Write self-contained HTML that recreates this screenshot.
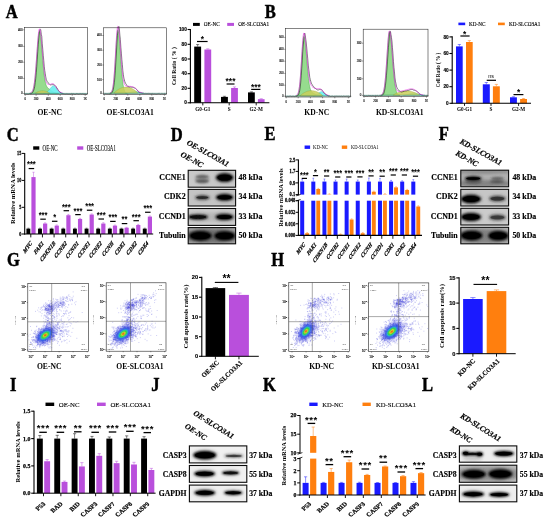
<!DOCTYPE html>
<html lang="en">
<head>
<meta charset="utf-8">
<title>Figure</title>
<style>
html,body{margin:0;padding:0;background:#fff;}
body{width:550px;height:523px;overflow:hidden;}
svg{display:block;font-family:"Liberation Serif",serif;}
</style>
</head>
<body>
<svg width="550" height="523" viewBox="0 0 550 523">
<defs>
<filter id="b1" x="-50%" y="-50%" width="200%" height="200%"><feGaussianBlur stdDeviation="0.9"/></filter>
<filter id="b2" x="-50%" y="-50%" width="200%" height="200%"><feGaussianBlur stdDeviation="1.6"/></filter>
<filter id="b0" x="-50%" y="-50%" width="200%" height="200%"><feGaussianBlur stdDeviation="0.45"/></filter>
<filter id="soft" x="-5%" y="-5%" width="110%" height="110%"><feGaussianBlur stdDeviation="0.3"/></filter>
</defs>
<rect width="550" height="523" fill="#fff"/>
<text font-size="18.4" font-weight="bold" stroke="#000" stroke-width="0.45" transform="translate(5.8 17.8) scale(0.9 1)">A</text>
<text font-size="18.4" font-weight="bold" stroke="#000" stroke-width="0.45" transform="translate(264.7 17.8) scale(0.9 1)">B</text>
<g>
<rect x="24.5" y="27.6" width="62.8" height="66.9" fill="#fff"/>
<path d="M29.75,93.4 L29.75,93.31 30,93.27 30.25,93.22 30.5,93.16 30.75,93.08 31,92.96 31.25,92.82 31.5,92.63 31.75,92.39 32,92.09 32.25,91.71 32.5,91.25 32.75,90.68 33,89.98 33.25,89.15 33.5,88.15 33.75,86.98 34,85.61 34.25,84.04 34.5,82.24 34.75,80.21 35,77.94 35.25,75.44 35.5,72.71 35.75,69.77 36,66.64 36.25,63.36 36.5,59.96 36.75,56.49 37,53.01 37.25,49.59 37.5,46.28 37.75,43.15 38,40.27 38.25,37.7 38.5,35.51 38.75,33.75 39,32.45 39.25,31.67 39.5,31.4 39.75,31.64 40,32.36 40.25,33.53 40.5,35.13 40.75,37.11 41,39.43 41.25,42.03 41.5,44.85 41.75,47.84 42,50.93 42.25,54.06 42.5,57.19 42.75,60.25 43,63.22 43.25,66.05 43.5,68.71 43.75,71.19 44,73.47 44.25,75.54 44.5,77.4 44.75,79.06 45,80.52 45.25,81.79 45.5,82.9 45.75,83.85 46,84.66 46.25,85.36 46.5,85.94 46.75,86.44 47,86.87 47.25,87.23 47.5,87.55 47.75,87.83 48,88.07 48.25,88.3 48.5,88.51 48.75,88.71 49,88.9 49.25,89.09 49.5,89.28 49.75,89.47 50,89.65 50.25,89.84 50.5,90.02 50.75,90.21 51,90.39 51.25,90.58 51.5,90.76 51.75,90.93 52,91.11 52.25,91.27 52.5,91.44 52.75,91.59 53,91.74 53.25,91.89 53.5,92.02 53.75,92.15 54,92.27 54.25,92.38 54.5,92.48 54.75,92.58 55,92.67 55.25,92.75 55.5,92.83 55.75,92.89 56,92.95 56.25,93.01 56.5,93.06 56.75,93.1 57,93.14 57.25,93.18 57.5,93.21 57.75,93.24 58,93.26 58.25,93.28 58.5,93.3 58.75,93.31 L58.75,93.4 Z" fill="#96dc8e" fill-opacity="1" stroke="#3f9f3f" stroke-width="0.45"/>
<path d="M43.25,93.4 L43.25,93.31 43.5,93.29 43.75,93.26 44,93.23 44.25,93.2 44.5,93.15 44.75,93.1 45,93.04 45.25,92.97 45.5,92.89 45.75,92.8 46,92.69 46.25,92.57 46.5,92.43 46.75,92.28 47,92.11 47.25,91.92 47.5,91.71 47.75,91.49 48,91.25 48.25,90.99 48.5,90.71 48.75,90.42 49,90.11 49.25,89.79 49.5,89.46 49.75,89.13 50,88.79 50.25,88.45 50.5,88.12 50.75,87.79 51,87.48 51.25,87.18 51.5,86.9 51.75,86.64 52,86.42 52.25,86.22 52.5,86.06 52.75,85.94 53,85.85 53.25,85.81 53.5,85.8 53.75,85.84 54,85.92 54.25,86.05 54.5,86.21 54.75,86.41 55,86.64 55.25,86.91 55.5,87.19 55.75,87.5 56,87.83 56.25,88.17 56.5,88.51 56.75,88.86 57,89.21 57.25,89.55 57.5,89.89 57.75,90.21 58,90.52 58.25,90.82 58.5,91.1 58.75,91.36 59,91.6 59.25,91.82 59.5,92.02 59.75,92.21 60,92.37 60.25,92.52 60.5,92.65 60.75,92.76 61,92.86 61.25,92.95 61.5,93.03 61.75,93.09 62,93.15 62.25,93.19 62.5,93.23 62.75,93.26 63,93.29 63.25,93.31 L63.25,93.4 Z" fill="#6aeeee" fill-opacity="0.9" stroke="#2aa" stroke-width="0.25"/>
<path d="M35.25,93.4 L35.25,93.15 35.5,92.97 35.75,92.81 36,92.66 36.25,92.52 36.5,92.38 36.75,92.26 37,92.13 37.25,92.02 37.5,91.91 37.75,91.8 38,91.7 38.25,91.6 38.5,91.51 38.75,91.43 39,91.35 39.25,91.27 39.5,91.21 39.75,91.14 40,91.08 40.25,91.03 40.5,90.98 40.75,90.94 41,90.9 41.25,90.87 41.5,90.85 41.75,90.83 42,90.81 42.25,90.8 42.5,90.8 42.75,90.8 43,90.81 43.25,90.83 43.5,90.85 43.75,90.87 44,90.9 44.25,90.94 44.5,90.98 44.75,91.03 45,91.08 45.25,91.14 45.5,91.21 45.75,91.27 46,91.35 46.25,91.43 46.5,91.51 46.75,91.6 47,91.7 47.25,91.8 47.5,91.91 47.75,92.02 48,92.13 48.25,92.26 48.5,92.38 48.75,92.52 49,92.66 49.25,92.81 49.5,92.97 49.75,93.15 L49.75,93.4 Z" fill="#c9cf5a" fill-opacity="0.85" stroke="#8a8f2a" stroke-width="0.25"/>
<polyline points="25.25,93.73 25.75,93.7 26.25,93.97 26.75,93.58 27.25,93.88 27.75,93.76 28.25,93.76 28.75,93.92 29.25,93.55 29.75,93.6 30.25,93.9 30.75,93.58 31.25,93.75 31.75,93.32 32.25,92.79 32.75,92.22 33.25,91.47 33.75,90.14 34.25,88.63 34.75,86.29 35.25,82.42 35.75,78.37 36.25,72.79 36.75,66.55 37.25,59.12 37.75,51.71 38.25,44.26 38.75,38.89 39.25,32.96 39.75,29.76 40.25,29.33 40.75,29.62 41.25,34.23 41.75,36.31 42.25,43.78 42.75,49.24 43.25,55.29 43.75,60.56 44.25,66.35 44.75,70.63 45.25,73.81 45.75,76.87 46.25,79.4 46.75,80.59 47.25,81.59 47.75,82.28 48.25,82.86 48.75,83.31 49.25,83.89 49.75,84.46 50.25,84.7 50.75,85.07 51.25,84.8 51.75,84.72 52.25,84.84 52.75,84.28 53.25,84.71 53.75,84.59 54.25,84.98 54.75,85.35 55.25,85.65 55.75,86.31 56.25,86.81 56.75,88.13 57.25,88.27 57.75,89.4 58.25,90.14 58.75,90.86 59.25,91.33 59.75,91.97 60.25,92.55 60.75,92.57 61.25,93.13 61.75,93.32 62.25,93.41 62.75,93.69 63.25,93.66 63.75,93.67 64.25,93.84 64.75,93.63 65.25,93.75 65.75,93.92 66.25,93.9 66.75,93.58 67.25,93.86 67.75,93.68 68.25,93.83 68.75,93.85 69.25,93.86 69.75,93.79 70.25,93.8 70.75,93.92 71.25,93.53 71.75,93.51 72.25,93.52 72.75,93.89 73.25,93.58 73.75,93.74 74.25,93.83 74.75,93.97 75.25,93.86 75.75,93.98 76.25,93.65 76.75,93.55 77.25,93.71 77.75,93.63 78.25,93.85 78.75,93.74 79.25,93.53 79.75,93.83 80.25,93.57 80.75,93.61 81.25,93.9 81.75,93.59 82.25,93.6 82.75,93.6 83.25,94 83.75,93.57 84.25,93.86 84.75,93.74 85.25,93.76 85.75,94 86.25,93.94 86.75,93.97 87.25,93.57 87.75,93.75" fill="none" stroke="#1a1a1a" stroke-width="0.55"/>
<polyline points="30.25,92.82 30.5,92.76 30.75,92.68 31,92.56 31.25,92.42 31.5,92.23 31.75,91.99 32,91.69 32.25,91.31 32.5,90.85 32.75,90.28 33,89.58 33.25,88.75 33.5,87.75 33.75,86.58 34,85.21 34.25,83.64 34.5,81.84 34.75,79.81 35,77.54 35.25,74.79 35.5,71.88 35.75,68.78 36,65.5 36.25,62.07 36.5,58.54 36.75,54.95 37,51.35 37.25,47.81 37.5,44.38 37.75,41.15 38,38.17 38.25,35.51 38.5,33.22 38.75,31.38 39,30 39.25,29.14 39.5,28.8 39.75,28.98 40,29.64 40.25,30.76 40.5,32.31 40.75,34.24 41,36.52 41.25,39.09 41.5,41.88 41.75,44.84 42,47.91 42.25,51.03 42.5,54.14 42.75,57.2 43,60.16 43.25,62.99 43.5,65.65 43.75,68.13 44,70.4 44.25,72.47 44.5,74.33 44.75,75.99 45,77.44 45.25,78.71 45.5,79.79 45.75,80.72 46,81.5 46.25,82.15 46.5,82.69 46.75,83.13 47,83.48 47.25,83.75 47.5,83.97 47.75,84.13 48,84.25 48.25,84.34 48.5,84.4 48.75,84.45 49,84.47 49.25,84.5 49.5,84.52 49.75,84.55 50,84.64 50.25,84.49 50.5,84.34 50.75,84.2 51,84.07 51.25,83.95 51.5,83.85 51.75,83.78 52,83.72 52.25,83.7 52.5,83.7 52.75,83.73 53,83.8 53.25,83.89 53.5,84.02 53.75,84.19 54,84.39 54.25,84.63 54.5,84.89 54.75,85.19 55,85.51 55.25,85.86 55.5,86.22 55.75,86.6 56,86.98 56.25,87.38 56.5,87.77 56.75,88.16 57,88.55 57.25,88.93 57.5,89.3 57.75,89.65 58,89.98 58.25,90.3 58.5,90.6 58.75,90.87 59,91.13 59.25,91.36 59.5,91.57 59.75,91.76 60,91.94 60.25,92.09 60.5,92.23 60.75,92.34 61,92.45 61.25,92.54 61.5,92.62 61.75,92.68 62,92.74 62.25,92.79 62.5,92.83" fill="none" stroke="#e22ae2" stroke-width="0.6"/>
<line x1="24.5" y1="93.4" x2="87.3" y2="93.4" stroke="#2a7a6a" stroke-width="0.5"/>
<rect x="24.5" y="27.6" width="62.8" height="66.9" fill="none" stroke="#222" stroke-width="0.55"/>
<line x1="23.2" y1="29.8" x2="24.5" y2="29.8" stroke="#222" stroke-width="0.45"/>
<text x="22.6" y="30.7" font-size="2.8" text-anchor="end" font-family='"Liberation Sans", sans-serif' fill="#111" stroke="#111" stroke-width="0.12">400</text>
<line x1="23.2" y1="46.4" x2="24.5" y2="46.4" stroke="#222" stroke-width="0.45"/>
<text x="22.6" y="47.3" font-size="2.8" text-anchor="end" font-family='"Liberation Sans", sans-serif' fill="#111" stroke="#111" stroke-width="0.12">300</text>
<line x1="23.2" y1="62.2" x2="24.5" y2="62.2" stroke="#222" stroke-width="0.45"/>
<text x="22.6" y="63.1" font-size="2.8" text-anchor="end" font-family='"Liberation Sans", sans-serif' fill="#111" stroke="#111" stroke-width="0.12">200</text>
<line x1="23.2" y1="78.4" x2="24.5" y2="78.4" stroke="#222" stroke-width="0.45"/>
<text x="22.6" y="79.3" font-size="2.8" text-anchor="end" font-family='"Liberation Sans", sans-serif' fill="#111" stroke="#111" stroke-width="0.12">100</text>
<line x1="23.2" y1="93.5" x2="24.5" y2="93.5" stroke="#222" stroke-width="0.45"/>
<text x="22.6" y="94.4" font-size="2.8" text-anchor="end" font-family='"Liberation Sans", sans-serif' fill="#111" stroke="#111" stroke-width="0.12">0</text>
<line x1="25.2" y1="94.5" x2="25.2" y2="95.8" stroke="#222" stroke-width="0.45"/>
<text x="25.2" y="100.1" font-size="2.8" text-anchor="middle" font-family='"Liberation Sans", sans-serif' fill="#111" stroke="#111" stroke-width="0.12">0</text>
<line x1="36.1" y1="94.5" x2="36.1" y2="95.8" stroke="#222" stroke-width="0.45"/>
<text x="36.1" y="100.1" font-size="2.8" text-anchor="middle" font-family='"Liberation Sans", sans-serif' fill="#111" stroke="#111" stroke-width="0.12">200</text>
<line x1="48.3" y1="94.5" x2="48.3" y2="95.8" stroke="#222" stroke-width="0.45"/>
<text x="48.3" y="100.1" font-size="2.8" text-anchor="middle" font-family='"Liberation Sans", sans-serif' fill="#111" stroke="#111" stroke-width="0.12">400</text>
<line x1="60.2" y1="94.5" x2="60.2" y2="95.8" stroke="#222" stroke-width="0.45"/>
<text x="60.2" y="100.1" font-size="2.8" text-anchor="middle" font-family='"Liberation Sans", sans-serif' fill="#111" stroke="#111" stroke-width="0.12">600</text>
<line x1="72.2" y1="94.5" x2="72.2" y2="95.8" stroke="#222" stroke-width="0.45"/>
<text x="72.2" y="100.1" font-size="2.8" text-anchor="middle" font-family='"Liberation Sans", sans-serif' fill="#111" stroke="#111" stroke-width="0.12">800</text>
<line x1="85.2" y1="94.5" x2="85.2" y2="95.8" stroke="#222" stroke-width="0.45"/>
<text x="85.2" y="100.1" font-size="2.8" text-anchor="middle" font-family='"Liberation Sans", sans-serif' fill="#111" stroke="#111" stroke-width="0.12">1K</text>
</g>
<text x="49.7" y="115.3" font-size="7.6" text-anchor="middle" font-weight="bold">OE-NC</text>
<g>
<rect x="103.6" y="27.8" width="62.9" height="66.5" fill="#fff"/>
<path d="M109.6,93.3 L109.6,93.22 109.85,93.18 110.1,93.12 110.35,93.04 110.6,92.92 110.85,92.77 111.1,92.55 111.35,92.27 111.6,91.89 111.85,91.39 112.1,90.75 112.35,89.95 112.6,88.94 112.85,87.7 113.1,86.19 113.35,84.39 113.6,82.27 113.85,79.81 114.1,77 114.35,73.86 114.6,70.39 114.85,66.63 115.1,62.63 115.35,58.48 115.6,54.24 115.85,50.02 116.1,45.94 116.35,42.11 116.6,38.65 116.85,35.67 117.1,33.28 117.35,31.55 117.6,30.55 117.85,30.31 118.1,30.7 118.35,31.64 118.6,33.11 118.85,35.06 119.1,37.44 119.35,40.21 119.6,43.28 119.85,46.59 120.1,50.07 120.35,53.65 120.6,57.25 120.85,60.81 121.1,64.29 121.35,67.62 121.6,70.77 121.85,73.7 122.1,76.41 122.35,78.87 122.6,81.08 122.85,83.05 123.1,84.77 123.35,86.27 123.6,87.56 123.85,88.65 124.1,89.57 124.35,90.33 124.6,90.96 124.85,91.47 125.1,91.88 125.35,92.21 125.6,92.47 125.85,92.68 126.1,92.83 126.35,92.95 126.6,93.05 126.85,93.12 127.1,93.17 127.35,93.2 L127.35,93.3 Z" fill="#96dc8e" fill-opacity="1" stroke="#3f9f3f" stroke-width="0.45"/>
<path d="M125.1,93.3 L125.1,93.21 125.35,93.19 125.6,93.17 125.85,93.15 126.1,93.13 126.35,93.11 126.6,93.08 126.85,93.05 127.1,93.02 127.35,92.98 127.6,92.94 127.85,92.9 128.1,92.85 128.35,92.8 128.6,92.74 128.85,92.69 129.1,92.63 129.35,92.56 129.6,92.5 129.85,92.43 130.1,92.36 130.35,92.28 130.6,92.21 130.85,92.13 131.1,92.06 131.35,91.98 131.6,91.91 131.85,91.83 132.1,91.76 132.35,91.69 132.6,91.63 132.85,91.57 133.1,91.51 133.35,91.46 133.6,91.42 133.85,91.38 134.1,91.35 134.35,91.33 134.6,91.31 134.85,91.3 135.1,91.3 135.35,91.31 135.6,91.33 135.85,91.36 136.1,91.4 136.35,91.44 136.6,91.5 136.85,91.56 137.1,91.63 137.35,91.7 137.6,91.78 137.85,91.86 138.1,91.95 138.35,92.03 138.6,92.12 138.85,92.21 139.1,92.29 139.35,92.38 139.6,92.46 139.85,92.53 140.1,92.61 140.35,92.68 140.6,92.74 140.85,92.81 141.1,92.86 141.35,92.91 141.6,92.96 141.85,93.01 142.1,93.04 142.35,93.08 142.6,93.11 142.85,93.14 143.1,93.16 143.35,93.18 143.6,93.2 143.85,93.22 L143.85,93.3 Z" fill="#6aeeee" fill-opacity="0.9" stroke="#2aa" stroke-width="0.25"/>
<path d="M114.1,93.3 L114.1,93.1 114.35,92.77 114.6,92.48 114.85,92.21 115.1,91.97 115.35,91.73 115.6,91.51 115.85,91.29 116.1,91.08 116.35,90.88 116.6,90.68 116.85,90.49 117.1,90.31 117.35,90.13 117.6,89.95 117.85,89.78 118.1,89.62 118.35,89.46 118.6,89.3 118.85,89.15 119.1,89.01 119.35,88.87 119.6,88.73 119.85,88.6 120.1,88.48 120.35,88.36 120.6,88.24 120.85,88.13 121.1,88.02 121.35,87.92 121.6,87.83 121.85,87.74 122.1,87.65 122.35,87.57 122.6,87.5 122.85,87.43 123.1,87.36 123.35,87.3 123.6,87.25 123.85,87.2 124.1,87.16 124.35,87.12 124.6,87.08 124.85,87.06 125.1,87.03 125.35,87.02 125.6,87.01 125.85,87 126.1,87 126.35,87.01 126.6,87.02 126.85,87.03 127.1,87.05 127.35,87.08 127.6,87.11 127.85,87.15 128.1,87.19 128.35,87.24 128.6,87.29 128.85,87.35 129.1,87.41 129.35,87.48 129.6,87.56 129.85,87.63 130.1,87.72 130.35,87.81 130.6,87.9 130.85,88 131.1,88.11 131.35,88.22 131.6,88.33 131.85,88.45 132.1,88.58 132.35,88.71 132.6,88.84 132.85,88.98 133.1,89.12 133.35,89.27 133.6,89.43 133.85,89.58 134.1,89.75 134.35,89.92 134.6,90.09 134.85,90.27 135.1,90.45 135.35,90.64 135.6,90.84 135.85,91.04 136.1,91.25 136.35,91.46 136.6,91.69 136.85,91.92 137.1,92.16 137.35,92.42 137.6,92.71 137.85,93.03 L137.85,93.3 Z" fill="#c9cf5a" fill-opacity="0.85" stroke="#8a8f2a" stroke-width="0.25"/>
<polyline points="104.35,93.53 104.85,93.43 105.35,93.44 105.85,93.67 106.35,93.58 106.85,93.84 107.35,93.78 107.85,93.61 108.35,93.79 108.85,93.44 109.35,93.81 109.85,93.79 110.35,93.75 110.85,93.29 111.35,93.42 111.85,92.7 112.35,92.03 112.85,91.02 113.35,89.16 113.85,86.28 114.35,82.56 114.85,77.52 115.35,70.67 115.85,62.08 116.35,53.93 116.85,44.82 117.35,35.77 117.85,31.54 118.35,27.42 118.85,26.36 119.35,28.8 119.85,35.1 120.35,39.64 120.85,47.21 121.35,53.09 121.85,59.74 122.35,64.62 122.85,70.88 123.35,74.62 123.85,78.07 124.35,79.81 124.85,81.76 125.35,83.16 125.85,83.57 126.35,84.44 126.85,85.36 127.35,86.09 127.85,86.64 128.35,86.34 128.85,87.2 129.35,86.82 129.85,87.23 130.35,86.92 130.85,87.2 131.35,87.13 131.85,87.4 132.35,87.4 132.85,87.12 133.35,87.37 133.85,87.87 134.35,87.85 134.85,88.26 135.35,88.17 135.85,88.74 136.35,89.13 136.85,89.82 137.35,90.44 137.85,90.63 138.35,91.44 138.85,92.39 139.35,92.62 139.85,92.45 140.35,92.67 140.85,92.85 141.35,92.96 141.85,93.11 142.35,93.32 142.85,93.3 143.35,93.24 143.85,93.47 144.35,93.53 144.85,93.5 145.35,93.45 145.85,93.47 146.35,93.56 146.85,93.47 147.35,93.47 147.85,93.55 148.35,93.42 148.85,93.63 149.35,93.48 149.85,93.66 150.35,93.54 150.85,93.81 151.35,93.61 151.85,93.69 152.35,93.51 152.85,93.54 153.35,93.82 153.85,93.57 154.35,93.56 154.85,93.88 155.35,93.79 155.85,93.83 156.35,93.81 156.85,93.88 157.35,93.71 157.85,93.6 158.35,93.45 158.85,93.7 159.35,93.69 159.85,93.48 160.35,93.88 160.85,93.85 161.35,93.73 161.85,93.42 162.35,93.69 162.85,93.58 163.35,93.83 163.85,93.62 164.35,93.42 164.85,93.72 165.35,93.9 165.85,93.62 166.35,93.83 166.85,93.45" fill="none" stroke="#1a1a1a" stroke-width="0.55"/>
<polyline points="110.1,92.72 110.35,92.64 110.6,92.52 110.85,92.37 111.1,92.15 111.35,91.87 111.6,91.49 111.85,90.99 112.1,90.35 112.35,89.55 112.6,88.54 112.85,87.3 113.1,85.79 113.35,83.99 113.6,81.87 113.85,79.41 114.1,76.41 114.35,72.92 114.6,69.16 114.85,65.14 115.1,60.9 115.35,56.51 115.6,52.05 115.85,47.61 116.1,43.32 116.35,39.29 116.6,35.63 116.85,32.46 117.1,29.88 117.35,27.97 117.6,26.8 117.85,26.39 118.1,26.62 118.35,27.4 118.6,28.71 118.85,30.51 119.1,32.75 119.35,35.37 119.6,38.31 119.85,41.49 120.1,44.85 120.35,48.3 120.6,51.79 120.85,55.24 121.1,58.6 121.35,61.83 121.6,64.89 121.85,67.73 122.1,70.35 122.35,72.73 122.6,74.86 122.85,76.76 123.1,78.41 123.35,79.84 123.6,81.07 123.85,82.11 124.1,82.97 124.35,83.69 124.6,84.27 124.85,84.75 125.1,85.12 125.35,85.42 125.6,85.65 125.85,85.83 126.1,85.97 126.35,86.07 126.6,86.14 126.85,86.2 127.1,86.23 127.35,86.26 127.6,86.28 127.85,86.3 128.1,86.31 128.35,86.31 128.6,86.32 128.85,86.33 129.1,86.33 129.35,86.34 129.6,86.35 129.85,86.36 130.1,86.37 130.35,86.39 130.6,86.41 130.85,86.43 131.1,86.46 131.35,86.5 131.6,86.54 131.85,86.58 132.1,86.64 132.35,86.7 132.6,86.77 132.85,86.85 133.1,86.94 133.35,87.03 133.6,87.14 133.85,87.27 134.1,87.4 134.35,87.54 134.6,87.7 134.85,87.87 135.1,88.05 135.35,88.25 135.6,88.47 135.85,88.7 136.1,88.94 136.35,89.21 136.6,89.48 136.85,89.78 137.1,90.09 137.35,90.43 137.6,90.79 137.85,91.19 138.1,91.55 138.35,91.63 138.6,91.72 138.85,91.81 139.1,91.89 139.35,91.98 139.6,92.06 139.85,92.13 140.1,92.21 140.35,92.28 140.6,92.34 140.85,92.41 141.1,92.46 141.35,92.51 141.6,92.56 141.85,92.61 142.1,92.64 142.35,92.68 142.6,92.71 142.85,92.74" fill="none" stroke="#e22ae2" stroke-width="0.6"/>
<line x1="103.6" y1="93.3" x2="166.5" y2="93.3" stroke="#2a7a6a" stroke-width="0.5"/>
<rect x="103.6" y="27.8" width="62.9" height="66.5" fill="none" stroke="#222" stroke-width="0.55"/>
<line x1="102.3" y1="35.5" x2="103.6" y2="35.5" stroke="#222" stroke-width="0.45"/>
<text x="101.7" y="36.4" font-size="2.8" text-anchor="end" font-family='"Liberation Sans", sans-serif' fill="#111" stroke="#111" stroke-width="0.12">400</text>
<line x1="102.3" y1="50.2" x2="103.6" y2="50.2" stroke="#222" stroke-width="0.45"/>
<text x="101.7" y="51.1" font-size="2.8" text-anchor="end" font-family='"Liberation Sans", sans-serif' fill="#111" stroke="#111" stroke-width="0.12">300</text>
<line x1="102.3" y1="65" x2="103.6" y2="65" stroke="#222" stroke-width="0.45"/>
<text x="101.7" y="65.9" font-size="2.8" text-anchor="end" font-family='"Liberation Sans", sans-serif' fill="#111" stroke="#111" stroke-width="0.12">200</text>
<line x1="102.3" y1="79.6" x2="103.6" y2="79.6" stroke="#222" stroke-width="0.45"/>
<text x="101.7" y="80.5" font-size="2.8" text-anchor="end" font-family='"Liberation Sans", sans-serif' fill="#111" stroke="#111" stroke-width="0.12">100</text>
<line x1="102.3" y1="93.4" x2="103.6" y2="93.4" stroke="#222" stroke-width="0.45"/>
<text x="101.7" y="94.3" font-size="2.8" text-anchor="end" font-family='"Liberation Sans", sans-serif' fill="#111" stroke="#111" stroke-width="0.12">0</text>
<line x1="104.3" y1="94.3" x2="104.3" y2="95.6" stroke="#222" stroke-width="0.45"/>
<text x="104.3" y="99.9" font-size="2.8" text-anchor="middle" font-family='"Liberation Sans", sans-serif' fill="#111" stroke="#111" stroke-width="0.12">0</text>
<line x1="115.8" y1="94.3" x2="115.8" y2="95.6" stroke="#222" stroke-width="0.45"/>
<text x="115.8" y="99.9" font-size="2.8" text-anchor="middle" font-family='"Liberation Sans", sans-serif' fill="#111" stroke="#111" stroke-width="0.12">200</text>
<line x1="127.8" y1="94.3" x2="127.8" y2="95.6" stroke="#222" stroke-width="0.45"/>
<text x="127.8" y="99.9" font-size="2.8" text-anchor="middle" font-family='"Liberation Sans", sans-serif' fill="#111" stroke="#111" stroke-width="0.12">400</text>
<line x1="139.8" y1="94.3" x2="139.8" y2="95.6" stroke="#222" stroke-width="0.45"/>
<text x="139.8" y="99.9" font-size="2.8" text-anchor="middle" font-family='"Liberation Sans", sans-serif' fill="#111" stroke="#111" stroke-width="0.12">600</text>
<line x1="151.8" y1="94.3" x2="151.8" y2="95.6" stroke="#222" stroke-width="0.45"/>
<text x="151.8" y="99.9" font-size="2.8" text-anchor="middle" font-family='"Liberation Sans", sans-serif' fill="#111" stroke="#111" stroke-width="0.12">800</text>
<line x1="164.5" y1="94.3" x2="164.5" y2="95.6" stroke="#222" stroke-width="0.45"/>
<text x="164.5" y="99.9" font-size="2.8" text-anchor="middle" font-family='"Liberation Sans", sans-serif' fill="#111" stroke="#111" stroke-width="0.12">1K</text>
</g>
<text x="130.2" y="115.3" font-size="7.6" text-anchor="middle" font-weight="bold">OE-SLCO3A1</text>
<g>
<rect x="285.5" y="28.6" width="65.1" height="68.4" fill="#fff"/>
<path d="M295.75,96 L295.75,95.89 296,95.84 296.25,95.76 296.5,95.66 296.75,95.53 297,95.34 297.25,95.09 297.5,94.76 297.75,94.33 298,93.78 298.25,93.09 298.5,92.22 298.75,91.15 299,89.85 299.25,88.29 299.5,86.45 299.75,84.32 300,81.87 300.25,79.11 300.5,76.05 300.75,72.71 301,69.13 301.25,65.36 301.5,61.48 301.75,57.56 302,53.7 302.25,50 302.5,46.56 302.75,43.49 303,40.89 303.25,38.83 303.5,37.39 303.75,36.63 304,36.54 304.25,36.96 304.5,37.83 304.75,39.14 305,40.84 305.25,42.91 305.5,45.28 305.75,47.91 306,50.75 306.25,53.72 306.5,56.78 306.75,59.87 307,62.93 307.25,65.93 307.5,68.83 307.75,71.58 308,74.16 308.25,76.57 308.5,78.77 308.75,80.77 309,82.57 309.25,84.17 309.5,85.57 309.75,86.8 310,87.86 310.25,88.77 310.5,89.55 310.75,90.2 311,90.76 311.25,91.22 311.5,91.61 311.75,91.94 312,92.22 312.25,92.46 312.5,92.66 312.75,92.84 313,93 313.25,93.15 313.5,93.29 313.75,93.42 314,93.54 314.25,93.66 314.5,93.78 314.75,93.9 315,94.01 315.25,94.12 315.5,94.24 315.75,94.35 316,94.45 316.25,94.56 316.5,94.66 316.75,94.76 317,94.86 317.25,94.95 317.5,95.04 317.75,95.12 318,95.2 318.25,95.28 318.5,95.35 318.75,95.41 319,95.47 319.25,95.53 319.5,95.58 319.75,95.63 320,95.67 320.25,95.71 320.5,95.75 320.75,95.78 321,95.81 321.25,95.83 321.5,95.85 321.75,95.87 322,95.89 322.25,95.91 L322.25,96 Z" fill="#96dc8e" fill-opacity="1" stroke="#3f9f3f" stroke-width="0.45"/>
<path d="M313,96 L313,95.91 313.25,95.89 313.5,95.86 313.75,95.83 314,95.79 314.25,95.74 314.5,95.69 314.75,95.62 315,95.55 315.25,95.46 315.5,95.36 315.75,95.25 316,95.13 316.25,94.99 316.5,94.84 316.75,94.68 317,94.5 317.25,94.31 317.5,94.11 317.75,93.9 318,93.69 318.25,93.46 318.5,93.24 318.75,93.02 319,92.8 319.25,92.6 319.5,92.4 319.75,92.22 320,92.05 320.25,91.91 320.5,91.79 320.75,91.7 321,91.64 321.25,91.61 321.5,91.6 321.75,91.63 322,91.69 322.25,91.78 322.5,91.91 322.75,92.05 323,92.22 323.25,92.41 323.5,92.61 323.75,92.83 324,93.06 324.25,93.29 324.5,93.52 324.75,93.74 325,93.96 325.25,94.18 325.5,94.38 325.75,94.57 326,94.75 326.25,94.91 326.5,95.06 326.75,95.2 327,95.32 327.25,95.42 327.5,95.52 327.75,95.6 328,95.67 328.25,95.73 328.5,95.78 328.75,95.82 329,95.86 329.25,95.89 329.5,95.91 L329.5,96 Z" fill="#6aeeee" fill-opacity="0.9" stroke="#2aa" stroke-width="0.25"/>
<path d="M300.25,96 L300.25,95.64 300.5,95.37 300.75,95.13 301,94.9 301.25,94.69 301.5,94.49 301.75,94.29 302,94.11 302.25,93.93 302.5,93.75 302.75,93.58 303,93.41 303.25,93.25 303.5,93.1 303.75,92.95 304,92.8 304.25,92.66 304.5,92.52 304.75,92.39 305,92.26 305.25,92.14 305.5,92.02 305.75,91.91 306,91.8 306.25,91.69 306.5,91.59 306.75,91.5 307,91.41 307.25,91.32 307.5,91.24 307.75,91.16 308,91.09 308.25,91.02 308.5,90.96 308.75,90.9 309,90.85 309.25,90.8 309.5,90.76 309.75,90.72 310,90.69 310.25,90.66 310.5,90.64 310.75,90.62 311,90.61 311.25,90.6 311.5,90.6 311.75,90.6 312,90.61 312.25,90.62 312.5,90.64 312.75,90.66 313,90.69 313.25,90.72 313.5,90.76 313.75,90.8 314,90.85 314.25,90.9 314.5,90.96 314.75,91.02 315,91.09 315.25,91.16 315.5,91.24 315.75,91.32 316,91.41 316.25,91.5 316.5,91.59 316.75,91.69 317,91.8 317.25,91.91 317.5,92.02 317.75,92.14 318,92.26 318.25,92.39 318.5,92.52 318.75,92.66 319,92.8 319.25,92.95 319.5,93.1 319.75,93.25 320,93.41 320.25,93.58 320.5,93.75 320.75,93.93 321,94.11 321.25,94.29 321.5,94.49 321.75,94.69 322,94.9 322.25,95.13 322.5,95.37 322.75,95.64 L322.75,96 Z" fill="#c9cf5a" fill-opacity="0.85" stroke="#8a8f2a" stroke-width="0.25"/>
<polyline points="286.25,96.52 286.75,96.56 287.25,96.42 287.75,96.35 288.25,96.38 288.75,96.55 289.25,96.19 289.75,96.49 290.25,96.13 290.75,96.4 291.25,96.58 291.75,96.46 292.25,96.54 292.75,96.19 293.25,96.31 293.75,96.41 294.25,96.57 294.75,96.49 295.25,96.37 295.75,96.27 296.25,96.38 296.75,96.09 297.25,95.98 297.75,95.5 298.25,95.21 298.75,94.28 299.25,92.48 299.75,90.34 300.25,86.99 300.75,82.07 301.25,75.58 301.75,68.2 302.25,60.38 302.75,51.4 303.25,44.9 303.75,40.1 304.25,34.45 304.75,33.1 305.25,35.28 305.75,39.18 306.25,43.02 306.75,48.09 307.25,53.85 307.75,58.83 308.25,65.12 308.75,69.2 309.25,73.15 309.75,77.3 310.25,79.5 310.75,81.27 311.25,83.05 311.75,83.88 312.25,84.66 312.75,85.67 313.25,86.21 313.75,86.64 314.25,87.52 314.75,88.29 315.25,88.29 315.75,88.63 316.25,89.26 316.75,89.43 317.25,89.84 317.75,89.81 318.25,89.83 318.75,89.88 319.25,89.7 319.75,89.44 320.25,89.6 320.75,89.69 321.25,89.91 321.75,89.58 322.25,90.35 322.75,91.18 323.25,91.73 323.75,92.64 324.25,92.8 324.75,93.57 325.25,94.09 325.75,94.07 326.25,94.6 326.75,95.18 327.25,95.29 327.75,95.53 328.25,96.01 328.75,95.77 329.25,95.97 329.75,96.09 330.25,96.25 330.75,96.53 331.25,96.43 331.75,96.24 332.25,96.37 332.75,96.1 333.25,96.41 333.75,96.49 334.25,96.5 334.75,96.15 335.25,96.36 335.75,96.2 336.25,96.27 336.75,96.21 337.25,96.36 337.75,96.21 338.25,96.2 338.75,96.4 339.25,96.13 339.75,96.51 340.25,96.52 340.75,96.2 341.25,96.19 341.75,96.27 342.25,96.33 342.75,96.59 343.25,96.28 343.75,96.13 344.25,96.16 344.75,96.49 345.25,96.45 345.75,96.31 346.25,96.39 346.75,96.14 347.25,96.37 347.75,96.15 348.25,96.14 348.75,96.33 349.25,96.59 349.75,96.51 350.25,96.2 350.75,96.36 351.25,96.32" fill="none" stroke="#1a1a1a" stroke-width="0.55"/>
<polyline points="296,95.44 296.25,95.36 296.5,95.26 296.75,95.13 297,94.94 297.25,94.69 297.5,94.36 297.75,93.93 298,93.38 298.25,92.69 298.5,91.82 298.75,90.75 299,89.45 299.25,87.89 299.5,86.05 299.75,83.92 300,81.47 300.25,78.35 300.5,75.02 300.75,71.44 301,67.63 301.25,63.65 301.5,59.57 301.75,55.46 302,51.41 302.25,47.52 302.5,43.91 302.75,40.67 303,37.9 303.25,35.68 303.5,34.09 303.75,33.17 304,32.94 304.25,33.22 304.5,33.95 304.75,35.13 305,36.71 305.25,38.65 305.5,40.9 305.75,43.42 306,46.14 306.25,49.01 306.5,51.97 306.75,54.96 307,57.94 307.25,60.85 307.5,63.66 307.75,66.34 308,68.85 308.25,71.19 308.5,73.33 308.75,75.27 309,77.02 309.25,78.57 309.5,79.93 309.75,81.12 310,82.15 310.25,83.03 310.5,83.78 310.75,84.42 311,84.96 311.25,85.41 311.5,85.79 311.75,86.12 312,86.4 312.25,86.64 312.5,86.85 312.75,87.04 313,87.21 313.25,87.36 313.5,87.51 313.75,87.65 314,87.78 314.25,87.91 314.5,88.03 314.75,88.14 315,88.25 315.25,88.35 315.5,88.44 315.75,88.52 316,88.59 316.25,88.65 316.5,88.7 316.75,88.73 317,88.76 317.25,88.77 317.5,88.77 317.75,88.77 318,88.75 318.25,88.73 318.5,88.71 318.75,88.7 319,88.68 319.25,88.67 319.5,88.68 319.75,88.7 320,88.74 320.25,88.8 320.5,88.89 320.75,89.01 321,89.15 321.25,89.33 321.5,89.55 321.75,89.8 322,90.09 322.25,90.42 322.5,90.8 322.75,91.22 323,91.76 323.25,91.96 323.5,92.17 323.75,92.4 324,92.63 324.25,92.86 324.5,93.1 324.75,93.33 325,93.55 325.25,93.77 325.5,93.97 325.75,94.16 326,94.34 326.25,94.51 326.5,94.66 326.75,94.79 327,94.92 327.25,95.02 327.5,95.12 327.75,95.2 328,95.27 328.25,95.33 328.5,95.38 328.75,95.42" fill="none" stroke="#e22ae2" stroke-width="0.6"/>
<line x1="285.5" y1="96" x2="350.6" y2="96" stroke="#2a7a6a" stroke-width="0.5"/>
<rect x="285.5" y="28.6" width="65.1" height="68.4" fill="none" stroke="#222" stroke-width="0.55"/>
<line x1="284.2" y1="37.4" x2="285.5" y2="37.4" stroke="#222" stroke-width="0.45"/>
<text x="283.6" y="38.3" font-size="2.8" text-anchor="end" font-family='"Liberation Sans", sans-serif' fill="#111" stroke="#111" stroke-width="0.12">500</text>
<line x1="284.2" y1="49.3" x2="285.5" y2="49.3" stroke="#222" stroke-width="0.45"/>
<text x="283.6" y="50.2" font-size="2.8" text-anchor="end" font-family='"Liberation Sans", sans-serif' fill="#111" stroke="#111" stroke-width="0.12">400</text>
<line x1="284.2" y1="61.2" x2="285.5" y2="61.2" stroke="#222" stroke-width="0.45"/>
<text x="283.6" y="62.1" font-size="2.8" text-anchor="end" font-family='"Liberation Sans", sans-serif' fill="#111" stroke="#111" stroke-width="0.12">300</text>
<line x1="284.2" y1="73.4" x2="285.5" y2="73.4" stroke="#222" stroke-width="0.45"/>
<text x="283.6" y="74.3" font-size="2.8" text-anchor="end" font-family='"Liberation Sans", sans-serif' fill="#111" stroke="#111" stroke-width="0.12">200</text>
<line x1="284.2" y1="85.2" x2="285.5" y2="85.2" stroke="#222" stroke-width="0.45"/>
<text x="283.6" y="86.1" font-size="2.8" text-anchor="end" font-family='"Liberation Sans", sans-serif' fill="#111" stroke="#111" stroke-width="0.12">100</text>
<line x1="284.2" y1="96.2" x2="285.5" y2="96.2" stroke="#222" stroke-width="0.45"/>
<text x="283.6" y="97.1" font-size="2.8" text-anchor="end" font-family='"Liberation Sans", sans-serif' fill="#111" stroke="#111" stroke-width="0.12">0</text>
<line x1="286.2" y1="97" x2="286.2" y2="98.3" stroke="#222" stroke-width="0.45"/>
<text x="286.2" y="102.6" font-size="2.8" text-anchor="middle" font-family='"Liberation Sans", sans-serif' fill="#111" stroke="#111" stroke-width="0.12">0</text>
<line x1="298.2" y1="97" x2="298.2" y2="98.3" stroke="#222" stroke-width="0.45"/>
<text x="298.2" y="102.6" font-size="2.8" text-anchor="middle" font-family='"Liberation Sans", sans-serif' fill="#111" stroke="#111" stroke-width="0.12">200</text>
<line x1="310.4" y1="97" x2="310.4" y2="98.3" stroke="#222" stroke-width="0.45"/>
<text x="310.4" y="102.6" font-size="2.8" text-anchor="middle" font-family='"Liberation Sans", sans-serif' fill="#111" stroke="#111" stroke-width="0.12">400</text>
<line x1="322.6" y1="97" x2="322.6" y2="98.3" stroke="#222" stroke-width="0.45"/>
<text x="322.6" y="102.6" font-size="2.8" text-anchor="middle" font-family='"Liberation Sans", sans-serif' fill="#111" stroke="#111" stroke-width="0.12">600</text>
<line x1="334.8" y1="97" x2="334.8" y2="98.3" stroke="#222" stroke-width="0.45"/>
<text x="334.8" y="102.6" font-size="2.8" text-anchor="middle" font-family='"Liberation Sans", sans-serif' fill="#111" stroke="#111" stroke-width="0.12">800</text>
<line x1="348.4" y1="97" x2="348.4" y2="98.3" stroke="#222" stroke-width="0.45"/>
<text x="348.4" y="102.6" font-size="2.8" text-anchor="middle" font-family='"Liberation Sans", sans-serif' fill="#111" stroke="#111" stroke-width="0.12">1K</text>
</g>
<text x="316.7" y="115.3" font-size="7.6" text-anchor="middle" font-weight="bold">KD-NC</text>
<g>
<rect x="363.2" y="29.2" width="64.8" height="67.1" fill="#fff"/>
<path d="M380.45,95.3 L380.45,95.21 380.7,95.17 380.95,95.12 381.2,95.04 381.45,94.94 381.7,94.81 381.95,94.63 382.2,94.4 382.45,94.1 382.7,93.72 382.95,93.23 383.2,92.63 383.45,91.88 383.7,90.96 383.95,89.86 384.2,88.54 384.45,86.98 384.7,85.17 384.95,83.08 385.2,80.72 385.45,78.07 385.7,75.14 385.95,71.95 386.2,68.52 386.45,64.89 386.7,61.12 386.95,57.26 387.2,53.38 387.45,49.57 387.7,45.91 387.95,42.49 388.2,39.39 388.45,36.7 388.7,34.49 388.95,32.83 389.2,31.76 389.45,31.31 389.7,31.45 389.95,32.07 390.2,33.14 390.45,34.64 390.7,36.55 390.95,38.82 391.2,41.4 391.45,44.25 391.7,47.3 391.95,50.51 392.2,53.81 392.45,57.15 392.7,60.48 392.95,63.76 393.2,66.94 393.45,69.99 393.7,72.88 393.95,75.58 394.2,78.09 394.45,80.39 394.7,82.48 394.95,84.35 395.2,86.03 395.45,87.5 395.7,88.79 395.95,89.9 396.2,90.86 396.45,91.68 396.7,92.36 396.95,92.94 397.2,93.42 397.45,93.81 397.7,94.13 397.95,94.38 398.2,94.59 398.45,94.75 398.7,94.88 398.95,94.98 399.2,95.06 399.45,95.12 399.7,95.17 399.95,95.2 L399.95,95.3 Z" fill="#96dc8e" fill-opacity="1" stroke="#3f9f3f" stroke-width="0.45"/>
<path d="M402.7,95.3 L402.7,95.21 402.95,95.2 403.2,95.18 403.45,95.16 403.7,95.14 403.95,95.11 404.2,95.09 404.45,95.06 404.7,95.02 404.95,94.98 405.2,94.94 405.45,94.9 405.7,94.85 405.95,94.79 406.2,94.73 406.45,94.67 406.7,94.61 406.95,94.54 407.2,94.46 407.45,94.38 407.7,94.3 407.95,94.22 408.2,94.13 408.45,94.04 408.7,93.95 408.95,93.86 409.2,93.77 409.45,93.68 409.7,93.59 409.95,93.51 410.2,93.42 410.45,93.34 410.7,93.27 410.95,93.2 411.2,93.13 411.45,93.07 411.7,93.02 411.95,92.98 412.2,92.95 412.45,92.92 412.7,92.91 412.95,92.9 413.2,92.9 413.45,92.91 413.7,92.93 413.95,92.95 414.2,92.98 414.45,93.02 414.7,93.07 414.95,93.12 415.2,93.17 415.45,93.23 415.7,93.3 415.95,93.36 416.2,93.44 416.45,93.51 416.7,93.59 416.95,93.67 417.2,93.75 417.45,93.83 417.7,93.91 417.95,93.99 418.2,94.07 418.45,94.15 418.7,94.22 418.95,94.3 419.2,94.37 419.45,94.44 419.7,94.51 419.95,94.57 420.2,94.63 420.45,94.69 420.7,94.74 420.95,94.8 421.2,94.84 421.45,94.89 421.7,94.93 421.95,94.97 422.2,95 422.45,95.04 422.7,95.06 422.95,95.09 423.2,95.12 423.45,95.14 423.7,95.16 423.95,95.18 424.2,95.19 424.45,95.21 424.7,95.22 L424.7,95.3 Z" fill="#6aeeee" fill-opacity="0.9" stroke="#2aa" stroke-width="0.25"/>
<path d="M393.2,95.3 L393.2,95.08 393.45,94.88 393.7,94.71 393.95,94.55 394.2,94.39 394.45,94.24 394.7,94.1 394.95,93.97 395.2,93.83 395.45,93.71 395.7,93.58 395.95,93.46 396.2,93.34 396.45,93.23 396.7,93.11 396.95,93 397.2,92.9 397.45,92.79 397.7,92.69 397.95,92.59 398.2,92.5 398.45,92.41 398.7,92.32 398.95,92.23 399.2,92.14 399.45,92.06 399.7,91.98 399.95,91.9 400.2,91.83 400.45,91.76 400.7,91.69 400.95,91.62 401.2,91.56 401.45,91.5 401.7,91.44 401.95,91.39 402.2,91.34 402.45,91.29 402.7,91.24 402.95,91.2 403.2,91.16 403.45,91.12 403.7,91.09 403.95,91.05 404.2,91.03 404.45,91 404.7,90.98 404.95,90.96 405.2,90.94 405.45,90.93 405.7,90.92 405.95,90.91 406.2,90.9 406.45,90.9 406.7,90.9 406.95,90.9 407.2,90.91 407.45,90.92 407.7,90.93 407.95,90.95 408.2,90.97 408.45,90.99 408.7,91.02 408.95,91.04 409.2,91.07 409.45,91.11 409.7,91.14 409.95,91.18 410.2,91.22 410.45,91.27 410.7,91.32 410.95,91.37 411.2,91.42 411.45,91.48 411.7,91.54 411.95,91.6 412.2,91.66 412.45,91.73 412.7,91.8 412.95,91.87 413.2,91.95 413.45,92.03 413.7,92.11 413.95,92.19 414.2,92.28 414.45,92.37 414.7,92.46 414.95,92.56 415.2,92.65 415.45,92.75 415.7,92.86 415.95,92.96 416.2,93.07 416.45,93.18 416.7,93.29 416.95,93.41 417.2,93.53 417.45,93.65 417.7,93.78 417.95,93.91 418.2,94.05 418.45,94.19 418.7,94.33 418.95,94.48 419.2,94.64 419.45,94.81 419.7,95 L419.7,95.3 Z" fill="#c9cf5a" fill-opacity="0.85" stroke="#8a8f2a" stroke-width="0.25"/>
<polyline points="363.95,95.71 364.45,95.47 364.95,95.65 365.45,95.86 365.95,95.59 366.45,95.71 366.95,95.67 367.45,95.82 367.95,95.84 368.45,95.44 368.95,95.51 369.45,95.53 369.95,95.75 370.45,95.54 370.95,95.86 371.45,95.8 371.95,95.5 372.45,95.46 372.95,95.87 373.45,95.65 373.95,95.69 374.45,95.84 374.95,95.84 375.45,95.45 375.95,95.9 376.45,95.63 376.95,95.86 377.45,95.44 377.95,95.7 378.45,95.85 378.95,95.81 379.45,95.42 379.95,95.61 380.45,95.8 380.95,95.34 381.45,95.71 381.95,95.16 382.45,95.11 382.95,94.84 383.45,94.02 383.95,93.16 384.45,91.18 384.95,88.92 385.45,85.38 385.95,81.33 386.45,75.38 386.95,69.24 387.45,61.82 387.95,54.74 388.45,47.35 388.95,41.21 389.45,34.21 389.95,31.89 390.45,31.4 390.95,34.4 391.45,37.55 391.95,41.12 392.45,47.65 392.95,53.75 393.45,61.5 393.95,67.34 394.45,71.89 394.95,77.83 395.45,81.2 395.95,83.53 396.45,86.15 396.95,87.53 397.45,88.48 397.95,89.37 398.45,89.77 398.95,90.47 399.45,91.08 399.95,91.21 400.45,91.59 400.95,92.1 401.45,92 401.95,91.99 402.45,91.81 402.95,91.89 403.45,91.5 403.95,91.6 404.45,91.08 404.95,90.96 405.45,90.93 405.95,90.84 406.45,90.81 406.95,90.83 407.45,90.52 407.95,90.39 408.45,90.45 408.95,90.15 409.45,89.98 409.95,90 410.45,89.66 410.95,89.64 411.45,89.53 411.95,89.75 412.45,89.55 412.95,89.68 413.45,90.07 413.95,90.06 414.45,90.31 414.95,90.33 415.45,90.58 415.95,90.8 416.45,91.11 416.95,91.32 417.45,91.69 417.95,92.49 418.45,92.65 418.95,93.36 419.45,93.85 419.95,93.8 420.45,94.45 420.95,94.98 421.45,95.03 421.95,95.32 422.45,95.43 422.95,95.13 423.45,95.62 423.95,95.69 424.45,95.33 424.95,95.68 425.45,95.68 425.95,95.44 426.45,95.46 426.95,95.4 427.45,95.42 427.95,95.84 428.45,95.77" fill="none" stroke="#1a1a1a" stroke-width="0.55"/>
<polyline points="380.95,94.72 381.2,94.64 381.45,94.54 381.7,94.41 381.95,94.23 382.2,94 382.45,93.7 382.7,93.32 382.95,92.83 383.2,92.23 383.45,91.48 383.7,90.56 383.95,89.46 384.2,88.14 384.45,86.58 384.7,84.77 384.95,82.68 385.2,80.32 385.45,77.67 385.7,74.74 385.95,71.55 386.2,68.12 386.45,64.49 386.7,60.72 386.95,56.86 387.2,52.98 387.45,49.17 387.7,45.51 387.95,42.09 388.2,38.99 388.45,36.3 388.7,34.09 388.95,32.43 389.2,31.36 389.45,30.91 389.7,31.05 389.95,31.67 390.2,32.74 390.45,34.24 390.7,36.15 390.95,38.42 391.2,41 391.45,43.85 391.7,46.9 391.95,50.11 392.2,53.41 392.45,56.75 392.7,60.08 392.95,63.36 393.2,66.32 393.45,69.17 393.7,71.88 393.95,74.43 394.2,76.78 394.45,78.93 394.7,80.88 394.95,82.62 395.2,84.16 395.45,85.51 395.7,86.67 395.95,87.66 396.2,88.5 396.45,89.2 396.7,89.78 396.95,90.24 397.2,90.61 397.45,90.9 397.7,91.12 397.95,91.27 398.2,91.38 398.45,91.46 398.7,91.49 398.95,91.51 399.2,91.5 399.45,91.47 399.7,91.44 399.95,91.4 400.2,91.35 400.45,91.29 400.7,91.23 400.95,91.17 401.2,91.11 401.45,91.05 401.7,90.99 401.95,90.93 402.2,90.87 402.45,90.81 402.7,90.75 402.95,90.7 403.2,90.64 403.45,90.58 403.7,90.52 403.95,90.47 404.2,90.41 404.45,90.36 404.7,90.3 404.95,90.24 405.2,90.18 405.45,90.12 405.7,90.06 405.95,90 406.2,89.94 406.45,89.87 406.7,89.81 406.95,89.74 407.2,89.67 407.45,89.6 407.7,89.54 407.95,89.47 408.2,89.4 408.45,89.33 408.7,89.27 408.95,89.21 409.2,89.14 409.45,89.09 409.7,89.04 409.95,88.99 410.2,88.95 410.45,88.91 410.7,88.88 410.95,88.86 411.2,88.85 411.45,88.85 411.7,88.86 411.95,88.88 412.2,88.91 412.45,88.95 412.7,89.01 412.95,89.07 413.2,89.15 413.45,89.24 413.7,89.34 413.95,89.45 414.2,89.56 414.45,89.69 414.7,89.83 414.95,89.97 415.2,90.12 415.45,90.28 415.7,90.45 415.95,90.62 416.2,90.81 416.45,90.99 416.7,91.18 416.95,91.38 417.2,91.58 417.45,91.78 417.7,91.99 417.95,92.2 418.2,92.42 418.45,92.63 418.7,92.86 418.95,93.08 419.2,93.31 419.45,93.55 419.7,93.81 419.95,94.1 420.2,94.23 420.45,94.29 420.7,94.34 420.95,94.4 421.2,94.44 421.45,94.49 421.7,94.53 421.95,94.57 422.2,94.6 422.45,94.64 422.7,94.66 422.95,94.69 423.2,94.72 423.45,94.74" fill="none" stroke="#e22ae2" stroke-width="0.6"/>
<line x1="363.2" y1="95.3" x2="428" y2="95.3" stroke="#2a7a6a" stroke-width="0.5"/>
<rect x="363.2" y="29.2" width="64.8" height="67.1" fill="none" stroke="#222" stroke-width="0.55"/>
<line x1="361.9" y1="43.2" x2="363.2" y2="43.2" stroke="#222" stroke-width="0.45"/>
<text x="361.3" y="44.1" font-size="2.8" text-anchor="end" font-family='"Liberation Sans", sans-serif' fill="#111" stroke="#111" stroke-width="0.12">300</text>
<line x1="361.9" y1="61" x2="363.2" y2="61" stroke="#222" stroke-width="0.45"/>
<text x="361.3" y="61.9" font-size="2.8" text-anchor="end" font-family='"Liberation Sans", sans-serif' fill="#111" stroke="#111" stroke-width="0.12">200</text>
<line x1="361.9" y1="78.8" x2="363.2" y2="78.8" stroke="#222" stroke-width="0.45"/>
<text x="361.3" y="79.7" font-size="2.8" text-anchor="end" font-family='"Liberation Sans", sans-serif' fill="#111" stroke="#111" stroke-width="0.12">100</text>
<line x1="361.9" y1="95.4" x2="363.2" y2="95.4" stroke="#222" stroke-width="0.45"/>
<text x="361.3" y="96.3" font-size="2.8" text-anchor="end" font-family='"Liberation Sans", sans-serif' fill="#111" stroke="#111" stroke-width="0.12">0</text>
<line x1="364" y1="96.3" x2="364" y2="97.6" stroke="#222" stroke-width="0.45"/>
<text x="364" y="101.9" font-size="2.8" text-anchor="middle" font-family='"Liberation Sans", sans-serif' fill="#111" stroke="#111" stroke-width="0.12">0</text>
<line x1="375.6" y1="96.3" x2="375.6" y2="97.6" stroke="#222" stroke-width="0.45"/>
<text x="375.6" y="101.9" font-size="2.8" text-anchor="middle" font-family='"Liberation Sans", sans-serif' fill="#111" stroke="#111" stroke-width="0.12">200</text>
<line x1="388.4" y1="96.3" x2="388.4" y2="97.6" stroke="#222" stroke-width="0.45"/>
<text x="388.4" y="101.9" font-size="2.8" text-anchor="middle" font-family='"Liberation Sans", sans-serif' fill="#111" stroke="#111" stroke-width="0.12">400</text>
<line x1="401.2" y1="96.3" x2="401.2" y2="97.6" stroke="#222" stroke-width="0.45"/>
<text x="401.2" y="101.9" font-size="2.8" text-anchor="middle" font-family='"Liberation Sans", sans-serif' fill="#111" stroke="#111" stroke-width="0.12">600</text>
<line x1="414" y1="96.3" x2="414" y2="97.6" stroke="#222" stroke-width="0.45"/>
<text x="414" y="101.9" font-size="2.8" text-anchor="middle" font-family='"Liberation Sans", sans-serif' fill="#111" stroke="#111" stroke-width="0.12">800</text>
<line x1="426.5" y1="96.3" x2="426.5" y2="97.6" stroke="#222" stroke-width="0.45"/>
<text x="426.5" y="101.9" font-size="2.8" text-anchor="middle" font-family='"Liberation Sans", sans-serif' fill="#111" stroke="#111" stroke-width="0.12">1K</text>
</g>
<text x="399.8" y="115.3" font-size="7.6" text-anchor="middle" font-weight="bold">KD-SLCO3A1</text>
<rect x="194.2" y="46.6" width="6.9" height="56.2" fill="#000"/>
<line x1="197.65" y1="44.6" x2="197.65" y2="46.6" stroke="#000" stroke-width="0.5"/>
<line x1="196.05" y1="44.6" x2="199.25" y2="44.6" stroke="#000" stroke-width="0.5"/>
<rect x="204.4" y="49.5" width="6.8" height="53.3" fill="#b94fdc"/>
<line x1="207.8" y1="48.8" x2="207.8" y2="49.5" stroke="#b94fdc" stroke-width="0.5"/>
<line x1="206.2" y1="48.8" x2="209.4" y2="48.8" stroke="#b94fdc" stroke-width="0.5"/>
<rect x="221" y="96.9" width="6.9" height="5.9" fill="#000"/>
<line x1="224.45" y1="96.3" x2="224.45" y2="96.9" stroke="#000" stroke-width="0.5"/>
<line x1="222.85" y1="96.3" x2="226.05" y2="96.3" stroke="#000" stroke-width="0.5"/>
<rect x="231.1" y="88" width="6.8" height="14.8" fill="#b94fdc"/>
<line x1="234.5" y1="86.9" x2="234.5" y2="88" stroke="#b94fdc" stroke-width="0.5"/>
<line x1="232.9" y1="86.9" x2="236.1" y2="86.9" stroke="#b94fdc" stroke-width="0.5"/>
<rect x="248" y="92.4" width="6.8" height="10.4" fill="#000"/>
<line x1="251.4" y1="91.9" x2="251.4" y2="92.4" stroke="#000" stroke-width="0.5"/>
<line x1="249.8" y1="91.9" x2="253" y2="91.9" stroke="#000" stroke-width="0.5"/>
<rect x="257.9" y="99.2" width="6.7" height="3.6" fill="#b94fdc"/>
<line x1="261.25" y1="98.7" x2="261.25" y2="99.2" stroke="#b94fdc" stroke-width="0.5"/>
<line x1="259.65" y1="98.7" x2="262.85" y2="98.7" stroke="#b94fdc" stroke-width="0.5"/>
<line x1="190.4" y1="28.95" x2="190.4" y2="103.35" stroke="#000" stroke-width="1.1"/>
<line x1="187.6" y1="29.5" x2="190.4" y2="29.5" stroke="#000" stroke-width="1.1"/>
<text x="186.8" y="31.14" font-size="4.7" text-anchor="end" font-weight="bold" font-family='"Liberation Sans", sans-serif' stroke="#000" stroke-width="0.15">100</text>
<line x1="187.6" y1="44.3" x2="190.4" y2="44.3" stroke="#000" stroke-width="1.1"/>
<text x="186.8" y="45.95" font-size="4.7" text-anchor="end" font-weight="bold" font-family='"Liberation Sans", sans-serif' stroke="#000" stroke-width="0.15">80</text>
<line x1="187.6" y1="59" x2="190.4" y2="59" stroke="#000" stroke-width="1.1"/>
<text x="186.8" y="60.65" font-size="4.7" text-anchor="end" font-weight="bold" font-family='"Liberation Sans", sans-serif' stroke="#000" stroke-width="0.15">60</text>
<line x1="187.6" y1="73.7" x2="190.4" y2="73.7" stroke="#000" stroke-width="1.1"/>
<text x="186.8" y="75.34" font-size="4.7" text-anchor="end" font-weight="bold" font-family='"Liberation Sans", sans-serif' stroke="#000" stroke-width="0.15">40</text>
<line x1="187.6" y1="88.3" x2="190.4" y2="88.3" stroke="#000" stroke-width="1.1"/>
<text x="186.8" y="89.94" font-size="4.7" text-anchor="end" font-weight="bold" font-family='"Liberation Sans", sans-serif' stroke="#000" stroke-width="0.15">20</text>
<line x1="187.6" y1="102.8" x2="190.4" y2="102.8" stroke="#000" stroke-width="1.1"/>
<text x="186.8" y="104.44" font-size="4.7" text-anchor="end" font-weight="bold" font-family='"Liberation Sans", sans-serif' stroke="#000" stroke-width="0.15">0</text>
<line x1="189.85" y1="102.8" x2="269.4" y2="102.8" stroke="#000" stroke-width="1.1"/>
<rect x="193" y="22.9" width="6.8" height="3" fill="#000"/>
<rect x="227.2" y="22.9" width="6.8" height="3" fill="#b94fdc"/>
<text x="203.8" y="26.4" font-size="5.2" stroke="#000" stroke-width="0.12">OE-NC</text>
<text x="238.3" y="26.4" font-size="5.2" stroke="#000" stroke-width="0.12">OE-SLCO3A1</text>
<text x="202.5" y="41.68" font-size="8.4" text-anchor="middle" font-weight="bold" font-family='"Liberation Sans", sans-serif'>*</text>
<line x1="197" y1="41.5" x2="207.6" y2="41.5" stroke="#000" stroke-width="1.2"/>
<text x="230.5" y="83.98" font-size="8.4" text-anchor="middle" font-weight="bold" font-family='"Liberation Sans", sans-serif'>***</text>
<line x1="226.6" y1="84" x2="234.5" y2="84" stroke="#000" stroke-width="1.2"/>
<text x="255.9" y="89.58" font-size="8.4" text-anchor="middle" font-weight="bold" font-family='"Liberation Sans", sans-serif'>***</text>
<line x1="251.2" y1="89.4" x2="260.4" y2="89.4" stroke="#000" stroke-width="1.2"/>
<text x="175.6" y="66" font-size="5.8" text-anchor="middle" font-weight="bold" transform="rotate(-90 175.6 66)" textLength="38" lengthAdjust="spacingAndGlyphs">Cell Ratio ( % )</text>
<line x1="202.8" y1="102.8" x2="202.8" y2="105.4" stroke="#000" stroke-width="0.9"/>
<text x="202.8" y="111.4" font-size="5.2" text-anchor="middle" font-weight="bold">G0-G1</text>
<line x1="229.2" y1="102.8" x2="229.2" y2="105.4" stroke="#000" stroke-width="0.9"/>
<text x="229.2" y="111.4" font-size="5.2" text-anchor="middle" font-weight="bold">S</text>
<line x1="256.2" y1="102.8" x2="256.2" y2="105.4" stroke="#000" stroke-width="0.9"/>
<text x="256.2" y="111.4" font-size="5.2" text-anchor="middle" font-weight="bold">G2-M</text>
<rect x="456" y="46.4" width="6.7" height="56.9" fill="#1a1aff"/>
<line x1="459.35" y1="44.5" x2="459.35" y2="46.4" stroke="#1a1aff" stroke-width="0.5"/>
<line x1="457.75" y1="44.5" x2="460.95" y2="44.5" stroke="#1a1aff" stroke-width="0.5"/>
<rect x="466" y="42" width="6.7" height="61.3" fill="#ff7f0e"/>
<line x1="469.35" y1="40.6" x2="469.35" y2="42" stroke="#ff7f0e" stroke-width="0.5"/>
<line x1="467.75" y1="40.6" x2="470.95" y2="40.6" stroke="#ff7f0e" stroke-width="0.5"/>
<rect x="482.8" y="84.3" width="7" height="19" fill="#1a1aff"/>
<line x1="486.3" y1="82.5" x2="486.3" y2="84.3" stroke="#1a1aff" stroke-width="0.5"/>
<line x1="484.7" y1="82.5" x2="487.9" y2="82.5" stroke="#1a1aff" stroke-width="0.5"/>
<rect x="492.9" y="86.3" width="6.9" height="17" fill="#ff7f0e"/>
<line x1="496.35" y1="84.4" x2="496.35" y2="86.3" stroke="#ff7f0e" stroke-width="0.5"/>
<line x1="494.75" y1="84.4" x2="497.95" y2="84.4" stroke="#ff7f0e" stroke-width="0.5"/>
<rect x="510" y="97.3" width="6.9" height="6" fill="#1a1aff"/>
<line x1="513.45" y1="96.8" x2="513.45" y2="97.3" stroke="#1a1aff" stroke-width="0.5"/>
<line x1="511.85" y1="96.8" x2="515.05" y2="96.8" stroke="#1a1aff" stroke-width="0.5"/>
<rect x="520.1" y="99" width="6.9" height="4.3" fill="#ff7f0e"/>
<line x1="523.55" y1="98.5" x2="523.55" y2="99" stroke="#ff7f0e" stroke-width="0.5"/>
<line x1="521.95" y1="98.5" x2="525.15" y2="98.5" stroke="#ff7f0e" stroke-width="0.5"/>
<line x1="452.2" y1="36.35" x2="452.2" y2="103.85" stroke="#000" stroke-width="1.1"/>
<line x1="449.4" y1="36.9" x2="452.2" y2="36.9" stroke="#000" stroke-width="1.1"/>
<text x="448.6" y="38.55" font-size="4.7" text-anchor="end" font-weight="bold" font-family='"Liberation Sans", sans-serif' stroke="#000" stroke-width="0.15">80</text>
<line x1="449.4" y1="53.5" x2="452.2" y2="53.5" stroke="#000" stroke-width="1.1"/>
<text x="448.6" y="55.15" font-size="4.7" text-anchor="end" font-weight="bold" font-family='"Liberation Sans", sans-serif' stroke="#000" stroke-width="0.15">60</text>
<line x1="449.4" y1="70.1" x2="452.2" y2="70.1" stroke="#000" stroke-width="1.1"/>
<text x="448.6" y="71.74" font-size="4.7" text-anchor="end" font-weight="bold" font-family='"Liberation Sans", sans-serif' stroke="#000" stroke-width="0.15">40</text>
<line x1="449.4" y1="86.7" x2="452.2" y2="86.7" stroke="#000" stroke-width="1.1"/>
<text x="448.6" y="88.34" font-size="4.7" text-anchor="end" font-weight="bold" font-family='"Liberation Sans", sans-serif' stroke="#000" stroke-width="0.15">20</text>
<line x1="449.4" y1="103.3" x2="452.2" y2="103.3" stroke="#000" stroke-width="1.1"/>
<text x="448.6" y="104.94" font-size="4.7" text-anchor="end" font-weight="bold" font-family='"Liberation Sans", sans-serif' stroke="#000" stroke-width="0.15">0</text>
<line x1="451.65" y1="103.3" x2="531" y2="103.3" stroke="#000" stroke-width="1.1"/>
<rect x="458.4" y="22.6" width="6.8" height="2.6" fill="#1a1aff"/>
<rect x="498" y="22.6" width="6.8" height="2.6" fill="#ff7f0e"/>
<text x="469" y="25.5" font-size="5.2" stroke="#000" stroke-width="0.12">KD-NC</text>
<text x="509" y="25.5" font-size="5.2" stroke="#000" stroke-width="0.12">KD-SLCO3A1</text>
<text x="464.6" y="36.68" font-size="8.4" text-anchor="middle" font-weight="bold" font-family='"Liberation Sans", sans-serif'>*</text>
<line x1="460.4" y1="36" x2="469.6" y2="36" stroke="#000" stroke-width="1.2"/>
<text x="491" y="77.5" font-size="5.4" text-anchor="middle" font-family='"Liberation Sans", sans-serif'>ns</text>
<line x1="486.7" y1="80.3" x2="496" y2="80.3" stroke="#000" stroke-width="1.2"/>
<text x="518.6" y="95.08" font-size="8.4" text-anchor="middle" font-weight="bold" font-family='"Liberation Sans", sans-serif'>*</text>
<line x1="513.5" y1="94.6" x2="523.4" y2="94.6" stroke="#000" stroke-width="1.2"/>
<text x="440.2" y="70" font-size="5.8" text-anchor="middle" font-weight="bold" transform="rotate(-90 440.2 70)" textLength="34.5" lengthAdjust="spacingAndGlyphs">Cell Ratio ( % )</text>
<line x1="464.5" y1="103.3" x2="464.5" y2="105.9" stroke="#000" stroke-width="0.9"/>
<text x="464.5" y="111.4" font-size="5.2" text-anchor="middle" font-weight="bold">G0-G1</text>
<line x1="491" y1="103.3" x2="491" y2="105.9" stroke="#000" stroke-width="0.9"/>
<text x="491" y="111.4" font-size="5.2" text-anchor="middle" font-weight="bold">S</text>
<line x1="518.6" y1="103.3" x2="518.6" y2="105.9" stroke="#000" stroke-width="0.9"/>
<text x="518.6" y="111.4" font-size="5.2" text-anchor="middle" font-weight="bold">G2-M</text>
<text font-size="18.4" font-weight="bold" stroke="#000" stroke-width="0.45" transform="translate(6.7 140.6) scale(0.9 1)">C</text>
<text font-size="18.4" font-weight="bold" stroke="#000" stroke-width="0.45" transform="translate(170.7 140.5) scale(0.9 1)">D</text>
<text font-size="18.4" font-weight="bold" stroke="#000" stroke-width="0.45" transform="translate(264.5 139.8) scale(0.9 1)">E</text>
<text font-size="18.4" font-weight="bold" stroke="#000" stroke-width="0.45" transform="translate(438.7 139.8) scale(0.9 1)">F</text>
<rect x="26.4" y="228.63" width="3.9" height="5.37" fill="#000"/>
<line x1="28.35" y1="228.13" x2="28.35" y2="228.63" stroke="#000" stroke-width="0.4"/>
<line x1="27.35" y1="228.13" x2="29.35" y2="228.13" stroke="#000" stroke-width="0.4"/>
<rect x="31.4" y="177.08" width="4.2" height="56.92" fill="#b94fdc"/>
<line x1="33.5" y1="172.25" x2="33.5" y2="177.08" stroke="#b94fdc" stroke-width="0.45"/>
<line x1="32.4" y1="172.25" x2="34.6" y2="172.25" stroke="#b94fdc" stroke-width="0.45"/>
<text font-size="8.4" transform="translate(31.4 167.43) scale(0.9 1)" text-anchor="middle" font-weight="bold" font-family='"Liberation Sans", sans-serif'>***</text>
<line x1="28.65" y1="168.55" x2="34.15" y2="168.55" stroke="#000" stroke-width="1.2"/>
<line x1="30.8" y1="234" x2="30.8" y2="237.4" stroke="#000" stroke-width="0.9"/>
<text font-size="6.6" text-anchor="end" transform="translate(32.4 243.6) scale(0.74 1) rotate(-45)" font-weight="bold" font-style="italic" stroke="#000" stroke-width="0.25">MYC</text>
<rect x="38.04" y="228.63" width="3.9" height="5.37" fill="#000"/>
<line x1="39.99" y1="228.13" x2="39.99" y2="228.63" stroke="#000" stroke-width="0.4"/>
<line x1="38.99" y1="228.13" x2="40.99" y2="228.13" stroke="#000" stroke-width="0.4"/>
<rect x="43.04" y="223.53" width="4.2" height="10.47" fill="#b94fdc"/>
<line x1="45.14" y1="222.88" x2="45.14" y2="223.53" stroke="#b94fdc" stroke-width="0.45"/>
<line x1="44.04" y1="222.88" x2="46.24" y2="222.88" stroke="#b94fdc" stroke-width="0.45"/>
<text font-size="8.4" transform="translate(43.04 218.07) scale(0.9 1)" text-anchor="middle" font-weight="bold" font-family='"Liberation Sans", sans-serif'>***</text>
<line x1="40.29" y1="219.18" x2="45.79" y2="219.18" stroke="#000" stroke-width="1.2"/>
<line x1="42.44" y1="234" x2="42.44" y2="237.4" stroke="#000" stroke-width="0.9"/>
<text font-size="6.6" text-anchor="end" transform="translate(44.04 243.6) scale(0.74 1) rotate(-45)" font-weight="bold" font-style="italic" stroke="#000" stroke-width="0.25">PAK1</text>
<rect x="49.68" y="228.63" width="3.9" height="5.37" fill="#000"/>
<line x1="51.63" y1="228.13" x2="51.63" y2="228.63" stroke="#000" stroke-width="0.4"/>
<line x1="50.63" y1="228.13" x2="52.63" y2="228.13" stroke="#000" stroke-width="0.4"/>
<rect x="54.68" y="225.62" width="4.2" height="8.38" fill="#b94fdc"/>
<line x1="56.78" y1="224.98" x2="56.78" y2="225.62" stroke="#b94fdc" stroke-width="0.45"/>
<line x1="55.68" y1="224.98" x2="57.88" y2="224.98" stroke="#b94fdc" stroke-width="0.45"/>
<text font-size="8.4" transform="translate(54.68 220.16) scale(0.9 1)" text-anchor="middle" font-weight="bold" font-family='"Liberation Sans", sans-serif'>*</text>
<line x1="51.93" y1="221.28" x2="57.43" y2="221.28" stroke="#000" stroke-width="1.2"/>
<line x1="54.08" y1="234" x2="54.08" y2="237.4" stroke="#000" stroke-width="0.9"/>
<text font-size="6.6" text-anchor="end" transform="translate(55.68 243.6) scale(0.74 1) rotate(-45)" font-weight="bold" font-style="italic" stroke="#000" stroke-width="0.25">CDKN1B</text>
<rect x="61.32" y="228.63" width="3.9" height="5.37" fill="#000"/>
<line x1="63.27" y1="228.13" x2="63.27" y2="228.63" stroke="#000" stroke-width="0.4"/>
<line x1="62.27" y1="228.13" x2="64.27" y2="228.13" stroke="#000" stroke-width="0.4"/>
<rect x="66.32" y="215.2" width="4.2" height="18.8" fill="#b94fdc"/>
<line x1="68.42" y1="214.4" x2="68.42" y2="215.2" stroke="#b94fdc" stroke-width="0.45"/>
<line x1="67.32" y1="214.4" x2="69.52" y2="214.4" stroke="#b94fdc" stroke-width="0.45"/>
<text font-size="8.4" transform="translate(66.32 209.58) scale(0.9 1)" text-anchor="middle" font-weight="bold" font-family='"Liberation Sans", sans-serif'>***</text>
<line x1="63.57" y1="210.7" x2="69.07" y2="210.7" stroke="#000" stroke-width="1.2"/>
<line x1="65.72" y1="234" x2="65.72" y2="237.4" stroke="#000" stroke-width="0.9"/>
<text font-size="6.6" text-anchor="end" transform="translate(67.32 243.6) scale(0.74 1) rotate(-45)" font-weight="bold" font-style="italic" stroke="#000" stroke-width="0.25">CCNB2</text>
<rect x="72.96" y="228.63" width="3.9" height="5.37" fill="#000"/>
<line x1="74.91" y1="228.13" x2="74.91" y2="228.63" stroke="#000" stroke-width="0.4"/>
<line x1="73.91" y1="228.13" x2="75.91" y2="228.13" stroke="#000" stroke-width="0.4"/>
<rect x="77.96" y="218.96" width="4.2" height="15.04" fill="#b94fdc"/>
<line x1="80.06" y1="218.32" x2="80.06" y2="218.96" stroke="#b94fdc" stroke-width="0.45"/>
<line x1="78.96" y1="218.32" x2="81.16" y2="218.32" stroke="#b94fdc" stroke-width="0.45"/>
<text font-size="8.4" transform="translate(77.96 213.5) scale(0.9 1)" text-anchor="middle" font-weight="bold" font-family='"Liberation Sans", sans-serif'>***</text>
<line x1="75.21" y1="214.62" x2="80.71" y2="214.62" stroke="#000" stroke-width="1.2"/>
<line x1="77.36" y1="234" x2="77.36" y2="237.4" stroke="#000" stroke-width="0.9"/>
<text font-size="6.6" text-anchor="end" transform="translate(78.96 243.6) scale(0.74 1) rotate(-45)" font-weight="bold" font-style="italic" stroke="#000" stroke-width="0.25">CCND1</text>
<rect x="84.6" y="228.63" width="3.9" height="5.37" fill="#000"/>
<line x1="86.55" y1="228.13" x2="86.55" y2="228.63" stroke="#000" stroke-width="0.4"/>
<line x1="85.55" y1="228.13" x2="87.55" y2="228.13" stroke="#000" stroke-width="0.4"/>
<rect x="89.6" y="214.56" width="4.2" height="19.44" fill="#b94fdc"/>
<line x1="91.7" y1="213.92" x2="91.7" y2="214.56" stroke="#b94fdc" stroke-width="0.45"/>
<line x1="90.6" y1="213.92" x2="92.8" y2="213.92" stroke="#b94fdc" stroke-width="0.45"/>
<text font-size="8.4" transform="translate(89.6 209.1) scale(0.9 1)" text-anchor="middle" font-weight="bold" font-family='"Liberation Sans", sans-serif'>***</text>
<line x1="86.85" y1="210.22" x2="92.35" y2="210.22" stroke="#000" stroke-width="1.2"/>
<line x1="89" y1="234" x2="89" y2="237.4" stroke="#000" stroke-width="0.9"/>
<text font-size="6.6" text-anchor="end" transform="translate(90.6 243.6) scale(0.74 1) rotate(-45)" font-weight="bold" font-style="italic" stroke="#000" stroke-width="0.25">CCNE1</text>
<rect x="96.24" y="228.63" width="3.9" height="5.37" fill="#000"/>
<line x1="98.19" y1="228.13" x2="98.19" y2="228.63" stroke="#000" stroke-width="0.4"/>
<line x1="97.19" y1="228.13" x2="99.19" y2="228.13" stroke="#000" stroke-width="0.4"/>
<rect x="101.24" y="223.53" width="4.2" height="10.47" fill="#b94fdc"/>
<line x1="103.34" y1="222.72" x2="103.34" y2="223.53" stroke="#b94fdc" stroke-width="0.45"/>
<line x1="102.24" y1="222.72" x2="104.44" y2="222.72" stroke="#b94fdc" stroke-width="0.45"/>
<text font-size="8.4" transform="translate(101.24 217.91) scale(0.9 1)" text-anchor="middle" font-weight="bold" font-family='"Liberation Sans", sans-serif'>***</text>
<line x1="98.49" y1="219.02" x2="103.99" y2="219.02" stroke="#000" stroke-width="1.2"/>
<line x1="100.64" y1="234" x2="100.64" y2="237.4" stroke="#000" stroke-width="0.9"/>
<text font-size="6.6" text-anchor="end" transform="translate(102.24 243.6) scale(0.74 1) rotate(-45)" font-weight="bold" font-style="italic" stroke="#000" stroke-width="0.25">CCNE2</text>
<rect x="107.88" y="228.63" width="3.9" height="5.37" fill="#000"/>
<line x1="109.83" y1="228.13" x2="109.83" y2="228.63" stroke="#000" stroke-width="0.4"/>
<line x1="108.83" y1="228.13" x2="110.83" y2="228.13" stroke="#000" stroke-width="0.4"/>
<rect x="112.88" y="225.62" width="4.2" height="8.38" fill="#b94fdc"/>
<line x1="114.98" y1="225.09" x2="114.98" y2="225.62" stroke="#b94fdc" stroke-width="0.45"/>
<line x1="113.88" y1="225.09" x2="116.08" y2="225.09" stroke="#b94fdc" stroke-width="0.45"/>
<text font-size="8.4" transform="translate(112.88 220.27) scale(0.9 1)" text-anchor="middle" font-weight="bold" font-family='"Liberation Sans", sans-serif'>***</text>
<line x1="110.13" y1="221.39" x2="115.63" y2="221.39" stroke="#000" stroke-width="1.2"/>
<line x1="112.28" y1="234" x2="112.28" y2="237.4" stroke="#000" stroke-width="0.9"/>
<text font-size="6.6" text-anchor="end" transform="translate(113.88 243.6) scale(0.74 1) rotate(-45)" font-weight="bold" font-style="italic" stroke="#000" stroke-width="0.25">CCNH</text>
<rect x="119.52" y="228.63" width="3.9" height="5.37" fill="#000"/>
<line x1="121.47" y1="228.13" x2="121.47" y2="228.63" stroke="#000" stroke-width="0.4"/>
<line x1="120.47" y1="228.13" x2="122.47" y2="228.13" stroke="#000" stroke-width="0.4"/>
<rect x="124.52" y="227.72" width="4.2" height="6.28" fill="#b94fdc"/>
<line x1="126.62" y1="227.29" x2="126.62" y2="227.72" stroke="#b94fdc" stroke-width="0.45"/>
<line x1="125.52" y1="227.29" x2="127.72" y2="227.29" stroke="#b94fdc" stroke-width="0.45"/>
<text font-size="8.4" transform="translate(124.52 222.47) scale(0.9 1)" text-anchor="middle" font-weight="bold" font-family='"Liberation Sans", sans-serif'>**</text>
<line x1="121.77" y1="223.59" x2="127.27" y2="223.59" stroke="#000" stroke-width="1.2"/>
<line x1="123.92" y1="234" x2="123.92" y2="237.4" stroke="#000" stroke-width="0.9"/>
<text font-size="6.6" text-anchor="end" transform="translate(125.52 243.6) scale(0.74 1) rotate(-45)" font-weight="bold" font-style="italic" stroke="#000" stroke-width="0.25">CDK1</text>
<rect x="131.16" y="228.63" width="3.9" height="5.37" fill="#000"/>
<line x1="133.11" y1="228.13" x2="133.11" y2="228.63" stroke="#000" stroke-width="0.4"/>
<line x1="132.11" y1="228.13" x2="134.11" y2="228.13" stroke="#000" stroke-width="0.4"/>
<rect x="136.16" y="225.03" width="4.2" height="8.97" fill="#b94fdc"/>
<line x1="138.26" y1="224.39" x2="138.26" y2="225.03" stroke="#b94fdc" stroke-width="0.45"/>
<line x1="137.16" y1="224.39" x2="139.36" y2="224.39" stroke="#b94fdc" stroke-width="0.45"/>
<text font-size="8.4" transform="translate(136.16 219.57) scale(0.9 1)" text-anchor="middle" font-weight="bold" font-family='"Liberation Sans", sans-serif'>***</text>
<line x1="133.41" y1="220.69" x2="138.91" y2="220.69" stroke="#000" stroke-width="1.2"/>
<line x1="135.56" y1="234" x2="135.56" y2="237.4" stroke="#000" stroke-width="0.9"/>
<text font-size="6.6" text-anchor="end" transform="translate(137.16 243.6) scale(0.74 1) rotate(-45)" font-weight="bold" font-style="italic" stroke="#000" stroke-width="0.25">CDK2</text>
<rect x="142.8" y="228.63" width="3.9" height="5.37" fill="#000"/>
<line x1="144.75" y1="228.13" x2="144.75" y2="228.63" stroke="#000" stroke-width="0.4"/>
<line x1="143.75" y1="228.13" x2="145.75" y2="228.13" stroke="#000" stroke-width="0.4"/>
<rect x="147.8" y="216.6" width="4.2" height="17.4" fill="#b94fdc"/>
<line x1="149.9" y1="215.96" x2="149.9" y2="216.6" stroke="#b94fdc" stroke-width="0.45"/>
<line x1="148.8" y1="215.96" x2="151" y2="215.96" stroke="#b94fdc" stroke-width="0.45"/>
<text font-size="8.4" transform="translate(147.8 211.14) scale(0.9 1)" text-anchor="middle" font-weight="bold" font-family='"Liberation Sans", sans-serif'>***</text>
<line x1="145.05" y1="212.26" x2="150.55" y2="212.26" stroke="#000" stroke-width="1.2"/>
<line x1="147.2" y1="234" x2="147.2" y2="237.4" stroke="#000" stroke-width="0.9"/>
<text font-size="6.6" text-anchor="end" transform="translate(148.8 243.6) scale(0.74 1) rotate(-45)" font-weight="bold" font-style="italic" stroke="#000" stroke-width="0.25">CDK4</text>
<line x1="24.7" y1="152.9" x2="24.7" y2="234.5" stroke="#000" stroke-width="1.1"/>
<line x1="24.2" y1="234" x2="153.2" y2="234" stroke="#000" stroke-width="1.1"/>
<line x1="21.8" y1="153.4" x2="24.7" y2="153.4" stroke="#000" stroke-width="1"/>
<text font-size="5.4" transform="translate(21.3 155.2) scale(0.78 1)" text-anchor="end" font-weight="bold" stroke="#000" stroke-width="0.25">15</text>
<line x1="21.8" y1="180.4" x2="24.7" y2="180.4" stroke="#000" stroke-width="1"/>
<text font-size="5.4" transform="translate(21.3 182.2) scale(0.78 1)" text-anchor="end" font-weight="bold" stroke="#000" stroke-width="0.25">10</text>
<line x1="21.8" y1="207.3" x2="24.7" y2="207.3" stroke="#000" stroke-width="1"/>
<text font-size="5.4" transform="translate(21.3 209.1) scale(0.78 1)" text-anchor="end" font-weight="bold" stroke="#000" stroke-width="0.25">5</text>
<line x1="21.8" y1="234" x2="24.7" y2="234" stroke="#000" stroke-width="1"/>
<text font-size="5.4" transform="translate(21.3 235.8) scale(0.78 1)" text-anchor="end" font-weight="bold" stroke="#000" stroke-width="0.25">0</text>
<rect x="33.2" y="146.3" width="6.1" height="3.4" fill="#000"/>
<rect x="77.2" y="146.3" width="6.1" height="3.4" fill="#b94fdc"/>
<text font-size="7.2" transform="translate(42.6 150.5) scale(0.68 1)" stroke="#000" stroke-width="0.1">OE-NC</text>
<text font-size="7.2" transform="translate(86.8 150.5) scale(0.68 1)" stroke="#000" stroke-width="0.1">OE-SLCO3A1</text>
<text x="14.6" y="193.3" font-size="5.6" text-anchor="middle" font-weight="bold" transform="rotate(-90 14.6 193.3)" textLength="61.5" lengthAdjust="spacingAndGlyphs">Relative mRNA levels</text>
<clipPath id="bc1"><rect x="188.2" y="170.3" width="47.4" height="16.9"/></clipPath>
<rect x="188.2" y="170.3" width="47.4" height="16.9" fill="#c9c9c9"/>
<g clip-path="url(#bc1)">
<ellipse cx="202.2" cy="176.7" rx="6.6" ry="1.5" fill="#2a2a2a" fill-opacity="0.75" filter="url(#b1)"/>
<ellipse cx="202.2" cy="181" rx="6.6" ry="1.7" fill="#2a2a2a" fill-opacity="0.8" filter="url(#b1)"/>
<ellipse cx="202.2" cy="179" rx="7.5" ry="4.5" fill="#666" fill-opacity="0.35" filter="url(#b2)"/>
<ellipse cx="224.6" cy="177.6" rx="9.7" ry="5.4" fill="#333" fill-opacity="0.45" filter="url(#b2)"/>
<ellipse cx="224.6" cy="177.6" rx="8.4" ry="4" fill="#000" fill-opacity="1" filter="url(#b1)"/>
<ellipse cx="224.6" cy="177.6" rx="7.22" ry="2.88" fill="#000" fill-opacity="1" filter="url(#b0)"/>
</g>
<rect x="188.2" y="170.3" width="47.4" height="16.9" fill="none" stroke="#0a0a0a" stroke-width="1.1"/>
<clipPath id="bc2"><rect x="188.2" y="189.4" width="47.4" height="16.6"/></clipPath>
<rect x="188.2" y="189.4" width="47.4" height="16.6" fill="#c4c4c4"/>
<g clip-path="url(#bc2)">
<ellipse cx="202.4" cy="197.6" rx="8.3" ry="3.4" fill="#333" fill-opacity="0.25" filter="url(#b2)"/>
<ellipse cx="202.4" cy="197.6" rx="7" ry="2" fill="#222" fill-opacity="0.8" filter="url(#b1)"/>
<ellipse cx="202.4" cy="197.6" rx="6.02" ry="1.44" fill="#222" fill-opacity="0.8" filter="url(#b0)"/>
<ellipse cx="224.6" cy="197.3" rx="9.7" ry="4.4" fill="#333" fill-opacity="0.45" filter="url(#b2)"/>
<ellipse cx="224.6" cy="197.3" rx="8.4" ry="3" fill="#000" fill-opacity="1" filter="url(#b1)"/>
<ellipse cx="224.6" cy="197.3" rx="7.22" ry="2.16" fill="#000" fill-opacity="1" filter="url(#b0)"/>
</g>
<rect x="188.2" y="189.4" width="47.4" height="16.6" fill="none" stroke="#0a0a0a" stroke-width="1.1"/>
<clipPath id="bc3"><rect x="188.2" y="208.5" width="47.4" height="16.9"/></clipPath>
<rect x="188.2" y="208.5" width="47.4" height="16.9" fill="#cdcdcd"/>
<g clip-path="url(#bc3)">
<ellipse cx="211" cy="217" rx="30" ry="4.5" fill="#888" fill-opacity="0.3" filter="url(#b2)"/>
<ellipse cx="198" cy="217" rx="10.9" ry="3.7" fill="#333" fill-opacity="0.3" filter="url(#b2)"/>
<ellipse cx="198" cy="217" rx="9.6" ry="2.3" fill="#0a0a0a" fill-opacity="1" filter="url(#b1)"/>
<ellipse cx="198" cy="217" rx="8.26" ry="1.66" fill="#0a0a0a" fill-opacity="1" filter="url(#b0)"/>
<ellipse cx="224.4" cy="217" rx="9.9" ry="4.2" fill="#333" fill-opacity="0.45" filter="url(#b2)"/>
<ellipse cx="224.4" cy="217" rx="8.6" ry="2.8" fill="#000" fill-opacity="1" filter="url(#b1)"/>
<ellipse cx="224.4" cy="217" rx="7.4" ry="2.02" fill="#000" fill-opacity="1" filter="url(#b0)"/>
</g>
<rect x="188.2" y="208.5" width="47.4" height="16.9" fill="none" stroke="#0a0a0a" stroke-width="1.1"/>
<clipPath id="bc4"><rect x="188.2" y="227.6" width="47.4" height="16.2"/></clipPath>
<rect x="188.2" y="227.6" width="47.4" height="16.2" fill="#a6a6a6"/>
<g clip-path="url(#bc4)">
<ellipse cx="211" cy="236" rx="30" ry="7" fill="#444" fill-opacity="0.55" filter="url(#b2)"/>
<ellipse cx="200.4" cy="235.8" rx="12.5" ry="6" fill="#333" fill-opacity="0.45" filter="url(#b2)"/>
<ellipse cx="200.4" cy="235.8" rx="11.2" ry="4.6" fill="#000" fill-opacity="1" filter="url(#b1)"/>
<ellipse cx="200.4" cy="235.8" rx="9.63" ry="3.31" fill="#000" fill-opacity="1" filter="url(#b0)"/>
<ellipse cx="224.6" cy="235.8" rx="11.5" ry="5.8" fill="#333" fill-opacity="0.45" filter="url(#b2)"/>
<ellipse cx="224.6" cy="235.8" rx="10.2" ry="4.4" fill="#000" fill-opacity="1" filter="url(#b1)"/>
<ellipse cx="224.6" cy="235.8" rx="8.77" ry="3.17" fill="#000" fill-opacity="1" filter="url(#b0)"/>
</g>
<rect x="188.2" y="227.6" width="47.4" height="16.2" fill="none" stroke="#0a0a0a" stroke-width="1.1"/>
<text x="185.6" y="180.3" font-size="7.9" text-anchor="end" font-weight="bold" stroke="#000" stroke-width="0.15">CCNE1</text>
<text x="238.6" y="180.3" font-size="7.9" font-weight="bold" stroke="#000" stroke-width="0.15">48 kDa</text>
<text x="185.6" y="199.4" font-size="7.9" text-anchor="end" font-weight="bold" stroke="#000" stroke-width="0.15">CDK2</text>
<text x="238.6" y="199.4" font-size="7.9" font-weight="bold" stroke="#000" stroke-width="0.15">34 kDa</text>
<text x="185.6" y="219.2" font-size="7.9" text-anchor="end" font-weight="bold" stroke="#000" stroke-width="0.15">CCND1</text>
<text x="238.6" y="219.2" font-size="7.9" font-weight="bold" stroke="#000" stroke-width="0.15">33 kDa</text>
<text x="185.6" y="238.1" font-size="7.9" text-anchor="end" font-weight="bold" stroke="#000" stroke-width="0.15">Tubulin</text>
<text x="238.6" y="238.1" font-size="7.9" font-weight="bold" stroke="#000" stroke-width="0.15">50 kDa</text>
<text font-size="7.9" text-anchor="start" transform="translate(180 156) scale(1 1) rotate(29)" font-weight="bold" font-style="italic" stroke="#000" stroke-width="0.2">OE-NC</text>
<text font-size="7.9" text-anchor="start" transform="translate(186.2 144.2) scale(1 1) rotate(29)" font-weight="bold" font-style="italic" stroke="#000" stroke-width="0.2">OE-SLCO3A1</text>
<clipPath id="bc5"><rect x="460.8" y="170.2" width="47.8" height="16.6"/></clipPath>
<rect x="460.8" y="170.2" width="47.8" height="16.6" fill="#b0b0b0"/>
<g clip-path="url(#bc5)">
<ellipse cx="484" cy="183.5" rx="30" ry="3.5" fill="#555" fill-opacity="0.5" filter="url(#b2)"/>
<ellipse cx="484" cy="171.5" rx="30" ry="2.2" fill="#666" fill-opacity="0.5" filter="url(#b2)"/>
<ellipse cx="473.2" cy="181.8" rx="8.5" ry="2.4" fill="#444" fill-opacity="0.5" filter="url(#b1)"/>
<ellipse cx="473.2" cy="178.5" rx="9.5" ry="3.3" fill="#333" fill-opacity="0.3" filter="url(#b2)"/>
<ellipse cx="473.2" cy="178.5" rx="8.2" ry="1.9" fill="#000" fill-opacity="1" filter="url(#b1)"/>
<ellipse cx="473.2" cy="178.5" rx="7.05" ry="1.37" fill="#000" fill-opacity="1" filter="url(#b0)"/>
<ellipse cx="497.4" cy="178.4" rx="6.6" ry="1.3" fill="#3a3a3a" fill-opacity="0.75" filter="url(#b1)"/>
<ellipse cx="497" cy="181.6" rx="7.2" ry="1.6" fill="#3a3a3a" fill-opacity="0.7" filter="url(#b1)"/>
</g>
<rect x="460.8" y="170.2" width="47.8" height="16.6" fill="none" stroke="#0a0a0a" stroke-width="1.1"/>
<clipPath id="bc6"><rect x="460.8" y="189.3" width="47.8" height="16.7"/></clipPath>
<rect x="460.8" y="189.3" width="47.8" height="16.7" fill="#c6c6c6"/>
<g clip-path="url(#bc6)">
<ellipse cx="471" cy="199" rx="11.1" ry="5.4" fill="#333" fill-opacity="0.45" filter="url(#b2)"/>
<ellipse cx="471" cy="199" rx="9.8" ry="4" fill="#000" fill-opacity="1" filter="url(#b1)"/>
<ellipse cx="471" cy="199" rx="8.43" ry="2.88" fill="#000" fill-opacity="1" filter="url(#b0)"/>
<ellipse cx="497.4" cy="198.6" rx="9.3" ry="4.1" fill="#333" fill-opacity="0.25" filter="url(#b2)"/>
<ellipse cx="497.4" cy="198.6" rx="8" ry="2.7" fill="#2a2a2a" fill-opacity="0.8" filter="url(#b1)"/>
<ellipse cx="497.4" cy="198.6" rx="6.88" ry="1.94" fill="#2a2a2a" fill-opacity="0.8" filter="url(#b0)"/>
</g>
<rect x="460.8" y="189.3" width="47.8" height="16.7" fill="none" stroke="#0a0a0a" stroke-width="1.1"/>
<clipPath id="bc7"><rect x="460.8" y="208.3" width="47.8" height="16.7"/></clipPath>
<rect x="460.8" y="208.3" width="47.8" height="16.7" fill="#cbcbcb"/>
<g clip-path="url(#bc7)">
<ellipse cx="471" cy="217" rx="11.1" ry="5.2" fill="#333" fill-opacity="0.45" filter="url(#b2)"/>
<ellipse cx="471" cy="217" rx="9.8" ry="3.8" fill="#000" fill-opacity="1" filter="url(#b1)"/>
<ellipse cx="471" cy="217" rx="8.43" ry="2.74" fill="#000" fill-opacity="1" filter="url(#b0)"/>
<ellipse cx="497.4" cy="217.4" rx="9.3" ry="4.1" fill="#333" fill-opacity="0.25" filter="url(#b2)"/>
<ellipse cx="497.4" cy="217.4" rx="8" ry="2.7" fill="#333" fill-opacity="0.75" filter="url(#b1)"/>
<ellipse cx="497.4" cy="217.4" rx="6.88" ry="1.94" fill="#333" fill-opacity="0.75" filter="url(#b0)"/>
</g>
<rect x="460.8" y="208.3" width="47.8" height="16.7" fill="none" stroke="#0a0a0a" stroke-width="1.1"/>
<clipPath id="bc8"><rect x="460.8" y="227.3" width="47.8" height="16.5"/></clipPath>
<rect x="460.8" y="227.3" width="47.8" height="16.5" fill="#b0b0b0"/>
<g clip-path="url(#bc8)">
<ellipse cx="484" cy="236" rx="30" ry="7" fill="#555" fill-opacity="0.5" filter="url(#b2)"/>
<ellipse cx="471.6" cy="235.6" rx="12" ry="6" fill="#333" fill-opacity="0.45" filter="url(#b2)"/>
<ellipse cx="471.6" cy="235.6" rx="10.7" ry="4.6" fill="#000" fill-opacity="1" filter="url(#b1)"/>
<ellipse cx="471.6" cy="235.6" rx="9.2" ry="3.31" fill="#000" fill-opacity="1" filter="url(#b0)"/>
<ellipse cx="498.2" cy="235.8" rx="11.1" ry="5.9" fill="#333" fill-opacity="0.45" filter="url(#b2)"/>
<ellipse cx="498.2" cy="235.8" rx="9.8" ry="4.5" fill="#000" fill-opacity="1" filter="url(#b1)"/>
<ellipse cx="498.2" cy="235.8" rx="8.43" ry="3.24" fill="#000" fill-opacity="1" filter="url(#b0)"/>
</g>
<rect x="460.8" y="227.3" width="47.8" height="16.5" fill="none" stroke="#0a0a0a" stroke-width="1.1"/>
<text x="457.6" y="180.3" font-size="7.9" text-anchor="end" font-weight="bold" stroke="#000" stroke-width="0.15">CCNE1</text>
<text x="512.4" y="180.3" font-size="7.9" font-weight="bold" stroke="#000" stroke-width="0.15">48 kDa</text>
<text x="457.6" y="199.4" font-size="7.9" text-anchor="end" font-weight="bold" stroke="#000" stroke-width="0.15">CDK2</text>
<text x="512.4" y="199.4" font-size="7.9" font-weight="bold" stroke="#000" stroke-width="0.15">34 kDa</text>
<text x="457.6" y="219.2" font-size="7.9" text-anchor="end" font-weight="bold" stroke="#000" stroke-width="0.15">CCND1</text>
<text x="512.4" y="219.2" font-size="7.9" font-weight="bold" stroke="#000" stroke-width="0.15">33 kDa</text>
<text x="457.6" y="238.1" font-size="7.9" text-anchor="end" font-weight="bold" stroke="#000" stroke-width="0.15">Tubulin</text>
<text x="512.4" y="238.1" font-size="7.9" font-weight="bold" stroke="#000" stroke-width="0.15">50 kDa</text>
<text font-size="7.9" text-anchor="start" transform="translate(455 154.8) scale(1 1) rotate(29)" font-weight="bold" font-style="italic" stroke="#000" stroke-width="0.2">KD-NC</text>
<text font-size="7.9" text-anchor="start" transform="translate(459.2 143) scale(1 1) rotate(29)" font-weight="bold" font-style="italic" stroke="#000" stroke-width="0.2">KD-SLCO3A1</text>
<rect x="300.2" y="181.59" width="4" height="13.01" fill="#1a1aff"/>
<rect x="300.2" y="200.7" width="4" height="34.7" fill="#1a1aff"/>
<line x1="302.2" y1="179.19" x2="302.2" y2="181.59" stroke="#1a1aff" stroke-width="0.4"/>
<line x1="301.3" y1="179.19" x2="303.1" y2="179.19" stroke="#1a1aff" stroke-width="0.4"/>
<rect x="305.2" y="233.23" width="3.9" height="2.17" fill="#ff7f0e"/>
<line x1="307.2" y1="232.53" x2="307.2" y2="233.23" stroke="#ff7f0e" stroke-width="0.4"/>
<line x1="306.3" y1="232.53" x2="308.1" y2="232.53" stroke="#ff7f0e" stroke-width="0.4"/>
<text font-size="8.2" transform="translate(304.4 177.58) scale(0.9 1)" text-anchor="middle" font-weight="bold" font-family='"Liberation Sans", sans-serif'>***</text>
<line x1="301.8" y1="178.4" x2="307" y2="178.4" stroke="#000" stroke-width="1.2"/>
<line x1="304" y1="235.4" x2="304" y2="238.8" stroke="#000" stroke-width="0.9"/>
<text font-size="6.4" text-anchor="end" transform="translate(305.6 245.1) scale(0.74 1) rotate(-45)" font-weight="bold" font-style="italic" stroke="#000" stroke-width="0.25">MYC</text>
<rect x="311.31" y="181.59" width="4" height="13.01" fill="#1a1aff"/>
<rect x="311.31" y="200.7" width="4" height="34.7" fill="#1a1aff"/>
<line x1="313.31" y1="178.19" x2="313.31" y2="181.59" stroke="#1a1aff" stroke-width="0.4"/>
<line x1="312.41" y1="178.19" x2="314.21" y2="178.19" stroke="#1a1aff" stroke-width="0.4"/>
<rect x="316.31" y="188.96" width="3.9" height="5.64" fill="#ff7f0e"/>
<rect x="316.31" y="200.7" width="3.9" height="34.7" fill="#ff7f0e"/>
<line x1="318.31" y1="188.36" x2="318.31" y2="188.96" stroke="#ff7f0e" stroke-width="0.4"/>
<line x1="317.41" y1="188.36" x2="319.21" y2="188.36" stroke="#ff7f0e" stroke-width="0.4"/>
<text font-size="8.2" transform="translate(315.51 174.78) scale(0.9 1)" text-anchor="middle" font-weight="bold" font-family='"Liberation Sans", sans-serif'>*</text>
<line x1="312.91" y1="175.6" x2="318.11" y2="175.6" stroke="#000" stroke-width="1.2"/>
<line x1="315.11" y1="235.4" x2="315.11" y2="238.8" stroke="#000" stroke-width="0.9"/>
<text font-size="6.4" text-anchor="end" transform="translate(316.71 245.1) scale(0.74 1) rotate(-45)" font-weight="bold" font-style="italic" stroke="#000" stroke-width="0.25">PAK1</text>
<rect x="322.42" y="181.59" width="4" height="13.01" fill="#1a1aff"/>
<rect x="322.42" y="200.7" width="4" height="34.7" fill="#1a1aff"/>
<line x1="324.42" y1="178.99" x2="324.42" y2="181.59" stroke="#1a1aff" stroke-width="0.4"/>
<line x1="323.52" y1="178.99" x2="325.32" y2="178.99" stroke="#1a1aff" stroke-width="0.4"/>
<rect x="327.42" y="194.31" width="3.9" height="0.29" fill="#ff7f0e"/>
<rect x="327.42" y="200.7" width="3.9" height="34.7" fill="#ff7f0e"/>
<line x1="329.42" y1="193.71" x2="329.42" y2="194.31" stroke="#ff7f0e" stroke-width="0.4"/>
<line x1="328.52" y1="193.71" x2="330.32" y2="193.71" stroke="#ff7f0e" stroke-width="0.4"/>
<text font-size="8.2" transform="translate(326.62 175.18) scale(0.9 1)" text-anchor="middle" font-weight="bold" font-family='"Liberation Sans", sans-serif'>**</text>
<line x1="324.02" y1="176" x2="329.22" y2="176" stroke="#000" stroke-width="1.2"/>
<line x1="326.22" y1="235.4" x2="326.22" y2="238.8" stroke="#000" stroke-width="0.9"/>
<text font-size="6.4" text-anchor="end" transform="translate(327.82 245.1) scale(0.74 1) rotate(-45)" font-weight="bold" font-style="italic" stroke="#000" stroke-width="0.25">CDKN1B</text>
<rect x="333.53" y="181.59" width="4" height="13.01" fill="#1a1aff"/>
<rect x="333.53" y="200.7" width="4" height="34.7" fill="#1a1aff"/>
<line x1="335.53" y1="179.99" x2="335.53" y2="181.59" stroke="#1a1aff" stroke-width="0.4"/>
<line x1="334.63" y1="179.99" x2="336.43" y2="179.99" stroke="#1a1aff" stroke-width="0.4"/>
<rect x="338.53" y="234.53" width="3.9" height="0.87" fill="#ff7f0e"/>
<line x1="340.53" y1="233.83" x2="340.53" y2="234.53" stroke="#ff7f0e" stroke-width="0.4"/>
<line x1="339.63" y1="233.83" x2="341.43" y2="233.83" stroke="#ff7f0e" stroke-width="0.4"/>
<text font-size="8.2" transform="translate(337.73 176.18) scale(0.9 1)" text-anchor="middle" font-weight="bold" font-family='"Liberation Sans", sans-serif'>***</text>
<line x1="335.13" y1="177" x2="340.33" y2="177" stroke="#000" stroke-width="1.2"/>
<line x1="337.33" y1="235.4" x2="337.33" y2="238.8" stroke="#000" stroke-width="0.9"/>
<text font-size="6.4" text-anchor="end" transform="translate(338.93 245.1) scale(0.74 1) rotate(-45)" font-weight="bold" font-style="italic" stroke="#000" stroke-width="0.25">CCNB2</text>
<rect x="344.64" y="181.59" width="4" height="13.01" fill="#1a1aff"/>
<rect x="344.64" y="200.7" width="4" height="34.7" fill="#1a1aff"/>
<line x1="346.64" y1="178.99" x2="346.64" y2="181.59" stroke="#1a1aff" stroke-width="0.4"/>
<line x1="345.74" y1="178.99" x2="347.54" y2="178.99" stroke="#1a1aff" stroke-width="0.4"/>
<rect x="349.64" y="219.5" width="3.9" height="15.9" fill="#ff7f0e"/>
<line x1="351.64" y1="218.8" x2="351.64" y2="219.5" stroke="#ff7f0e" stroke-width="0.4"/>
<line x1="350.74" y1="218.8" x2="352.54" y2="218.8" stroke="#ff7f0e" stroke-width="0.4"/>
<text font-size="8.2" transform="translate(348.84 176.18) scale(0.9 1)" text-anchor="middle" font-weight="bold" font-family='"Liberation Sans", sans-serif'>***</text>
<line x1="346.24" y1="177" x2="351.44" y2="177" stroke="#000" stroke-width="1.2"/>
<line x1="348.44" y1="235.4" x2="348.44" y2="238.8" stroke="#000" stroke-width="0.9"/>
<text font-size="6.4" text-anchor="end" transform="translate(350.04 245.1) scale(0.74 1) rotate(-45)" font-weight="bold" font-style="italic" stroke="#000" stroke-width="0.25">CCNE1</text>
<rect x="355.75" y="181.59" width="4" height="13.01" fill="#1a1aff"/>
<rect x="355.75" y="200.7" width="4" height="34.7" fill="#1a1aff"/>
<line x1="357.75" y1="179.99" x2="357.75" y2="181.59" stroke="#1a1aff" stroke-width="0.4"/>
<line x1="356.85" y1="179.99" x2="358.65" y2="179.99" stroke="#1a1aff" stroke-width="0.4"/>
<rect x="360.75" y="233.23" width="3.9" height="2.17" fill="#ff7f0e"/>
<line x1="362.75" y1="232.53" x2="362.75" y2="233.23" stroke="#ff7f0e" stroke-width="0.4"/>
<line x1="361.85" y1="232.53" x2="363.65" y2="232.53" stroke="#ff7f0e" stroke-width="0.4"/>
<text font-size="8.2" transform="translate(359.95 176.08) scale(0.9 1)" text-anchor="middle" font-weight="bold" font-family='"Liberation Sans", sans-serif'>***</text>
<line x1="357.35" y1="176.9" x2="362.55" y2="176.9" stroke="#000" stroke-width="1.2"/>
<line x1="359.55" y1="235.4" x2="359.55" y2="238.8" stroke="#000" stroke-width="0.9"/>
<text font-size="6.4" text-anchor="end" transform="translate(361.15 245.1) scale(0.74 1) rotate(-45)" font-weight="bold" font-style="italic" stroke="#000" stroke-width="0.25">CCNE2</text>
<rect x="366.86" y="181.59" width="4" height="13.01" fill="#1a1aff"/>
<rect x="366.86" y="200.7" width="4" height="34.7" fill="#1a1aff"/>
<line x1="368.86" y1="177.99" x2="368.86" y2="181.59" stroke="#1a1aff" stroke-width="0.4"/>
<line x1="367.96" y1="177.99" x2="369.76" y2="177.99" stroke="#1a1aff" stroke-width="0.4"/>
<rect x="371.86" y="191.71" width="3.9" height="2.89" fill="#ff7f0e"/>
<rect x="371.86" y="200.7" width="3.9" height="34.7" fill="#ff7f0e"/>
<line x1="373.86" y1="191.11" x2="373.86" y2="191.71" stroke="#ff7f0e" stroke-width="0.4"/>
<line x1="372.96" y1="191.11" x2="374.76" y2="191.11" stroke="#ff7f0e" stroke-width="0.4"/>
<text font-size="8.2" transform="translate(371.06 175.08) scale(0.9 1)" text-anchor="middle" font-weight="bold" font-family='"Liberation Sans", sans-serif'>**</text>
<line x1="368.46" y1="175.9" x2="373.66" y2="175.9" stroke="#000" stroke-width="1.2"/>
<line x1="370.66" y1="235.4" x2="370.66" y2="238.8" stroke="#000" stroke-width="0.9"/>
<text font-size="6.4" text-anchor="end" transform="translate(372.26 245.1) scale(0.74 1) rotate(-45)" font-weight="bold" font-style="italic" stroke="#000" stroke-width="0.25">CCNH</text>
<rect x="377.97" y="181.59" width="4" height="13.01" fill="#1a1aff"/>
<rect x="377.97" y="200.7" width="4" height="34.7" fill="#1a1aff"/>
<line x1="379.97" y1="178.39" x2="379.97" y2="181.59" stroke="#1a1aff" stroke-width="0.4"/>
<line x1="379.07" y1="178.39" x2="380.87" y2="178.39" stroke="#1a1aff" stroke-width="0.4"/>
<rect x="382.97" y="194.31" width="3.9" height="0.29" fill="#ff7f0e"/>
<rect x="382.97" y="200.7" width="3.9" height="34.7" fill="#ff7f0e"/>
<line x1="384.97" y1="193.71" x2="384.97" y2="194.31" stroke="#ff7f0e" stroke-width="0.4"/>
<line x1="384.07" y1="193.71" x2="385.87" y2="193.71" stroke="#ff7f0e" stroke-width="0.4"/>
<text font-size="8.2" transform="translate(382.17 175.38) scale(0.9 1)" text-anchor="middle" font-weight="bold" font-family='"Liberation Sans", sans-serif'>**</text>
<line x1="379.57" y1="176.2" x2="384.77" y2="176.2" stroke="#000" stroke-width="1.2"/>
<line x1="381.77" y1="235.4" x2="381.77" y2="238.8" stroke="#000" stroke-width="0.9"/>
<text font-size="6.4" text-anchor="end" transform="translate(383.37 245.1) scale(0.74 1) rotate(-45)" font-weight="bold" font-style="italic" stroke="#000" stroke-width="0.25">CCND1</text>
<rect x="389.08" y="181.59" width="4" height="13.01" fill="#1a1aff"/>
<rect x="389.08" y="200.7" width="4" height="34.7" fill="#1a1aff"/>
<line x1="391.08" y1="180.39" x2="391.08" y2="181.59" stroke="#1a1aff" stroke-width="0.4"/>
<line x1="390.18" y1="180.39" x2="391.98" y2="180.39" stroke="#1a1aff" stroke-width="0.4"/>
<rect x="394.08" y="187.37" width="3.9" height="7.23" fill="#ff7f0e"/>
<rect x="394.08" y="200.7" width="3.9" height="34.7" fill="#ff7f0e"/>
<line x1="396.08" y1="186.77" x2="396.08" y2="187.37" stroke="#ff7f0e" stroke-width="0.4"/>
<line x1="395.18" y1="186.77" x2="396.98" y2="186.77" stroke="#ff7f0e" stroke-width="0.4"/>
<text font-size="8.2" transform="translate(393.28 174.18) scale(0.9 1)" text-anchor="middle" font-weight="bold" font-family='"Liberation Sans", sans-serif'>***</text>
<line x1="390.68" y1="175" x2="395.88" y2="175" stroke="#000" stroke-width="1.2"/>
<line x1="392.88" y1="235.4" x2="392.88" y2="238.8" stroke="#000" stroke-width="0.9"/>
<text font-size="6.4" text-anchor="end" transform="translate(394.48 245.1) scale(0.74 1) rotate(-45)" font-weight="bold" font-style="italic" stroke="#000" stroke-width="0.25">CDK1</text>
<rect x="400.19" y="181.59" width="4" height="13.01" fill="#1a1aff"/>
<rect x="400.19" y="200.7" width="4" height="34.7" fill="#1a1aff"/>
<line x1="402.19" y1="180.79" x2="402.19" y2="181.59" stroke="#1a1aff" stroke-width="0.4"/>
<line x1="401.29" y1="180.79" x2="403.09" y2="180.79" stroke="#1a1aff" stroke-width="0.4"/>
<rect x="405.19" y="189.97" width="3.9" height="4.63" fill="#ff7f0e"/>
<rect x="405.19" y="200.7" width="3.9" height="34.7" fill="#ff7f0e"/>
<line x1="407.19" y1="189.37" x2="407.19" y2="189.97" stroke="#ff7f0e" stroke-width="0.4"/>
<line x1="406.29" y1="189.37" x2="408.09" y2="189.37" stroke="#ff7f0e" stroke-width="0.4"/>
<text font-size="8.2" transform="translate(404.39 174.18) scale(0.9 1)" text-anchor="middle" font-weight="bold" font-family='"Liberation Sans", sans-serif'>***</text>
<line x1="401.79" y1="175" x2="406.99" y2="175" stroke="#000" stroke-width="1.2"/>
<line x1="403.99" y1="235.4" x2="403.99" y2="238.8" stroke="#000" stroke-width="0.9"/>
<text font-size="6.4" text-anchor="end" transform="translate(405.59 245.1) scale(0.74 1) rotate(-45)" font-weight="bold" font-style="italic" stroke="#000" stroke-width="0.25">CDK2</text>
<rect x="411.3" y="181.59" width="4" height="13.01" fill="#1a1aff"/>
<rect x="411.3" y="200.7" width="4" height="34.7" fill="#1a1aff"/>
<line x1="413.3" y1="179.59" x2="413.3" y2="181.59" stroke="#1a1aff" stroke-width="0.4"/>
<line x1="412.4" y1="179.59" x2="414.2" y2="179.59" stroke="#1a1aff" stroke-width="0.4"/>
<rect x="416.3" y="206.48" width="3.9" height="28.92" fill="#ff7f0e"/>
<line x1="418.3" y1="205.78" x2="418.3" y2="206.48" stroke="#ff7f0e" stroke-width="0.4"/>
<line x1="417.4" y1="205.78" x2="419.2" y2="205.78" stroke="#ff7f0e" stroke-width="0.4"/>
<text font-size="8.2" transform="translate(415.5 175.38) scale(0.9 1)" text-anchor="middle" font-weight="bold" font-family='"Liberation Sans", sans-serif'>***</text>
<line x1="412.9" y1="176.2" x2="418.1" y2="176.2" stroke="#000" stroke-width="1.2"/>
<line x1="415.1" y1="235.4" x2="415.1" y2="238.8" stroke="#000" stroke-width="0.9"/>
<text font-size="6.4" text-anchor="end" transform="translate(416.7 245.1) scale(0.74 1) rotate(-45)" font-weight="bold" font-style="italic" stroke="#000" stroke-width="0.25">CDK4</text>
<line x1="298.4" y1="159.4" x2="298.4" y2="195.2" stroke="#000" stroke-width="1.1"/>
<line x1="298.4" y1="200.1" x2="298.4" y2="235.9" stroke="#000" stroke-width="1.1"/>
<line x1="296.2" y1="195.8" x2="300.6" y2="194.4" stroke="#000" stroke-width="0.8"/>
<line x1="296.2" y1="200.9" x2="300.6" y2="199.5" stroke="#000" stroke-width="0.8"/>
<line x1="297.9" y1="235.4" x2="422" y2="235.4" stroke="#000" stroke-width="1.1"/>
<line x1="295.6" y1="159.9" x2="298.4" y2="159.9" stroke="#000" stroke-width="1"/>
<text font-size="5.4" transform="translate(295.2 161.6) scale(0.84 1)" text-anchor="end" font-weight="bold" stroke="#000" stroke-width="0.25">2.5</text>
<line x1="295.6" y1="171.4" x2="298.4" y2="171.4" stroke="#000" stroke-width="1"/>
<text font-size="5.4" transform="translate(295.2 173.1) scale(0.84 1)" text-anchor="end" font-weight="bold" stroke="#000" stroke-width="0.25">1.7</text>
<line x1="295.6" y1="182.9" x2="298.4" y2="182.9" stroke="#000" stroke-width="1"/>
<text font-size="5.4" transform="translate(295.2 184.6) scale(0.84 1)" text-anchor="end" font-weight="bold" stroke="#000" stroke-width="0.25">0.9</text>
<line x1="295.6" y1="194.6" x2="298.4" y2="194.6" stroke="#000" stroke-width="1"/>
<text font-size="5.4" transform="translate(295.2 196.3) scale(0.84 1)" text-anchor="end" font-weight="bold" stroke="#000" stroke-width="0.25">0.1</text>
<line x1="295.6" y1="200.7" x2="298.4" y2="200.7" stroke="#000" stroke-width="1"/>
<text font-size="5.4" transform="translate(295.2 202.4) scale(0.84 1)" text-anchor="end" font-weight="bold" stroke="#000" stroke-width="0.25">0.048</text>
<line x1="295.6" y1="212.3" x2="298.4" y2="212.3" stroke="#000" stroke-width="1"/>
<text font-size="5.4" transform="translate(295.2 214) scale(0.84 1)" text-anchor="end" font-weight="bold" stroke="#000" stroke-width="0.25">0.032</text>
<line x1="295.6" y1="223.8" x2="298.4" y2="223.8" stroke="#000" stroke-width="1"/>
<text font-size="5.4" transform="translate(295.2 225.5) scale(0.84 1)" text-anchor="end" font-weight="bold" stroke="#000" stroke-width="0.25">0.016</text>
<line x1="295.6" y1="235.4" x2="298.4" y2="235.4" stroke="#000" stroke-width="1"/>
<text font-size="5.4" transform="translate(295.2 237.1) scale(0.84 1)" text-anchor="end" font-weight="bold" stroke="#000" stroke-width="0.25">0.000</text>
<rect x="304.6" y="145.5" width="5.5" height="3.4" fill="#1a1aff"/>
<rect x="341.8" y="145.5" width="5.4" height="3.4" fill="#ff7f0e"/>
<text font-size="6" transform="translate(313 149.4) scale(0.8 1)">KD-NC</text>
<text font-size="6" transform="translate(351 149.4) scale(0.76 1)">KD-SLCO3A1</text>
<text x="282.6" y="197.6" font-size="5.4" text-anchor="middle" font-weight="bold" transform="rotate(-90 282.6 197.6)" textLength="58.5" lengthAdjust="spacingAndGlyphs">Relative mRNA levels</text>
<text font-size="18.4" font-weight="bold" stroke="#000" stroke-width="0.45" transform="translate(7.1 266.2) scale(0.9 1)">G</text>
<text font-size="18.4" font-weight="bold" stroke="#000" stroke-width="0.45" transform="translate(271.3 266.2) scale(0.9 1)">H</text>
<clipPath id="sc9"><rect x="28.2" y="284" width="60" height="66.9"/></clipPath>
<rect x="27.8" y="283.6" width="60.8" height="67.7" fill="#fff"/>
<g clip-path="url(#sc9)">
<path d="M39.8 341.4h0M49.1 329.5h0M38.1 340.4h0M50.4 336.7h0M35.7 336.1h0M50 333.8h0M55.6 332.1h0M57.9 323.8h0M38.3 334.8h0M51.4 331.4h0M37.6 344.7h0M37.4 340.4h0M37.5 341.2h0M41.7 339h0M62.2 321.6h0M46.3 327.6h0M43.3 331.6h0M46.1 330.3h0M53.7 326h0M48.7 329.4h0M50.1 330.8h0M53.3 332h0M44 332.2h0M50.3 333.6h0M52.8 327.3h0M38.9 338.1h0M52 337.6h0M52.9 334.5h0M51 334.2h0M48.1 336.9h0M53.6 327h0M46.4 344.2h0M48.9 337.3h0M46.9 328.1h0M62.2 330.9h0M43.7 331.9h0M52.7 332.9h0M48.8 339.2h0M43.2 340.8h0M50.3 329.8h0M33.7 339.6h0M50.8 325.7h0M38.5 328.4h0M55.1 339.2h0M48.2 328.2h0M59.7 327h0M49.6 339.6h0M49.4 341.4h0M40.5 336.5h0M52.5 336.8h0M34 340.4h0M40.7 336h0M49.5 332.3h0M49.5 336.2h0M42.1 345.8h0M52.3 328.7h0M39.7 333.2h0M57.2 327.1h0M35.1 330.7h0M53 330.1h0M37.3 342.3h0M52.4 332.5h0M39 329.2h0M40.7 330.8h0M43 326h0M43.5 342.7h0M50.8 324.8h0M39.4 344.2h0M47.2 328.6h0M39.9 335.8h0M37.3 337.9h0M53.4 332.3h0M55.7 326.6h0M42.1 332.7h0M41.3 331.6h0M37.7 344.6h0M54.8 332h0M52.8 330.6h0M40.5 333.2h0M32.7 337.4h0M46.3 341.6h0M49.5 327.7h0M36.8 345.6h0M44.8 342.1h0M49.4 337h0M44 325.5h0M47.3 330.2h0M40.2 336.9h0M51.4 334.9h0M46.4 325.9h0M36.3 330.1h0M41.8 339.1h0M48.9 337.4h0M38.9 335.9h0M45.5 343.8h0M50.6 330.4h0M40.4 332.6h0M45.9 343h0M39.4 335.8h0M37.4 335.9h0M44 324.1h0M51.3 330.9h0M46.8 338.6h0M40.3 333.2h0M35.9 336.8h0M40.7 344.3h0M51.2 327.2h0M51.1 334.7h0M33.3 336.6h0M42.6 341.8h0M48.9 326.1h0M49.7 329.7h0M39 330.8h0M36.9 335.4h0M52.9 339.8h0M58.6 323h0M35.2 340.9h0M45.2 345.3h0M46.4 330.6h0M51.4 333.1h0M35.4 340.1h0M44.3 343.6h0M36.5 341.2h0M46.3 327.8h0M50 329.5h0M49.3 338.1h0M47 341.8h0M38.8 335.4h0M46.3 329h0M45.5 339.6h0M47.1 324.7h0M52.5 339.1h0M50.8 329.6h0M38.6 339.1h0M50.8 329.7h0M40.2 344.4h0M38.5 338.1h0M39.4 338.5h0M55.1 324.4h0M47.3 339.3h0M51 334.6h0M44.8 325.5h0M41 339.1h0M51 337.3h0M41.4 334h0M43.5 342.1h0M54.3 333.1h0M51.7 334.3h0M39.2 338.8h0M43.2 340.5h0M50.6 337.8h0M38.8 335.5h0M46.7 328.4h0M40.2 329.9h0M47.7 330.7h0M45.6 345.4h0M57.5 343.4h0M49.7 339.8h0M45.6 330.2h0M40.9 343h0M35.5 332.6h0M36.3 341.9h0M37.2 341.3h0M38.3 338.6h0M47.4 320.5h0M59.3 328.9h0M37.6 343.2h0M44.9 340.4h0M39.5 339.2h0M37.6 331.8h0M50.1 336.5h0M42.3 332.3h0M49.8 325.9h0M37.6 331.5h0M39.7 335.7h0M38.5 336.9h0M54.1 327.3h0M50 342.6h0M40.6 330h0M45 330.6h0M50.7 324.6h0M38.2 332.5h0M43.2 331.6h0M44.3 340.7h0M50.2 331.6h0M37.9 335.5h0M52.5 341.6h0M40.9 334.6h0M38.9 334.6h0M39.6 338.5h0M52.7 329.4h0M38.6 332.2h0M36.1 336.8h0M47.5 338.6h0M50.5 342.1h0M38.4 338.6h0M51.1 329.2h0M52.5 329.3h0M35.6 337.7h0M58.3 328.2h0M50.7 335.7h0M50.7 336.1h0M49.4 330.1h0M37.7 339.9h0M43.9 339.3h0M38.8 334.8h0M47.3 341.4h0M53.5 335.8h0M40 346.2h0M57.3 324.9h0M57.7 330.3h0M41 340.9h0M32.2 343.6h0M41.5 332.5h0M54.1 327h0M39.2 335.9h0M39.3 342.5h0M41.8 338.9h0M39.2 337.3h0M43.3 330.5h0M58 325h0M56.9 333.1h0M43.4 329.7h0M44.1 339.2h0M39.6 333.5h0M37.1 337.6h0M52.2 343.9h0M51.9 324.7h0M47.1 339h0M53.8 332.4h0M37.1 339.3h0M43.1 341h0M48.6 337.1h0M40.2 329.4h0M44.6 329h0M44.8 331h0M30.2 334.4h0M45 341.1h0M39.4 328.3h0M41.8 340h0M56.8 332.1h0M38.6 338.1h0M41.6 334.1h0M50.5 338.4h0M50.1 333.5h0M40.2 331.4h0M43 343.2h0M40.4 332.6h0M53.1 323.1h0M48.6 329.7h0M44.7 331.5h0M45.3 339.8h0M53.2 324.6h0M47.6 338.1h0M43.7 340h0M42.6 340.3h0M50.5 337.2h0M44.2 330h0M45.9 329h0M52.8 336.9h0M46.9 331h0M51.8 330.9h0M37.9 339.1h0M51.8 328.5h0M35.2 340.4h0M39 329.2h0M53.3 332.5h0M53.7 335.1h0M51 339.2h0M35.9 341.3h0M42.9 339.9h0M52.1 328.3h0M38.9 340.4h0M39.9 331.5h0M48.5 330h0M45.5 328.3h0M47.4 326.2h0M46.2 325.2h0M51.5 328.4h0M36.5 340.8h0M44.5 330.7h0M36.8 326.2h0M49.2 337.2h0M47.9 346.1h0M50.1 332.9h0M53.2 333.8h0M51.6 332.4h0M32.6 339.4h0M49.9 339.6h0M48.7 336.2h0M53 336.7h0M45.6 340.8h0M45.1 330h0M49.6 342.3h0M48.1 330.5h0M30.9 342.6h0M59.1 328.2h0M44.5 331h0M38.5 339.4h0M50.2 346.6h0M51.3 330.9h0M42 344.3h0M40.3 332.3h0M45.2 338.8h0M47.3 329.1h0M28.6 336h0M47.6 339.6h0M53.8 335.5h0M54.9 327.7h0M46.9 326.1h0M49.8 333.6h0M39.7 340.2h0M50.9 328.9h0M46.3 330.9h0M44 331h0M38.3 338.9h0M54.5 336h0M45.5 339h0M50.1 333.4h0M37.9 342.5h0M43.1 342.8h0M50.8 333.9h0M33.5 347.5h0M45.7 328.3h0M50.4 331.5h0M38.8 338h0M61.8 323.3h0M40.6 336h0M42.7 341.6h0M45.9 339h0M41.5 342.8h0M42.5 332.8h0M50.4 328.9h0M42.3 333h0M38.1 333.6h0M49.7 336.3h0M46 328.8h0M48.8 329.8h0M37.5 340.7h0M41.7 328.6h0M43.1 339.8h0M40.9 343.2h0M53.8 327.4h0M38.5 334.5h0M50.1 331.9h0M44.1 342.3h0M50.7 334h0M35.8 342h0M45.4 328.8h0M53.6 335.9h0M48.8 328.7h0M43.8 341h0M53.4 335h0M51.2 330h0M38.5 331h0M54.9 339.2h0M36.3 338.5h0M44.5 346h0M43.6 340.8h0M59.8 333.4h0M56.6 334.5h0M37.9 339.1h0M40.7 337.2h0M54.7 319.3h0M45.1 329h0M55.4 333.9h0M47.6 343.8h0M48.8 339h0M57 325h0M41 334.8h0M37.6 333.8h0M42.3 342.1h0M49.7 337.1h0M50.3 335.1h0M40.9 338h0M40 337.3h0M51.2 328.8h0M40.4 339.9h0M36.9 336.2h0M41.5 329.6h0M29.2 349.2h0M46.5 325.7h0M42 340.7h0M32.7 340.5h0M38.5 339.5h0M37.1 346h0M38.3 329.8h0M41.1 331.6h0M43.2 332.5h0M51.1 334.5h0M39.9 339.2h0M54 330.8h0M45.7 339.6h0M53.3 321.9h0M35.7 333.9h0M39 344.4h0M50.7 339.2h0M32.8 340.4h0M55.2 332.6h0M51.9 334.4h0M47.4 337.7h0M50 325.7h0M42.7 340h0M57.1 328h0M45.7 340.4h0M55.6 321.5h0M47.2 344.6h0M45.8 330.7h0M52.1 318.4h0M50.7 337.8h0M53.8 338.3h0M42.4 333h0M50.8 324.8h0M35.6 331.4h0M48 337.3h0M36.8 334.1h0M42.5 342.7h0M48.2 328.3h0M47.8 337.4h0M50.5 327.7h0M47.4 340.6h0M61.5 330.2h0M40.4 341.3h0M40.6 336.4h0M49.6 340.9h0M49.9 333.7h0M47.1 340h0M54.4 338h0M37.8 343h0M40 347h0M37 339.1h0M43.1 342.6h0M43.6 330.5h0M35 342.8h0M39.9 333.7h0M38.4 343.7h0M43.1 328.1h0M48.6 338.4h0M49.6 338.3h0M36.2 337.6h0M33.5 339.8h0M51.6 330.9h0M41.1 340.6h0M48.8 341.4h0M57.7 330.3h0M38 338.2h0M49.6 335.2h0M50.1 332.5h0M38.5 336.1h0M47.8 339.9h0M55.8 331.9h0M52.7 335.9h0M45.9 326.9h0M51.1 332.5h0M36.7 342.4h0M38.1 343.1h0M43.1 339.5h0M63.9 324.2h0M41.9 329.5h0M34.8 346.1h0M43.8 339.8h0M51.9 329.1h0M50.9 332h0M43.9 342.7h0M47.3 328.5h0M47.8 329.5h0M40.3 345.1h0M41.5 344.1h0M48.5 337.2h0M50.7 336.8h0M49.2 337.6h0M45.7 340h0M52.9 328.9h0M41.2 333.8h0M48.6 336.1h0M39.5 346.9h0M42.4 333.5h0M48.8 330.5h0M42.1 329.5h0M45.1 339.7h0M57.1 331.2h0M44.9 343.2h0M45.5 339.9h0M42.3 333.7h0M40.4 331.5h0M47.5 341.3h0M42.3 340.3h0M46.1 339h0M53 330.2h0M34.7 339.7h0M49.2 331.4h0M34.8 333.4h0M50.6 338.6h0M33.4 333.5h0M41.6 340.2h0M50.8 332.6h0M44.9 340.7h0M42 341h0M52.2 336.2h0M44.4 340.3h0M51.9 335.4h0M40.2 332.9h0M42.8 340.1h0M51.1 332.6h0M51.9 332h0M38.8 337.3h0M50.3 331.9h0M48.4 328.6h0M48.3 340.3h0M50 336.7h0M31.5 337.6h0M43.2 341.8h0M52.1 326.8h0M37.7 336h0M42 340.5h0M48.2 342.3h0M47.3 330.2h0M51.5 334.8h0M45.6 339.4h0M51.7 330.1h0M37.8 341.3h0M37.2 339.3h0M34.4 340.1h0M49.4 331.1h0M43.2 345.4h0M45.6 342.3h0M39 332.8h0M53.6 326.5h0M52 335.9h0M38.7 340.7h0M43.8 339.4h0M42.1 331.3h0M54 333.1h0M51.3 334.1h0M43.2 331h0M54.9 336.3h0M48 339.1h0M44.3 331h0M42.1 333.2h0M44.4 343.2h0M46.7 326.1h0M39.2 337.7h0M39.9 332.5h0M45.9 326.7h0M50.5 334.6h0M31.6 339.7h0M40.8 333.8h0M39.8 335.6h0M56.4 320.2h0M54.2 330.6h0M47.2 341.7h0M38.7 338.7h0M43.6 339.6h0M43.8 327.1h0M46.5 339.1h0M35.8 336.7h0M50 330.8h0M40 333.2h0M40.9 335.7h0M48.8 338.1h0M43.9 339.1h0M47.4 330.8h0M28.4 350.2h0M53 338.8h0M40.1 339.7h0M44.7 330.8h0M52.5 331.8h0M38.3 334.7h0M48.9 344.2h0M50.3 319h0M37.6 344.5h0M42.9 343.6h0M45.7 340.5h0M35.1 341.5h0M43.6 328.5h0M40.3 344.5h0M45.6 327.2h0M49.5 330.3h0M42.9 340.1h0M36.2 334.5h0M42.9 342.4h0M44.2 339.2h0M47.8 330.7h0M50.3 333.7h0M41.8 331.5h0M44.1 340.4h0M51.5 330.6h0M42.7 339.7h0M31.3 343.2h0M53.1 339.1h0M45.2 342.9h0M61.8 331.7h0M35.8 348.1h0M48.7 337.6h0M47.7 340.8h0M48.8 330.9h0M49.3 336.4h0M40 335.5h0M33.7 337.1h0M47 328.2h0M38.4 340.3h0M55.8 333.3h0M40.6 333.6h0M40.2 334.5h0M37.8 337h0M39.3 335.8h0M37.5 337.4h0M30.7 349.7h0M42.7 332.7h0M36.5 326.7h0M39.5 345.5h0M61.6 333.4h0M46.2 328.2h0M52.5 325.9h0M44.2 330.2h0M48 327.2h0M49.6 341h0M39.9 341.1h0M47.3 340.7h0M52.5 332.4h0M43.8 330.5h0M50.1 340.5h0M47.3 326.6h0M32.8 341.5h0M50.4 332.2h0M48.2 325.6h0M40.5 345.2h0M33.3 337.1h0M62.3 328.4h0M50.5 337.9h0M48.4 327h0M51.2 337.7h0M44.6 339.4h0M40.9 335.6h0M36.5 337.3h0M40.6 333.5h0M50.6 328.4h0M53.1 328.8h0M42.5 332.6h0M45.6 339.7h0M52.4 335.3h0M38.7 344.6h0M41.8 340.9h0M32.6 344.6h0M43.7 342.8h0M49.1 338.8h0M47.8 343.2h0M47.6 343h0M40.2 334.1h0M48.9 330.3h0M41.6 331.2h0M42.5 339.3h0M35.4 347.5h0M46.7 341.6h0M42.1 339.8h0M45.2 326.3h0M38 337.4h0M57.3 332.1h0M50.6 333.5h0M42.1 343.4h0M40.9 334.5h0M51.8 322.6h0M53 330.2h0M40.8 339.6h0M41.2 339.3h0M38.9 334.1h0M57.9 322.7h0M55.2 328h0M49.1 324.9h0M30.5 326.5h0M56.8 329.8h0M42.4 343.6h0M61.6 342h0M52.8 336h0M55 333.3h0M46.8 332.2h0M57.2 334.6h0M36.3 335.7h0M53.5 341.1h0M41.4 328.1h0M56.4 332.2h0M62.8 323.5h0M60.1 319.8h0M55.2 329.2h0M38.8 339.3h0M61.3 330.7h0M49 340.2h0M57.5 332.2h0M51.3 333.3h0M42.1 338.1h0M46.8 330.1h0M46.7 336h0M53.1 336.7h0M39.6 337.9h0M49 330.7h0M49.2 330h0M56 326.2h0M42.4 343.1h0M54.2 316.7h0M47.5 334.7h0M60.3 333.9h0M42.3 328.4h0M56.2 334h0M51.8 331.4h0M50 348h0M35 334.4h0M56.2 329.4h0M54.2 331.4h0M64.8 329.9h0M47.4 340.8h0M34.5 333.5h0M55.6 325.2h0M32.8 345.6h0M45.1 339.4h0M45.5 330.9h0M45.5 340.7h0M42 339.4h0M42.6 341h0M62.8 326h0M57.7 329.2h0M40.4 337.9h0M50.1 335h0M45.9 339.5h0M43.3 338h0M44.6 329.2h0M55.6 328.3h0M48.9 333h0M28.8 339.9h0M44.9 342.6h0M46 339.3h0M38.3 336.1h0M48.2 340.5h0M35.9 342.3h0M51.6 332h0M50.6 336.9h0M47.2 328.1h0M50.4 327h0M50.3 341.4h0M70.3 325.8h0M48.9 328.2h0M48 344.6h0M46.3 326.3h0M61.3 327.2h0M59 327.9h0M30.6 342.8h0M46.7 333.8h0M57 322.6h0M47.4 334h0M44.4 330.1h0M31.5 330.3h0M50 331h0M46.4 328.4h0M45.3 329.8h0M42.1 340.7h0M54.6 332.4h0M46.8 332.4h0M62.1 330.8h0M40.4 332.9h0M51.9 332.9h0M48.8 347.8h0M30.7 342h0M53.1 336.3h0M33.7 342.3h0M62.9 331.3h0M46.6 335.2h0M43.2 340.2h0M34.5 331.5h0M37.5 342.4h0M42.3 345.5h0M60.5 330.5h0M56.5 334.5h0M52.8 335.7h0M54 334.2h0M39 336.7h0M43.7 342.6h0M49.4 327.7h0M39.4 336.9h0M54.1 328.4h0M44.4 332.3h0M52.4 340.7h0M42.3 336.1h0M62.6 327.1h0M43.5 344.4h0M41 342.9h0M53 326.2h0M43.3 337.9h0M46.8 331.8h0M49 344.6h0M60 326.7h0M38.4 338h0M47.7 337.2h0M58.1 322.7h0M48 331.2h0M47.1 330.2h0M54.6 336.2h0M44.4 334.6h0M45 327.8h0M57.1 318.3h0M43 332.2h0M57.5 323.4h0M50.5 344h0M45 331.3h0M48.8 334.5h0M42.4 337.1h0M49 337.7h0M56.3 332.7h0M49.9 337.5h0M50.4 339.5h0M49.8 329.7h0M52.4 320.8h0M38.9 335.9h0M43.5 329.5h0M33.8 332.9h0M46.7 330h0M66.3 324.5h0M44.2 345.3h0M52.4 337.4h0M43.9 344.5h0M54.8 325.9h0M41 336.9h0M57.6 341.8h0M65.8 329.5h0M45.7 333.6h0M50.1 330.5h0M44.3 335.5h0M54.1 328.7h0M49.2 331.3h0M45.9 333.5h0M58 327.6h0M58.4 324.7h0M51.6 322.3h0M45.2 335.7h0M43.4 336.8h0M41.2 338.2h0M43.5 337.4h0M43.1 331.4h0M45.5 336.1h0M39.5 341.2h0M56.5 325.8h0M54.1 333.1h0M46.7 343.4h0M63 315.6h0M61.4 318.9h0M53.1 318.4h0M56.8 327.9h0M36.6 337.6h0M38 336h0M50.4 330.9h0M29.4 346.4h0M51.9 331.4h0M54.6 317h0M50.1 332.5h0M49.3 324.4h0M38.4 340.3h0M43.2 326.1h0M50.9 331.6h0M45.4 319.3h0M49.1 327.4h0M47.3 339.4h0M60.8 324.9h0M51.5 339.5h0M41.4 338.1h0M41.6 332.6h0M56 340.7h0M50.5 309.4h0M49.9 311.1h0M49.7 305.8h0M50.5 311.9h0M49.8 311.4h0M50.2 313.5h0M50.7 309.7h0M49 310.5h0M48.1 304.5h0M49.9 304.9h0M54.6 309.4h0M49.9 310h0M42 313.6h0M47.8 310.3h0M56.9 302.6h0M48.4 309.3h0M50.1 303.6h0M47.2 312.6h0M47.9 310h0M44.8 306.6h0M43.9 309.9h0M53.2 307.8h0M48.8 309h0M50.9 307.2h0M52.2 312.9h0M56.3 305.5h0M46.4 313.9h0M53.2 310.8h0M51.3 307.3h0M53.1 310.6h0M52.8 304.8h0M52.6 306.7h0M48.6 309.3h0M49.5 314.4h0M51.4 308.6h0M49 309h0M49.1 309.8h0M52.6 309.9h0M45.4 308.1h0M49.2 305h0M50.7 307.6h0M49.9 309.2h0M48.3 312.6h0M52.6 306.2h0M51.3 309.9h0M47 307.7h0M50.6 301.2h0M45.5 309.8h0M51.1 305.5h0M53.3 313.4h0M50.2 308h0M49.3 305.6h0M51.4 308.4h0M52.5 311.5h0M49.7 308.7h0M51.4 312.5h0M44.9 309h0M47.6 308.9h0M52.2 307.9h0M52 308.3h0M47 306.9h0M45.3 309.6h0M48.7 310.6h0M52.2 305.4h0M46.4 310.4h0M46.9 309.3h0M51.3 306.9h0M54.8 305.2h0M50.7 306.9h0M40.3 309.4h0M49.3 309.8h0M48.8 306.4h0M47.8 307.7h0M51.8 307.1h0M53.8 309.7h0M47.7 311.3h0M42.4 309.6h0M46.4 308.5h0M53.2 307.6h0M49.6 311.6h0M46.8 306.5h0M52.9 309.3h0M45.1 309.4h0M51.9 307.4h0M48.3 308.8h0M49.9 306.3h0M51.5 303.7h0M50.3 313.8h0M46.2 308.7h0M42 307.4h0M45.9 309h0M48.8 313.2h0M46.6 308.7h0M50.5 309.8h0M51.7 303.7h0M56.3 306.2h0M46.5 304.4h0M47.3 303.9h0M49.9 306.6h0M50.2 306h0M50.8 313.9h0M53.3 308h0M47.1 312.5h0M43.5 305.5h0M53.4 306h0M54.1 308.9h0M57.2 311.6h0M51.1 306.3h0M52 311.5h0M48.7 300.7h0M48.2 307.5h0M49.2 307.3h0M52.6 304.3h0M50 302.9h0M42.2 306.8h0M46.7 306.3h0M47.6 310.2h0M51.4 308.1h0M49.8 306.3h0M45.8 305.1h0M47.7 305.5h0M48.8 310.2h0M51.8 311.3h0M45.6 303.1h0M46.9 313.9h0M51.5 306.7h0M53.5 306.4h0M54.6 306.2h0M48.5 310.2h0M45.8 308.4h0M55.8 308.2h0M45.9 308.2h0M49.1 306.3h0M51.4 311.2h0M50.1 310.5h0M50.5 308.4h0M47.6 311.1h0M53.6 306.3h0M47 310h0M50.3 311h0M51 307.6h0M45.4 310.6h0M49.2 304.9h0M44 304.3h0M51.3 306.7h0M38.6 307.8h0M47.4 308.3h0M49.5 307.3h0M52.3 310.4h0M49.5 312.4h0M48.7 306h0M49.3 304.4h0M48.1 305.6h0M48.2 308.9h0M41.9 310.6h0M50.2 307.5h0M51.9 308.7h0M47.9 305.8h0M52.1 309.7h0M44.5 307.1h0M46.1 311h0M47.1 305.3h0M54.5 308.5h0M50.3 308.7h0M48.9 308.4h0M52.5 308.8h0M48.1 308.7h0M55.1 305.7h0M45.4 309.2h0M47.1 315.6h0M51.7 309.3h0M51.5 313h0M46.2 308.6h0M44.8 312.3h0M50 312.8h0M48.1 305.7h0M47.6 310.6h0M47 309.3h0M46.9 306.8h0M48.4 312.7h0M46.2 309.6h0M63.7 299.5h0M48.7 311.9h0M71.1 297.9h0M50.3 309.4h0M57.3 301.8h0M53.2 299.1h0M51.1 303.2h0M49.1 309.1h0M62.1 307h0M37.7 310.2h0M53.4 309.5h0M66.3 300.9h0M58.3 301.6h0M54.1 304.2h0M41.4 315.9h0M65.9 306.5h0M68.1 301.2h0M62.9 297.1h0M51.6 308.8h0M53.9 300.9h0M57 300.6h0M59.9 307.5h0M49.4 306h0M62.5 302h0M58.9 301.1h0M53.5 298.9h0M58.3 307.4h0M49.8 306.7h0M64.9 304.5h0M66.2 298h0M56.9 309.3h0M55.1 305.8h0M51.3 304.7h0M35.5 311.4h0M40.8 307.9h0M52.3 310h0M64.5 302.4h0M53.1 301.9h0M61.1 300.2h0M58.4 306.4h0M56.9 304.2h0M51.9 309.3h0M63 303.8h0M68.9 294.8h0M59.1 305.2h0M61.1 303.5h0M60.3 298.6h0M58.8 306.8h0M57.7 303.4h0M62.9 296.9h0M62.8 306.2h0M55.6 302.5h0M61.8 301h0M52.3 306.6h0M46.5 310.4h0M48.7 306h0M63.7 301.4h0M61.6 306.3h0M71.8 304.2h0M55 307.6h0M46.6 310.7h0M67.4 298h0M62.6 304.4h0M56.4 302.6h0M68.3 295.9h0M60.5 305.5h0M61.6 306.9h0M69.9 300.4h0M72.4 300.2h0M48.7 306.7h0M60.5 303.4h0M47.8 314.5h0M45.4 305.7h0M61.8 302.8h0M70.1 299.6h0M61.8 304.4h0M51.5 302.8h0M55.8 307.6h0M57.4 307.6h0M54.9 307.2h0M59.4 305.7h0M58.6 304.2h0M56 308.2h0M58.5 305h0M62.3 299.6h0M52 306.1h0M66.9 297.3h0M49.7 304.4h0M54.3 302.3h0M52.7 307.5h0M50.1 307h0M49.3 306.8h0M60.3 297.2h0M59 304.1h0M58.1 304.5h0M60.2 299.3h0M58 305.7h0M66.7 296.5h0M52.5 302.2h0M57.1 301.2h0M51.7 308.6h0M73.2 291.9h0M69.8 296.5h0M63.8 302.5h0M67.4 299.5h0M52.1 306.1h0M63.4 299.1h0M61.4 302.5h0M59.7 303.2h0M63.7 303.8h0M55.8 303.7h0M41.4 308.1h0M47.6 310h0M49.6 305.3h0M63.3 304.5h0M66.6 297.9h0M61.2 305.6h0M51.8 305.7h0M48.6 305.8h0M63.8 301.8h0M55.1 303.5h0M70.5 300.9h0M51.2 312.7h0M55.1 304.6h0M54.1 303.8h0M61.8 298.2h0M58.3 302.8h0M71.8 299.4h0M62.2 303.7h0M63 302.2h0M40.5 312.1h0M56.7 306.4h0M60.2 301.4h0M50.7 303.9h0M60.4 302.6h0M51.4 305.5h0M60.4 301h0M56.9 302.6h0M39.1 311.8h0M59.7 305.5h0M67.4 298h0M63.1 302.6h0M59.8 305.5h0M63.7 298h0M69.3 298.8h0M52.7 304h0M55.6 301.7h0M67 301.5h0M52.5 308.4h0M60.3 303.2h0M65.5 300.6h0M57 305.7h0M43.6 306.3h0M63.2 304.8h0M45.9 308.8h0M53.2 305h0M64.4 305.5h0M72.5 300.7h0M63.3 302.1h0M44.9 310.3h0M48.4 304.6h0M57.8 299.5h0M72.2 299.8h0M61.6 303.8h0M60.3 303.1h0M63 300h0M60.6 303.3h0M63.1 298.7h0M60.1 302.7h0M63.7 303.1h0M60.3 304.3h0M63.1 305.7h0M61.2 304.1h0M51.3 306h0M65.2 303.9h0M51.1 306.5h0M56.5 304.7h0M54.4 304.1h0M58.1 304.2h0M65.2 298.6h0M52 308.5h0M62 301.7h0M50.9 309.7h0M51.5 309.7h0M60.1 302.6h0M58 306.2h0M56.8 299.5h0M51.1 300.6h0M62.3 304.7h0M64.8 297.3h0M76 301.7h0M55.7 299.2h0M53 308.9h0M73.3 296.2h0M43.8 306.9h0M72.7 297.9h0M45.9 302.9h0M63.9 303.7h0M47.5 320.5h0M49 319.6h0M47.3 318.2h0M47.2 329.1h0M49.9 327.8h0M54 307.9h0M48.6 327.4h0M48.2 318h0M49.9 318.5h0M46.5 319.8h0M49 321.7h0M51.3 321.8h0M47.5 340h0M48.2 320h0M48.4 317.4h0M44.4 322.8h0M52.9 310.7h0M46.7 324.2h0M46.9 324.8h0M48.7 315h0M48.2 318.5h0M50.3 306.4h0M50 329.6h0M49.2 323.1h0M47.3 323.7h0M48.4 313.9h0M45.5 307.7h0M50 322.7h0M51.9 323.2h0M50.8 313.6h0M43.6 318.2h0M47.9 323.8h0M48.4 320.6h0M48.9 323.2h0M49.4 323.6h0M47.4 321.1h0M44.7 314.9h0M48.1 324.2h0M46.7 313.2h0M51.5 316.6h0M44 315.8h0M45.5 307.1h0M47.7 331.8h0M46.7 316.7h0M52 322.2h0M48.5 329.8h0M45.5 321.3h0M50.2 322.9h0M45.5 316h0M53.8 321.1h0M48.1 328.1h0M43.8 321.3h0M43.9 330h0M46 322.3h0M46.2 322.4h0M49.7 321.7h0M47.9 323.1h0M48.1 318.6h0M50.6 326.8h0M45 315.6h0M46.6 323.4h0M44.9 331h0M48.9 322.6h0M51.3 317.2h0M49.9 324.1h0M52.4 315.4h0M52.7 325.2h0M49.5 328.1h0M48.1 320.5h0M51.2 319.6h0M51.9 329.9h0M49.4 322.7h0M47 316.2h0M52.9 315.5h0M49.1 323.5h0M46.3 317.6h0M46.9 334.4h0M49.9 330h0M54.5 327.8h0M52.5 319.1h0M46.9 330.4h0M52.9 315.6h0M52.1 323.5h0M51.1 327.5h0M54.2 318h0M48.9 329.3h0M48.2 325h0M48.7 311.6h0M47.3 327.1h0M47.4 312.6h0M47.5 322.4h0M50.3 323.8h0M50.4 315.5h0M47.2 317.2h0M47.7 324.4h0M52.6 320.4h0M51.9 328.5h0M45.7 316.9h0M49.3 313.5h0M74.7 302.9h0M53.1 316.2h0M56.4 315.8h0M54.8 317.6h0M57.6 315.9h0M68.7 304.8h0M55.5 303.6h0M53.9 316.9h0M61.5 316.6h0M71.6 317.5h0M66.7 310.2h0M59 313.9h0M67.8 317.8h0M63.8 310.9h0M61.2 320.6h0M63.7 322.3h0M56.7 316.7h0M63.2 316.2h0M56.5 314h0M61.3 311h0M53.4 305.3h0M59.4 315.1h0M63.5 313.6h0M64 305.6h0M69.2 312.7h0M56.5 309.7h0M68.6 313.3h0M50.1 322.9h0M51.4 320.9h0M67.7 307.4h0M70.4 318.7h0M69 315.6h0M64 313.5h0M58 313.8h0M70.7 311.9h0M75.5 304.7h0M62 305h0M49.5 313.7h0M59.5 309.6h0M54.4 311.2h0M50.5 311.4h0M58.1 306.2h0M64.7 303.1h0M64.8 313.7h0M65.5 313.1h0M67.3 311.1h0M54.2 314.3h0M56.3 310.6h0M62.6 307.8h0M68.6 304.8h0M70.3 312.2h0M73.6 317.9h0M66.5 313.9h0M62.6 305.6h0M57.9 307.7h0M56.8 311.8h0M56.3 313.1h0M60 310.1h0M64.5 314.7h0M52.5 310.8h0M82.2 312.5h0M65 308h0M68.6 320.1h0M65.8 311.7h0M62 303h0M65.9 310.9h0M64.3 333.8h0M67 343h0M65.7 326.9h0M66.5 334.3h0M64.1 340.1h0M53.9 325.8h0M53.8 338.8h0M53.8 337.3h0M50.6 340.2h0M56.6 329.6h0M56 333.8h0M67.7 331.4h0M59.5 334.7h0M68.1 332.6h0M71.6 323.8h0M66.8 331.1h0M57.4 338.3h0M68.9 335.3h0M62 327.3h0M62.7 334.6h0M72.9 328.3h0M65.3 340.5h0M60 330.8h0M64.4 336.1h0M57.8 324.5h0M60 339.6h0M57.2 340h0M60 328.7h0M61.4 320h0M41.9 332.6h0M63.8 330.1h0M65 330.8h0M60.3 330.2h0M60 339.5h0M63 324.1h0M69.4 341.3h0M63.9 326.1h0M66.4 331.8h0M60.5 339.1h0M68.2 326.6h0M60.6 330.9h0M64.3 341.1h0M58.8 337.5h0M62.7 332.8h0M54 340.1h0M54.4 340.5h0M60.3 334.2h0M55.3 330.6h0M53.3 336.7h0M60.7 335h0M60.3 338h0M61.9 333.4h0M58.8 334h0M63.7 327.6h0M52.9 339.2h0M63.7 332h0M59.3 326.1h0M53.6 336.5h0M57.5 327.3h0M59.6 322.4h0M67.1 324h0M54.2 330h0M50.2 336.2h0M46.3 337.9h0M61.1 331.2h0M57.1 326.2h0M44.3 332.9h0M68.8 331.3h0M51.7 347.6h0M67.5 336.5h0M70.7 336.3h0M48.7 339.3h0M59.4 345.3h0M65.4 330.9h0M53.9 323.7h0M59.4 328.8h0M71.9 332.4h0M59.1 331.6h0M67.2 327h0M68.9 330.6h0M59.3 336h0M69.3 319.6h0M67.6 334.4h0M62 341.3h0M66.6 333.7h0M54.7 339.4h0M52.5 340h0M73.8 321.7h0M69.2 322.7h0M62.7 336.6h0M51 339.7h0M53.6 332.8h0M66.4 330.1h0M63.5 332h0M66.8 339.6h0M60.8 331.4h0M62.4 336.7h0M58.9 321.2h0M61 335.6h0M77.8 321.6h0M55.9 328.5h0M56 324.8h0M54.3 335.7h0M49.1 337h0M58.5 341.7h0M76.8 338.3h0M63.1 336.1h0M76 322.2h0M70.6 323.1h0M64.5 322h0" fill="none" stroke="#4040dc" stroke-opacity="0.5" stroke-width="0.5" stroke-linecap="square"/>
<ellipse cx="45.2" cy="335.2" rx="11" ry="6.4" fill="#3540e0" fill-opacity="0.42" filter="url(#b2)" transform="rotate(-38 45.2 335.2)"/>
<ellipse cx="45.2" cy="335.2" rx="8.6" ry="5" fill="#3048e4" fill-opacity="0.6" filter="url(#b1)" transform="rotate(-38 45.2 335.2)"/>
<ellipse cx="45.2" cy="335.2" rx="6.8" ry="3.9" fill="#2c7ee8" fill-opacity="0.85" filter="url(#b1)" transform="rotate(-38 45.2 335.2)"/>
<ellipse cx="45.2" cy="335.2" rx="5.6" ry="3.2" fill="#25c2d6" fill-opacity="0.95" filter="url(#b0)" transform="rotate(-38 45.2 335.2)"/>
<ellipse cx="45.2" cy="335.2" rx="4.6" ry="2.6" fill="#35d04a" fill-opacity="1" filter="url(#b0)" transform="rotate(-38 45.2 335.2)"/>
<ellipse cx="45.2" cy="335.2" rx="2.9" ry="1.65" fill="#d8e028" fill-opacity="1" filter="url(#b0)" transform="rotate(-38 45.2 335.2)"/>
<ellipse cx="45.2" cy="335.2" rx="1.5" ry="0.9" fill="#f0541a" fill-opacity="1" filter="url(#b0)" transform="rotate(-38 45.2 335.2)"/>
</g>
<line x1="51.7" y1="283.6" x2="51.7" y2="351.3" stroke="#555" stroke-width="0.5"/>
<line x1="27.8" y1="321.8" x2="88.6" y2="321.8" stroke="#555" stroke-width="0.5"/>
<rect x="27.8" y="283.6" width="60.8" height="67.7" fill="none" stroke="#222" stroke-width="0.6"/>
<text x="29.2" y="286.6" font-size="2.3" font-family='"Liberation Sans", sans-serif' fill="#444">Q1</text>
<text x="29.2" y="291.2" font-size="2.3" font-family='"Liberation Sans", sans-serif' fill="#444">1.23%</text>
<text x="87.2" y="286.6" font-size="2.3" text-anchor="end" font-family='"Liberation Sans", sans-serif' fill="#444" dx="-2.5">Q2</text>
<text x="87.2" y="291.2" font-size="2.3" text-anchor="end" font-family='"Liberation Sans", sans-serif' fill="#444">8.38%</text>
<text x="29.2" y="345.1" font-size="2.3" font-family='"Liberation Sans", sans-serif' fill="#444">Q4</text>
<text x="29.2" y="349.9" font-size="2.3" font-family='"Liberation Sans", sans-serif' fill="#444">77.6%</text>
<text x="87.2" y="345.1" font-size="2.3" text-anchor="end" font-family='"Liberation Sans", sans-serif' fill="#444" dx="-2.5">Q3</text>
<text x="87.2" y="349.9" font-size="2.3" text-anchor="end" font-family='"Liberation Sans", sans-serif' fill="#444">12.8%</text>
<line x1="31" y1="351.3" x2="31" y2="352.3" stroke="#222" stroke-width="0.45"/>
<line x1="26.8" y1="349.9" x2="27.8" y2="349.9" stroke="#222" stroke-width="0.45"/>
<text x="31" y="357.9" font-size="3.2" text-anchor="middle" fill="#111" stroke="#111" stroke-width="0.14" font-family='"Liberation Sans", sans-serif'>10<tspan dy="-1.5" font-size="2.2">0</tspan></text>
<text x="26" y="351.3" font-size="3.2" text-anchor="end" fill="#111" stroke="#111" stroke-width="0.14" font-family='"Liberation Sans", sans-serif'>10<tspan dy="-1.5" font-size="2.2">0</tspan></text>
<line x1="45.05" y1="351.3" x2="45.05" y2="352.3" stroke="#222" stroke-width="0.45"/>
<line x1="26.8" y1="334.13" x2="27.8" y2="334.13" stroke="#222" stroke-width="0.45"/>
<text x="45.05" y="357.9" font-size="3.2" text-anchor="middle" fill="#111" stroke="#111" stroke-width="0.14" font-family='"Liberation Sans", sans-serif'>10<tspan dy="-1.5" font-size="2.2">1</tspan></text>
<text x="26" y="335.53" font-size="3.2" text-anchor="end" fill="#111" stroke="#111" stroke-width="0.14" font-family='"Liberation Sans", sans-serif'>10<tspan dy="-1.5" font-size="2.2">1</tspan></text>
<line x1="59.1" y1="351.3" x2="59.1" y2="352.3" stroke="#222" stroke-width="0.45"/>
<line x1="26.8" y1="318.35" x2="27.8" y2="318.35" stroke="#222" stroke-width="0.45"/>
<text x="59.1" y="357.9" font-size="3.2" text-anchor="middle" fill="#111" stroke="#111" stroke-width="0.14" font-family='"Liberation Sans", sans-serif'>10<tspan dy="-1.5" font-size="2.2">2</tspan></text>
<text x="26" y="319.75" font-size="3.2" text-anchor="end" fill="#111" stroke="#111" stroke-width="0.14" font-family='"Liberation Sans", sans-serif'>10<tspan dy="-1.5" font-size="2.2">2</tspan></text>
<line x1="73.15" y1="351.3" x2="73.15" y2="352.3" stroke="#222" stroke-width="0.45"/>
<line x1="26.8" y1="302.58" x2="27.8" y2="302.58" stroke="#222" stroke-width="0.45"/>
<text x="73.15" y="357.9" font-size="3.2" text-anchor="middle" fill="#111" stroke="#111" stroke-width="0.14" font-family='"Liberation Sans", sans-serif'>10<tspan dy="-1.5" font-size="2.2">3</tspan></text>
<text x="26" y="303.98" font-size="3.2" text-anchor="end" fill="#111" stroke="#111" stroke-width="0.14" font-family='"Liberation Sans", sans-serif'>10<tspan dy="-1.5" font-size="2.2">3</tspan></text>
<line x1="87.2" y1="351.3" x2="87.2" y2="352.3" stroke="#222" stroke-width="0.45"/>
<line x1="26.8" y1="286.8" x2="27.8" y2="286.8" stroke="#222" stroke-width="0.45"/>
<text x="87.2" y="357.9" font-size="3.2" text-anchor="middle" fill="#111" stroke="#111" stroke-width="0.14" font-family='"Liberation Sans", sans-serif'>10<tspan dy="-1.5" font-size="2.2">4</tspan></text>
<text x="26" y="288.2" font-size="3.2" text-anchor="end" fill="#111" stroke="#111" stroke-width="0.14" font-family='"Liberation Sans", sans-serif'>10<tspan dy="-1.5" font-size="2.2">4</tspan></text>
<text x="15.6" y="320.45" font-size="2.1" text-anchor="middle" font-family='"Liberation Sans", sans-serif' fill="#222" transform="rotate(-90 15.6 320.45)">FL3-H::PI</text>
<text x="49.2" y="369" font-size="7.6" text-anchor="middle" font-weight="bold">OE-NC</text>
<clipPath id="sc10"><rect x="106.6" y="283.2" width="59" height="67.6"/></clipPath>
<rect x="106.2" y="282.8" width="59.8" height="68.4" fill="#fff"/>
<g clip-path="url(#sc10)">
<path d="M116.3 340.4h0M128.4 330.1h0M126.2 340.6h0M117.5 331.8h0M114.8 337.7h0M128.7 333.8h0M133.7 335h0M133.8 328.9h0M132 330.4h0M122.6 338.7h0M136 328h0M135.3 323.4h0M129 332.7h0M127.8 333.5h0M131.7 335.4h0M120.3 339.2h0M116.7 335.6h0M114.8 327.2h0M130.3 327.2h0M122 338.5h0M116.9 331.6h0M121.4 339.8h0M122.8 328.6h0M133.5 327.4h0M118.8 339.9h0M126.7 336.3h0M119.1 342.6h0M130.3 332.1h0M130.1 335.4h0M127.7 331.2h0M122 340.8h0M129.5 330.7h0M126.2 335.4h0M111.1 345.1h0M111 344.8h0M133.9 335.5h0M117.7 326.9h0M127.4 330.7h0M121.6 330.5h0M131 329.4h0M141 318.1h0M123.1 341.9h0M123.8 327h0M127 337h0M116.5 340.1h0M128.1 342.2h0M125.3 342.1h0M126.8 343h0M114.8 339.6h0M116.5 331.9h0M134.3 332.9h0M112.6 347.7h0M115.2 337.5h0M131.8 320.8h0M121 330.3h0M110.9 337.6h0M121.7 328.5h0M122.3 338.5h0M119.4 330.2h0M131.8 328h0M128.3 324.6h0M129.1 322.5h0M113.3 339.6h0M122.2 338.1h0M129 326.2h0M115.3 338.1h0M129.9 333h0M119.3 332h0M125.9 336.9h0M123 340.8h0M123.6 340.7h0M120.1 328.8h0M126.8 329h0M129.6 329.9h0M118.9 333.1h0M125.7 336.3h0M122 337.9h0M127.4 335.7h0M130.8 339.1h0M115.1 340.1h0M128.6 334.4h0M112.4 336.2h0M125.9 337.3h0M125.5 324.4h0M127.1 337h0M121.1 330.4h0M116.4 332.5h0M129.2 328h0M119.1 332.7h0M120.5 331.4h0M118.3 337.6h0M127.2 336.9h0M122.7 330.3h0M128.4 327.1h0M118.3 344.2h0M125.6 329.3h0M130.9 332.9h0M124.3 327.1h0M121.9 329.7h0M118.9 334.5h0M120.3 338.8h0M120.9 339h0M128.9 328.2h0M134.1 328.5h0M126.7 324.3h0M121 342h0M126.2 324.2h0M130.7 338.1h0M127.9 330.8h0M130.8 334.7h0M127 334.9h0M125.2 326.9h0M131.8 331.7h0M117.1 337.3h0M115.1 338.8h0M122.4 328.7h0M117.3 334.1h0M117.9 334.1h0M119.3 340h0M120.3 332h0M127.3 327.9h0M125.1 326.2h0M129.8 326.6h0M119.6 338.9h0M113.8 335.8h0M131.6 332.2h0M108.9 336.2h0M130.6 326h0M130.4 339.6h0M120.9 330.3h0M118.3 336.5h0M109.4 336.8h0M131.7 326.5h0M126.8 329.1h0M125 343.4h0M114.8 335.9h0M115.3 340.9h0M123.5 326h0M122.5 338.5h0M127.7 318.6h0M116.5 334.6h0M120.1 340.9h0M129.9 333.1h0M130.2 325.8h0M125.7 337.1h0M132.4 331.6h0M115.5 337.8h0M117.6 335.9h0M123.6 337.9h0M127.8 330.1h0M117.4 338.3h0M127.8 334.7h0M126.6 335.5h0M121.7 338.5h0M126.5 329.6h0M122.6 340.8h0M120 340h0M127.7 339.6h0M130.7 327.4h0M128.2 334.7h0M125.8 341.3h0M115.7 334.1h0M116.7 335.8h0M128.1 328.6h0M127 328.8h0M118.9 338.2h0M117.3 330.1h0M126.6 337.3h0M119.4 330.8h0M116.5 333h0M119.9 331.8h0M127.5 324.7h0M116.8 347.2h0M123.8 328.8h0M133.5 332.4h0M120.8 339.7h0M110.1 337h0M126.3 322.8h0M127.7 327.7h0M128.5 325.1h0M113.1 338.8h0M125.8 338h0M124.4 324.6h0M117.7 333.8h0M129.6 329.6h0M121.8 338.9h0M136.1 329.1h0M116.1 338.4h0M124.9 323.4h0M116 337.4h0M124.1 329.1h0M122.1 328.7h0M126.7 336.2h0M122 326.8h0M113.6 339.9h0M114.1 331.7h0M118.4 333.6h0M128.8 328.1h0M131.6 335.7h0M127.1 319.9h0M126.5 336.3h0M119.2 333.4h0M114.3 337.5h0M118.7 327.9h0M121.2 331.2h0M120.8 330.3h0M118.1 334.5h0M129.8 331.9h0M120.3 338.3h0M116 336.8h0M106.8 343.9h0M125.7 329.5h0M124.8 329.4h0M123.4 344.4h0M115.6 333h0M128 334.8h0M123.1 326.9h0M132.2 326.7h0M114.7 344.7h0M132.3 324h0M117.6 333.2h0M112.9 343.3h0M127.7 327.8h0M118 332.8h0M120.7 327.9h0M132.8 325.4h0M117.2 332.4h0M128.5 334.7h0M127.2 335.6h0M129.5 335.2h0M122.4 347.7h0M118 332.3h0M119.4 338.8h0M133.3 338.3h0M127.8 326.4h0M123 340h0M119.7 330.8h0M136.7 329.6h0M114.6 335.6h0M128.8 328.6h0M125.2 338.5h0M128.2 339.9h0M127 334.3h0M131.7 323.8h0M118.3 333h0M133.9 327.9h0M115.6 343.7h0M114.4 345h0M124.1 327.8h0M124.8 341.2h0M121.9 345.9h0M127.3 341.2h0M126.4 339.4h0M131.2 332.6h0M129.5 334.8h0M117.6 327.7h0M112.1 348.2h0M116 346.3h0M134.8 315.3h0M127.7 332.8h0M114.8 330.4h0M127 339.5h0M130.5 339.8h0M114.3 331.6h0M126.5 328.7h0M117.3 331.4h0M117 341.3h0M118.3 328.2h0M123.4 337.6h0M124.8 329.4h0M121 338.3h0M130.7 333.2h0M119 338.2h0M123.5 337.9h0M129.1 332.6h0M135.3 333h0M113.4 327.3h0M122.8 326.4h0M130.7 327.2h0M121.9 328.7h0M129.6 327.4h0M120.9 330.9h0M128.5 335h0M128.7 334h0M118.1 329.1h0M113.8 329.1h0M128.2 334.5h0M130.6 327.2h0M129.8 320.6h0M121.2 328.8h0M117.4 333.7h0M124.7 327.3h0M117.4 336.8h0M116.1 334.5h0M130 325.3h0M122.7 341.3h0M126.6 336.9h0M114.3 339.4h0M129.3 335.5h0M129.2 334.9h0M125.5 328.4h0M127.6 337.1h0M119.9 339.3h0M130 335.4h0M120.6 348h0M115.4 340.1h0M133.3 319.3h0M135.8 325.5h0M136.9 330.6h0M118.7 331h0M117.2 340.6h0M116.8 340.8h0M115 334.1h0M125.2 327.5h0M131.8 337.2h0M135.6 328.3h0M128.6 333.1h0M115.8 342.5h0M137.2 327.4h0M131.6 331.9h0M118.9 334h0M114.5 337.9h0M117.7 338.5h0M120.2 326.3h0M120.4 328.9h0M117.1 336.2h0M121 330.6h0M128.6 333.1h0M123.7 328.3h0M125.8 335.7h0M126.9 329.4h0M116 339.4h0M132.4 324.8h0M115.4 339.2h0M136.8 324h0M125.9 328.2h0M116.8 335.4h0M115.2 336.2h0M124.6 327h0M131.4 335.8h0M120.7 340.4h0M121.2 322.1h0M129.4 332.4h0M123.6 342.5h0M117.3 345.1h0M122.2 329.5h0M120.2 328.6h0M127.8 333h0M133.2 333.2h0M121 338.1h0M113 327.2h0M131.2 333.6h0M128.8 338.4h0M118.8 328.6h0M108.7 339h0M125.3 337.9h0M116.7 332.4h0M123.1 338.6h0M127.4 325.6h0M130.1 335.2h0M124.7 327.1h0M125.2 329.8h0M125.4 341.9h0M133.7 334h0M113.6 337.4h0M115.8 339.4h0M129.3 332.8h0M121.9 330h0M119.6 329.8h0M122.5 326.6h0M124.2 341.8h0M123.1 329h0M119.7 331.4h0M118.1 335.7h0M119.4 337.8h0M126.8 326.7h0M116.5 335h0M117.7 333.7h0M122.2 339.7h0M130.9 333.1h0M121.9 330.1h0M135.9 335.2h0M118.4 334.5h0M130.7 331.5h0M130.5 338.7h0M120.4 332h0M127.4 336.9h0M125.5 328.4h0M134 331.3h0M121.6 337.9h0M117.6 340.5h0M114.9 336h0M124.7 328.5h0M111.4 340.3h0M129.4 333.4h0M118.2 341h0M127.3 337h0M124.9 343.6h0M126.1 325.6h0M117.7 343.4h0M113.1 337.7h0M118.7 326.4h0M120.5 338.5h0M135.1 326.6h0M130.1 331.7h0M113.7 331.2h0M130.6 323.6h0M122.2 324.4h0M124 326.5h0M118.6 340.4h0M118.3 337.3h0M118.6 337.2h0M121.9 340.9h0M113.1 344.6h0M114.3 339.6h0M117 348.2h0M113.1 340.2h0M113.3 334.9h0M117.4 345.6h0M133.9 324.6h0M126.1 328.9h0M121.8 344h0M123.5 327.6h0M122.8 341.8h0M118.2 341.9h0M114.9 336.7h0M116.9 335.4h0M113.6 334.7h0M117.7 338h0M126.3 328.7h0M113.3 341.6h0M124.8 317.4h0M118.6 331.3h0M116.9 342.5h0M114.7 337.6h0M120.6 343.2h0M117.5 327.7h0M124.7 339.8h0M118 336.2h0M123.7 329.9h0M116.5 337h0M121.6 343.1h0M110.3 349.2h0M127.4 329.9h0M120.8 331.1h0M135.5 328.5h0M140.1 331.8h0M114.9 343.2h0M112.9 343.4h0M128.8 331.6h0M128.1 331.4h0M122.4 330.6h0M121.6 338.9h0M129.1 328h0M120.2 330h0M116.1 332.6h0M116.9 330h0M134.4 327.4h0M129.7 332.7h0M123.1 339.2h0M131.5 341.2h0M131.6 322.4h0M127.6 336.5h0M124.8 329.3h0M130.5 333.1h0M112.9 342h0M120 337.7h0M115.8 340.6h0M128.9 335.5h0M131.2 327.5h0M123.3 340.3h0M122.5 326.9h0M116.2 334.6h0M121.1 343.2h0M113.1 340.8h0M120.5 331.3h0M123 329.6h0M112.6 335.6h0M129.1 327.1h0M123.5 329.7h0M129.9 333.8h0M117.8 342.2h0M128.5 335.1h0M120.8 338.9h0M123.5 339.5h0M130.7 333.4h0M121.6 338.1h0M125 325.7h0M120 337.6h0M115.5 339.4h0M120.1 328.8h0M129.7 328.6h0M120.9 326.3h0M123.5 337.3h0M128.1 331.9h0M117.3 337.9h0M128.7 339h0M132.2 324.5h0M118.4 337.8h0M127.6 325.2h0M115.3 333.7h0M127.9 327.7h0M126.9 339.2h0M119.4 342.5h0M118.3 339h0M130 335.9h0M133.1 336.8h0M127.9 330.1h0M117.9 336.9h0M121.7 329.9h0M131.8 326.6h0M116.5 342h0M119.1 333.8h0M121.2 342.8h0M131.5 329.8h0M118.6 331.5h0M110.2 340.2h0M123 341.6h0M117.8 329.8h0M132 330.1h0M125.6 329.8h0M119.3 337.8h0M127.8 332.9h0M115.3 335.3h0M126.3 340.8h0M114.2 339.6h0M118.5 338.7h0M133.9 327.4h0M127.8 325.7h0M128.1 336.9h0M119.6 332.9h0M119 344.5h0M126 338.6h0M128 331.2h0M128 327.2h0M128.4 331.6h0M127.1 339.6h0M115 337.4h0M124.7 337.6h0M127.8 333h0M130.8 327.6h0M122.4 340.6h0M128.9 324.5h0M123.2 325.8h0M116.9 331h0M130.1 333.6h0M120.3 338.6h0M124.8 329.1h0M128.9 336.7h0M137.1 334.6h0M133.8 318.2h0M129.4 336.6h0M117.1 341.5h0M128 336.4h0M124.2 329.7h0M128.1 335.8h0M122.6 325.6h0M127.3 328.6h0M115.6 332.7h0M124.6 336.8h0M119.7 338.3h0M116.9 328.6h0M121.8 326.6h0M127 328.8h0M125.7 337.1h0M117.2 336.8h0M128.1 337.1h0M126.1 336.9h0M123.6 337.8h0M130.2 337.5h0M128.4 332.5h0M121 341.4h0M128.9 326.8h0M126.2 323.7h0M117.1 344.5h0M128.4 330.5h0M127.5 335.7h0M132.8 321.2h0M118.6 327.5h0M119.9 342.2h0M116.5 328.1h0M120.1 343.6h0M128.8 335.7h0M130 325.8h0M120.8 340.3h0M113.9 339h0M128.5 332.4h0M128.5 335.8h0M131.7 322.8h0M126.5 335h0M127.8 334.3h0M113.8 339.6h0M117.4 334.4h0M115.3 333.5h0M119.3 337.3h0M113.6 334.6h0M131.3 331.6h0M123.3 327.9h0M115.5 343.8h0M123.5 329.1h0M130.7 329.4h0M127.3 337.5h0M133.3 331.2h0M129.8 333.7h0M126 336.7h0M120.2 342.4h0M119.9 326h0M125.4 336h0M123.6 329h0M129.7 332.7h0M127.2 337.8h0M118.1 327.1h0M128 328.8h0M111.7 336.2h0M119.9 340.3h0M128.3 328.2h0M119 344.2h0M118.5 332.7h0M122.4 343.1h0M133.2 331.7h0M110.4 343.7h0M130.5 335.8h0M113.1 341.5h0M128 328.2h0M134.3 330.5h0M126.1 327.1h0M113.4 339.7h0M128.1 328.5h0M121.8 343.8h0M126.4 328.3h0M112.7 322.4h0M116.7 338.2h0M123 341.9h0M136 329h0M115.3 328.6h0M124.5 327.2h0M128.7 324.9h0M123.2 337.6h0M127.3 329.6h0M116.4 330.2h0M126 339.2h0M114.8 336h0M131.6 334.8h0M111 336.8h0M114.9 331h0M125.1 326.4h0M132.5 320.3h0M124.5 338.2h0M116.8 337.1h0M126.7 326.4h0M133.6 318.6h0M127.9 331.3h0M117.9 333.1h0M127.6 320.6h0M125.1 329.4h0M119.5 339.2h0M129.8 328.3h0M130.1 328.9h0M126.6 325.2h0M116.6 345.8h0M129.8 330.7h0M126.5 338.7h0M128.5 328.6h0M124.8 327.5h0M124.1 338.8h0M132.5 337.5h0M122.4 335.5h0M127.9 337.1h0M127.2 335.2h0M114 338.7h0M137.1 324h0M132.3 334.6h0M126 327.6h0M126.7 329.6h0M126.2 332.6h0M136.2 332.5h0M134.7 320.8h0M132.2 336.1h0M120.6 332.9h0M141.6 325.3h0M130.9 326.2h0M139.6 328.8h0M127.9 332.9h0M130.8 328.4h0M131.4 337.5h0M120 328.2h0M139.5 333.7h0M124.5 336.8h0M125.3 328.6h0M122.4 337.6h0M115.2 342.6h0M154.1 328h0M112.3 342.9h0M120.5 338.6h0M123.2 333.6h0M128.8 333.3h0M130.8 333.2h0M139.8 334.2h0M132.1 329.1h0M136.5 327.6h0M130.4 323.7h0M120.2 344.1h0M114.2 335.9h0M123 330h0M132.7 329.5h0M134.1 336.2h0M126.7 330h0M116.6 336.1h0M122 337.1h0M138.7 322.1h0M122.1 323.8h0M136.5 318.2h0M123.8 324.9h0M132.8 328.1h0M124.7 343h0M138.4 324.8h0M124 335.4h0M123.9 337.7h0M121.5 331.7h0M132.3 339.1h0M119.6 344h0M133 331.7h0M130.7 333.1h0M111.7 343.2h0M111.6 343.4h0M125.8 334.6h0M127.1 327.1h0M127.8 340.3h0M134.9 325.4h0M120.9 336.1h0M133.5 329h0M132 335.5h0M131.7 331.6h0M126.6 333.4h0M125.4 327.2h0M118.4 328.5h0M120.9 328.9h0M133.4 334.9h0M125.4 337.2h0M127.9 319.5h0M129.9 318.3h0M112 335.7h0M110.9 334.6h0M129.6 333.5h0M133.8 329.9h0M134.9 324.6h0M128.3 339.5h0M125.8 340.4h0M119.9 327.2h0M118.3 335.1h0M128.7 332.8h0M133.3 330.3h0M129.2 319.5h0M134.7 335.3h0M123.7 338.7h0M131.4 323.3h0M109 341h0M127.3 336.6h0M132.3 330.9h0M124.5 331.4h0M122 335.5h0M123.8 334h0M118.9 332h0M127.9 327.4h0M135 332.1h0M126.3 346.5h0M112.8 332.8h0M114.6 335.4h0M129.9 337.1h0M133.1 336h0M113.3 347h0M114 336h0M147.8 326.8h0M124.6 328.8h0M117.5 330.2h0M125.2 337.5h0M130.2 330.8h0M125.1 337.4h0M136.5 336.7h0M131.1 334.5h0M133.9 330.5h0M131.3 330h0M128.9 323.6h0M117.4 333.6h0M121.8 333.6h0M136 326.7h0M126.9 332.9h0M128.9 323.3h0M123.9 328.8h0M135.5 335.2h0M130.9 333.5h0M134.7 322.7h0M123.5 322.9h0M129.8 331.4h0M132.7 341.2h0M128 329h0M123.7 333.9h0M114.3 343.7h0M121.7 337.4h0M135.8 335h0M124.4 333.5h0M128.2 333.4h0M122.9 335.9h0M124 336.1h0M137.8 323.1h0M138.2 325.5h0M139.3 329h0M113.2 337.9h0M116.8 342.9h0M122 342.2h0M127.4 334.8h0M113.2 328.7h0M120.9 333.4h0M129.5 334h0M120.6 338.7h0M126.4 340.1h0M122.3 336.7h0M137 328.4h0M135.6 332.1h0M133.6 330.6h0M126 343.9h0M139.8 332.5h0M126 336.4h0M111.8 344.2h0M121.3 334.3h0M129.8 327.9h0M125.3 323h0M140.6 316.1h0M116.1 332.7h0M126.8 319.8h0M125.6 343.3h0M115.5 336.9h0M122.7 341.4h0M122.3 337.2h0M120.8 333.5h0M115 345h0M124.1 331.2h0M128.9 329.5h0M127.3 333.1h0M127.9 326.7h0M133.2 329.5h0M120.1 332.8h0M133.2 327.7h0M114.3 333.3h0M137.9 316.6h0M120.5 335.7h0M124.2 345.3h0M117.1 333.4h0M125.1 327.1h0M121.1 341.2h0M137.9 332.7h0M124.1 328.6h0M120.5 331.6h0M127.6 332.4h0M125.9 337.7h0M127.1 324.3h0M134.7 321.5h0M127.9 337.6h0M128.2 327.4h0M130.2 332.8h0M112 327.1h0M132.1 318.8h0M129.8 312.5h0M128.3 308.6h0M127.3 312h0M127.7 311h0M130.5 310.6h0M132.6 304.6h0M126.6 302.4h0M130.7 309.9h0M129.4 307.4h0M133.4 307.3h0M132.4 307.7h0M127.4 304.8h0M129.4 304.6h0M129.5 302.4h0M131 308.9h0M134.2 305.8h0M133 312.1h0M133.9 306.7h0M127.1 308.3h0M130.5 303.7h0M126.6 302h0M132.4 302.5h0M136.5 304.5h0M128.1 307.1h0M131.1 307.2h0M127.2 304h0M127.8 306.8h0M127.8 308h0M133.2 306.9h0M130.8 308.5h0M126.8 308h0M131.5 310.3h0M133.6 304.7h0M135.1 302.8h0M134.6 306.2h0M132.1 305.8h0M128.5 303.2h0M133.2 305.3h0M131.7 304h0M133.4 306.8h0M128.8 307.2h0M129.2 308.1h0M134.5 302.3h0M122.7 306.2h0M126.3 309.3h0M125 300.8h0M128.4 304.6h0M123.9 306.5h0M129.8 304.4h0M133.1 304.8h0M131.7 300.1h0M130.3 304.9h0M128.3 307h0M130.1 307.5h0M129.8 307.6h0M127.1 300.2h0M127.6 301.7h0M126.7 304.6h0M128.9 306.8h0M129.4 305h0M131.3 304.8h0M125.4 307.9h0M126.5 307.8h0M135.3 305.3h0M132.6 309.2h0M129 304.3h0M133 307.9h0M127.4 308.6h0M128.7 305.6h0M123.9 304.9h0M130.4 302.3h0M131.2 308.2h0M126.5 313.7h0M131.6 303.4h0M130.9 310.2h0M136.4 302.2h0M131.4 305h0M134.4 305.1h0M129.9 304.9h0M135.4 303.1h0M127 303.3h0M126.8 305.9h0M130.9 302.3h0M127.8 303.4h0M130.5 303.6h0M129.6 302.3h0M132.2 304.6h0M131.6 305.5h0M125.8 306.7h0M133.8 304.4h0M129 307.9h0M126.6 307.1h0M128.4 308.8h0M125.7 304.3h0M130.9 306.9h0M128.8 303.6h0M130.1 304.8h0M132.5 302.8h0M123.7 303.1h0M132.2 309h0M131.3 306h0M130.3 310.6h0M130.2 310.6h0M131.1 306.1h0M127.4 305.3h0M128.9 302.6h0M128.7 306.3h0M128.4 307.3h0M127.3 307.7h0M130.6 308.3h0M131.7 305.3h0M130.1 305.2h0M127.2 304.7h0M128.2 307.6h0M128.3 304.6h0M127.5 308.1h0M127.4 306.6h0M132.9 310.1h0M125.3 303.8h0M128.9 304.4h0M133.2 304.7h0M134 305.7h0M129.5 305.6h0M127.9 304.3h0M131.6 308.8h0M128.3 301.8h0M132.5 304.7h0M133.8 308.5h0M126.4 309.1h0M126.1 305.9h0M125.7 304.1h0M133.2 304.6h0M127 309.4h0M132.4 305.6h0M130.8 306.3h0M132.1 299.9h0M128 307.1h0M129.6 309.4h0M129.1 302.9h0M133.3 299.1h0M128.7 308.8h0M137.8 307.9h0M132.2 304.8h0M134.5 303.8h0M129.4 302.1h0M127.6 303.6h0M129.9 309.1h0M128.1 309.9h0M130.6 311.4h0M128.7 307.5h0M121 309.4h0M127.4 305h0M130.7 306.6h0M135 308.9h0M125.6 305h0M132.9 306.3h0M130.3 310.9h0M128 307.9h0M130.5 306.2h0M133.9 307.9h0M131.5 304.6h0M129.2 308h0M125.3 308.1h0M129.2 306.6h0M128.5 310.1h0M128.8 310.4h0M132.8 305.2h0M130.3 306.2h0M129.6 307.4h0M130.2 303.9h0M129.3 308.2h0M129.5 306.1h0M129 305.4h0M133.3 304.2h0M128.7 306.7h0M132.9 306h0M128.4 302.7h0M127.2 306.2h0M129.3 302.8h0M130 301.1h0M131.1 305.1h0M132.2 299.8h0M132.4 301.9h0M135.6 302.8h0M131.7 300h0M142.6 298.4h0M144.3 297.9h0M143.1 295.5h0M129.7 307.4h0M124 305.6h0M142.7 300.4h0M152.8 296.1h0M149.5 297.5h0M150.9 296.8h0M145.3 303.2h0M153.6 292.8h0M125.2 303h0M139.5 301h0M145.6 305.5h0M145.2 298.9h0M151.3 298.4h0M118.7 312.7h0M140.1 300.1h0M129.8 304.7h0M155.1 295.6h0M132.4 305.7h0M129.8 308.5h0M143.2 299.5h0M142.8 297.2h0M136.4 302.6h0M141.7 306.4h0M142 297.6h0M137 300.6h0M140.8 296.4h0M145.3 297.5h0M146.4 302.5h0M144.8 295.8h0M133.4 299.2h0M135.6 302.2h0M146.6 298.8h0M141.1 298.8h0M131.6 304h0M132.3 302.9h0M136.5 306h0M138.5 308.5h0M144.9 298.3h0M142.6 304.9h0M127.5 308.8h0M151.6 297.4h0M126.6 302.8h0M142 300.9h0M145.1 295.3h0M140.8 304.9h0M141.9 297.9h0M136.7 301.6h0M155.8 299.7h0M136.1 302.6h0M140.1 302.4h0M137.3 301.3h0M134.3 305.6h0M144.7 299h0M139 305h0M138 294.4h0M136.1 302.4h0M139.8 300.4h0M132.8 305.2h0M141.1 298.3h0M138 302.2h0M139.5 310.5h0M141.1 301.1h0M131.1 302.3h0M140.3 302.7h0M134.3 302.5h0M136.6 304.3h0M144.8 295.3h0M142.4 297.9h0M132.5 306.4h0M148 304.8h0M142.2 305.5h0M136.2 301.5h0M144.7 296.4h0M140.5 303.3h0M126.9 307.4h0M142.4 294.6h0M132.9 305.6h0M133.1 301.5h0M127.1 311.2h0M140.6 300.2h0M138.4 302.7h0M138.3 302.9h0M144.8 297.8h0M142.2 302.7h0M134 302.1h0M142.7 300.9h0M132.7 304.1h0M134.1 306h0M141.2 299.2h0M142.2 303.5h0M133.5 300.1h0M139.6 306.7h0M149.7 297.4h0M140.8 302.8h0M154.6 300.3h0M125.3 311.3h0M144.2 298.4h0M139.2 300h0M120.5 308.2h0M135 298.7h0M138.5 301.3h0M140 300.2h0M128.4 307.6h0M131.9 300.8h0M144.9 298.9h0M150.9 298.5h0M121.3 312.4h0M132.8 303.7h0M135.9 300.6h0M142.9 298.8h0M133.6 303.3h0M142 298.7h0M140.1 302.1h0M152.9 294.3h0M136.1 303.7h0M141.7 304.1h0M143 300.8h0M148.4 299h0M143 301.9h0M145.7 297h0M140.9 305.6h0M142 296h0M144 298.9h0M132 302.8h0M139.6 300.1h0M153.8 294.5h0M138.6 305.1h0M129.9 304.1h0M135.3 303.8h0M147.4 296.6h0M149.2 295.3h0M140.2 303.2h0M142.3 302.4h0M140.6 304.7h0M143.1 302.9h0M133.4 299.1h0M123.6 310.5h0M132.6 308.3h0M141.1 294.8h0M124.9 306.2h0M139.7 299.3h0M136.3 298.1h0M133.6 305.9h0M130.4 305.9h0M117.4 308.2h0M136.2 297.9h0M120.6 305.8h0M139.5 303.3h0M146.5 295.5h0M151.1 298.2h0M134.8 300.4h0M136.5 304.7h0M140.1 301.1h0M139 301.2h0M137.9 302.6h0M132.5 300.3h0M128.6 306.5h0M153.7 296.5h0M143.6 303.1h0M130.4 307.3h0M146.4 297.5h0M141.4 302.7h0M138.4 305h0M155.5 290.8h0M131.1 300.4h0M143.4 299.8h0M148.9 303.5h0M143.7 294.5h0M135.1 305.3h0M142.2 300.2h0M132.6 303h0M153.4 297h0M128.7 303.6h0M135.7 302.2h0M136.9 303.5h0M140.6 305.1h0M137.2 300.8h0M137.4 302h0M133.4 299.4h0M133.8 308.8h0M136.2 306.3h0M142.7 304.1h0M135.2 301.4h0M134.3 301.8h0M136.6 307.4h0M156.2 293.6h0M140.4 301.1h0M141.6 301.8h0M143.9 303.4h0M143.2 297.5h0M142.6 297.7h0M131.1 321.6h0M130.2 317.7h0M123.1 316.8h0M128.7 313.9h0M128.3 327.5h0M126.1 323.9h0M128.3 317.4h0M127.7 322.4h0M126.3 318.4h0M125.2 308.8h0M132.1 314.5h0M130.4 319.4h0M130.6 319.5h0M132 332.1h0M127.9 322.6h0M127.4 319.8h0M129.1 324.4h0M131.2 323.9h0M129.3 311.9h0M127.5 314.2h0M126.1 320.8h0M128 316.7h0M128.9 312.9h0M122.9 316.8h0M126.7 323.1h0M128.2 319.3h0M127.3 325.9h0M124.4 322.1h0M127.1 321h0M129.7 329.1h0M130.4 320.4h0M126.4 316.8h0M131.9 321.1h0M121.9 308.1h0M125.6 310.1h0M126.2 324.6h0M125.8 312.8h0M122.8 322.6h0M128.1 313.1h0M129.5 321.9h0M130.4 322.4h0M128.3 324.8h0M127.4 308.3h0M126.2 321.7h0M132.2 313.5h0M130.5 304.4h0M128.4 329.9h0M127.8 320.1h0M129.4 326.8h0M129.7 317.7h0M128.9 331.5h0M128 317.7h0M127 327.6h0M130 314.7h0M125.2 320.7h0M128.8 307.3h0M126.9 334h0M127 322.8h0M128.5 319h0M125.1 312.2h0M129.2 320.5h0M126.7 322.5h0M125.7 307.5h0M124.3 320.8h0M129 321.9h0M122.3 319.7h0M128 322.2h0M126.8 320h0M132.1 316.3h0M127.3 332.2h0M125.8 322.4h0M131.4 315.1h0M135.3 314.4h0M131.2 327.2h0M128.4 329.2h0M129.2 323.6h0M126.5 320.3h0M128.1 310.3h0M128.8 316.8h0M127.9 322.7h0M129.4 323.6h0M133.5 321.8h0M121.7 320.3h0M127.6 324.2h0M129.5 317.4h0M124.6 325h0M125.4 316.9h0M127.9 312.5h0M127.3 321.1h0M129.6 317.5h0M124.8 313.4h0M129.1 311.2h0M127.1 316.2h0M122.6 320.9h0M125.3 328.5h0M124.7 316.5h0M125.4 312.6h0M127.6 320.1h0M130.5 322.9h0M151.6 314.5h0M133.4 315.3h0M132.4 305.7h0M132.2 306.1h0M137.1 306.3h0M140.8 303.9h0M134.8 309.4h0M148.6 309.2h0M146.1 310.4h0M148 311h0M141.1 318.2h0M140.1 306h0M138.8 312h0M131.4 308h0M128.3 317.4h0M151.6 311h0M154.6 302.6h0M136.4 309.5h0M135.7 309.7h0M147 311.4h0M145.7 308.9h0M140.4 306.8h0M131.4 307.5h0M149.3 309.1h0M140.5 309.5h0M137 314.5h0M143.2 301h0M136.3 305.3h0M150.1 306.4h0M127.6 314.4h0M130.9 309.6h0M151.9 314h0M136.5 302.5h0M144.1 307.5h0M147.1 314.5h0M142.9 315.2h0M139.4 308h0M148.5 315.4h0M141.7 316.3h0M142.4 308.2h0M140.5 307h0M145.9 304.6h0M133.9 308h0M147.2 304.2h0M141.3 318.7h0M144.8 304.1h0M141.8 306.7h0M148.7 310.7h0M131.8 316.3h0M144.2 301.2h0M157.2 310.5h0M136.9 310.1h0M140 310.5h0M148.7 302.6h0M149.8 312.6h0M131.8 309.3h0M130.5 319.2h0M143.8 308h0M135 307.3h0M134.8 319.2h0M134.3 310.1h0M136.9 314h0M143.8 315.3h0M150.6 308.5h0M148.7 311.5h0M142.9 308.3h0M138.1 329.1h0M135.6 331h0M141.2 325.4h0M143.3 324.8h0M156.4 317h0M147.3 316.5h0M122.2 331.8h0M137.4 326h0M135.6 332.5h0M130.2 334.1h0M117.2 334.5h0M131.9 341h0M127.8 340.9h0M140 326.8h0M132.4 320.2h0M135.4 327.8h0M129.9 336.2h0M147.3 328.8h0M140.4 337.6h0M147.8 328.4h0M155.4 323.2h0M147 340.7h0M145.9 329.1h0M139.1 327.9h0M146.6 322.8h0M135.5 336.6h0M152.7 327.8h0M135.5 336.6h0M140.9 333.7h0M128.2 332.1h0M131.3 335.7h0M138.1 333.2h0M131.9 334.5h0M132.3 336h0M144.8 330.3h0M132 329.7h0M147.5 327.1h0M134.7 340.4h0M139.9 321.8h0M147.6 329.7h0M151.3 324.1h0M137.3 338.7h0M125.4 335.6h0M132.7 326.5h0M150.3 325.6h0M139.6 330.9h0M138 332.2h0M144 325.4h0M145.7 328.8h0M142.7 334.3h0M150.8 335.4h0M138.4 331.7h0M142.9 334.2h0M127 328h0M131.6 339.7h0M129.9 331.5h0M121.2 328h0M144.5 330.4h0M150.1 329.9h0M135.3 328.2h0M145.1 339.3h0M128.2 339.1h0M156.6 335.5h0M138.1 326.2h0M139.5 329.1h0M148.2 333.9h0M139.4 326.6h0M143 331.7h0M151.4 326.9h0M134.2 330.5h0M132.4 322.8h0M132.9 337.7h0M155.5 327.1h0M149.3 330.1h0M141.7 329.1h0M142.6 327.6h0M145 321.7h0M134.5 322.6h0M122.2 339.3h0M147.6 325.4h0M130.6 334.2h0M128.3 328.6h0M143.1 331.5h0M127.8 343.2h0M131.8 334.5h0M137.5 333.6h0M125.7 338.1h0M152.2 323.8h0M138.6 329.4h0M136.2 336.9h0M128.8 322.5h0M128.3 337.7h0M142 324.6h0M128.9 334.1h0M146.1 330.9h0M140.5 331.7h0M130.7 326.7h0M145.5 324.2h0M134.6 333.7h0M122.9 330.3h0M125 332.9h0M135.2 325.3h0M133.2 334.5h0M131.3 337.9h0M140.9 328.6h0M152.1 321.3h0M140.5 332.6h0M152.9 325.9h0M138.9 342.5h0M129.6 330.8h0" fill="none" stroke="#4040dc" stroke-opacity="0.5" stroke-width="0.5" stroke-linecap="square"/>
<ellipse cx="123.2" cy="333.8" rx="11" ry="6.4" fill="#3540e0" fill-opacity="0.42" filter="url(#b2)" transform="rotate(-38 123.2 333.8)"/>
<ellipse cx="123.2" cy="333.8" rx="8.6" ry="5" fill="#3048e4" fill-opacity="0.6" filter="url(#b1)" transform="rotate(-38 123.2 333.8)"/>
<ellipse cx="123.2" cy="333.8" rx="6.8" ry="3.9" fill="#2c7ee8" fill-opacity="0.85" filter="url(#b1)" transform="rotate(-38 123.2 333.8)"/>
<ellipse cx="123.2" cy="333.8" rx="5.6" ry="3.2" fill="#25c2d6" fill-opacity="0.95" filter="url(#b0)" transform="rotate(-38 123.2 333.8)"/>
<ellipse cx="123.2" cy="333.8" rx="4.6" ry="2.6" fill="#35d04a" fill-opacity="1" filter="url(#b0)" transform="rotate(-38 123.2 333.8)"/>
<ellipse cx="123.2" cy="333.8" rx="2.9" ry="1.65" fill="#d8e028" fill-opacity="1" filter="url(#b0)" transform="rotate(-38 123.2 333.8)"/>
<ellipse cx="123.2" cy="333.8" rx="1.5" ry="0.9" fill="#f0541a" fill-opacity="1" filter="url(#b0)" transform="rotate(-38 123.2 333.8)"/>
</g>
<line x1="130.5" y1="282.8" x2="130.5" y2="351.2" stroke="#555" stroke-width="0.5"/>
<line x1="106.2" y1="321.3" x2="166" y2="321.3" stroke="#555" stroke-width="0.5"/>
<rect x="106.2" y="282.8" width="59.8" height="68.4" fill="none" stroke="#222" stroke-width="0.6"/>
<text x="107.6" y="285.8" font-size="2.3" font-family='"Liberation Sans", sans-serif' fill="#444">Q1</text>
<text x="107.6" y="290.4" font-size="2.3" font-family='"Liberation Sans", sans-serif' fill="#444">1.33%</text>
<text x="164.6" y="285.8" font-size="2.3" text-anchor="end" font-family='"Liberation Sans", sans-serif' fill="#444" dx="-2.5">Q2</text>
<text x="164.6" y="290.4" font-size="2.3" text-anchor="end" font-family='"Liberation Sans", sans-serif' fill="#444">8.10%</text>
<text x="107.6" y="345" font-size="2.3" font-family='"Liberation Sans", sans-serif' fill="#444">Q4</text>
<text x="107.6" y="349.8" font-size="2.3" font-family='"Liberation Sans", sans-serif' fill="#444">83.0%</text>
<text x="164.6" y="345" font-size="2.3" text-anchor="end" font-family='"Liberation Sans", sans-serif' fill="#444" dx="-2.5">Q3</text>
<text x="164.6" y="349.8" font-size="2.3" text-anchor="end" font-family='"Liberation Sans", sans-serif' fill="#444">7.52%</text>
<line x1="109.4" y1="351.2" x2="109.4" y2="352.2" stroke="#222" stroke-width="0.45"/>
<line x1="105.2" y1="349.8" x2="106.2" y2="349.8" stroke="#222" stroke-width="0.45"/>
<text x="109.4" y="357.8" font-size="3.2" text-anchor="middle" fill="#111" stroke="#111" stroke-width="0.14" font-family='"Liberation Sans", sans-serif'>10<tspan dy="-1.5" font-size="2.2">0</tspan></text>
<text x="104.4" y="351.2" font-size="3.2" text-anchor="end" fill="#111" stroke="#111" stroke-width="0.14" font-family='"Liberation Sans", sans-serif'>10<tspan dy="-1.5" font-size="2.2">0</tspan></text>
<line x1="123.2" y1="351.2" x2="123.2" y2="352.2" stroke="#222" stroke-width="0.45"/>
<line x1="105.2" y1="333.85" x2="106.2" y2="333.85" stroke="#222" stroke-width="0.45"/>
<text x="123.2" y="357.8" font-size="3.2" text-anchor="middle" fill="#111" stroke="#111" stroke-width="0.14" font-family='"Liberation Sans", sans-serif'>10<tspan dy="-1.5" font-size="2.2">1</tspan></text>
<text x="104.4" y="335.25" font-size="3.2" text-anchor="end" fill="#111" stroke="#111" stroke-width="0.14" font-family='"Liberation Sans", sans-serif'>10<tspan dy="-1.5" font-size="2.2">1</tspan></text>
<line x1="137" y1="351.2" x2="137" y2="352.2" stroke="#222" stroke-width="0.45"/>
<line x1="105.2" y1="317.9" x2="106.2" y2="317.9" stroke="#222" stroke-width="0.45"/>
<text x="137" y="357.8" font-size="3.2" text-anchor="middle" fill="#111" stroke="#111" stroke-width="0.14" font-family='"Liberation Sans", sans-serif'>10<tspan dy="-1.5" font-size="2.2">2</tspan></text>
<text x="104.4" y="319.3" font-size="3.2" text-anchor="end" fill="#111" stroke="#111" stroke-width="0.14" font-family='"Liberation Sans", sans-serif'>10<tspan dy="-1.5" font-size="2.2">2</tspan></text>
<line x1="150.8" y1="351.2" x2="150.8" y2="352.2" stroke="#222" stroke-width="0.45"/>
<line x1="105.2" y1="301.95" x2="106.2" y2="301.95" stroke="#222" stroke-width="0.45"/>
<text x="150.8" y="357.8" font-size="3.2" text-anchor="middle" fill="#111" stroke="#111" stroke-width="0.14" font-family='"Liberation Sans", sans-serif'>10<tspan dy="-1.5" font-size="2.2">3</tspan></text>
<text x="104.4" y="303.35" font-size="3.2" text-anchor="end" fill="#111" stroke="#111" stroke-width="0.14" font-family='"Liberation Sans", sans-serif'>10<tspan dy="-1.5" font-size="2.2">3</tspan></text>
<line x1="164.6" y1="351.2" x2="164.6" y2="352.2" stroke="#222" stroke-width="0.45"/>
<line x1="105.2" y1="286" x2="106.2" y2="286" stroke="#222" stroke-width="0.45"/>
<text x="164.6" y="357.8" font-size="3.2" text-anchor="middle" fill="#111" stroke="#111" stroke-width="0.14" font-family='"Liberation Sans", sans-serif'>10<tspan dy="-1.5" font-size="2.2">4</tspan></text>
<text x="104.4" y="287.4" font-size="3.2" text-anchor="end" fill="#111" stroke="#111" stroke-width="0.14" font-family='"Liberation Sans", sans-serif'>10<tspan dy="-1.5" font-size="2.2">4</tspan></text>
<text x="94" y="320" font-size="2.1" text-anchor="middle" font-family='"Liberation Sans", sans-serif' fill="#222" transform="rotate(-90 94 320)">FL3-H::PI</text>
<text x="140" y="369" font-size="7.6" text-anchor="middle" font-weight="bold">OE-SLCO3A1</text>
<clipPath id="sc11"><rect x="289.2" y="283" width="60" height="68.1"/></clipPath>
<rect x="288.8" y="282.6" width="60.8" height="68.9" fill="#fff"/>
<g clip-path="url(#sc11)">
<path d="M310.2 335.2h0M297.6 330.9h0M307.9 335h0M305.3 324.9h0M309.3 327.4h0M315.6 328.9h0M303.5 324h0M304.6 324h0M310.8 321.6h0M311.5 336.2h0M300 339.8h0M301 335h0M305.7 336.5h0M304.1 323.7h0M311.5 323.3h0M298.3 337.6h0M313.2 328.9h0M310.9 332.2h0M309.2 333.9h0M301.1 333.7h0M311.6 329.3h0M309.9 331.7h0M313 326.3h0M308.8 325.8h0M297.4 328.1h0M303.2 323.8h0M302.5 342.1h0M307.7 321.7h0M313.8 332.8h0M305 339.4h0M318.8 327.3h0M298.2 335.2h0M311.3 332.7h0M299.5 335.5h0M305.8 339.2h0M306.4 335.1h0M312.9 330.4h0M312.8 326.2h0M300.2 336h0M310.8 326.6h0M319.8 314h0M310.1 329.5h0M309.4 335.1h0M311.4 327.5h0M305.3 340.8h0M309.6 326.8h0M296 344.4h0M301.3 336.5h0M302.2 331.5h0M311.2 326h0M308.7 322.3h0M310.2 335.1h0M301.4 334h0M308.6 333h0M309.7 332h0M310.5 326.9h0M314.2 326.1h0M301.6 337.8h0M306.6 334.9h0M307.5 335h0M305.8 336.6h0M308 315.6h0M311.6 326.1h0M314.7 328.1h0M308.1 340.2h0M302.7 336.2h0M306.6 339.7h0M312 333.1h0M295.4 332.2h0M296.5 341.6h0M302.7 338.3h0M296.7 335h0M311.9 329.4h0M304.4 326.2h0M310.3 340.8h0M298.5 328.7h0M313 322.2h0M303.1 338.8h0M304.9 324.1h0M309.3 337.1h0M310.2 329.2h0M310.3 325.6h0M310.5 336.2h0M307.7 341.7h0M312 335.6h0M306 326.2h0M312.3 322.7h0M303.2 335.2h0M299.5 342.8h0M305.3 337.1h0M311.5 331.7h0M314.2 323.2h0M301.8 333.7h0M307.1 325h0M298 339.9h0M312.2 333.2h0M301 332.3h0M311.5 326.6h0M301.1 338.2h0M309.9 333.8h0M310.4 326h0M303.5 328.8h0M301.7 330.4h0M308.9 322.3h0M316.8 325.4h0M310.2 321.1h0M304.9 324.5h0M300.6 329.1h0M313.7 328.7h0M299.5 333h0M299 339.4h0M306.6 326.1h0M304.6 326.4h0M301.1 334.7h0M308.5 325.3h0M308.6 326.3h0M296.2 331.8h0M301.8 331.1h0M311.5 327.5h0M302.7 341.2h0M299.9 321.4h0M303.2 336.8h0M298.1 337.2h0M310.2 330.2h0M310.4 341h0M315.1 333.4h0M310.7 327.7h0M312.4 323.9h0M296.2 338.7h0M298.8 332.3h0M298.8 329.9h0M312.5 325.8h0M300.9 336.8h0M301.9 330.2h0M308.9 335.5h0M295.9 339.7h0M309.5 336.3h0M313.1 327.3h0M315.1 329.9h0M300.8 330.1h0M302.9 339.8h0M309 332.8h0M314.7 326.6h0M304.8 326.6h0M310.7 325.2h0M305.6 339.5h0M301.9 328.5h0M294.4 335.2h0M303.7 326.2h0M303.1 327.8h0M297.5 338.5h0M301.3 333.2h0M313.4 323.1h0M306.5 336.1h0M308.6 335.6h0M303.4 341.4h0M299.8 334.8h0M303.7 327.6h0M298.6 338.3h0M300 328.8h0M307.4 324.4h0M309.4 333.4h0M297.8 341.8h0M310.2 327.4h0M302.4 329h0M303.4 328h0M303.4 340.9h0M301.7 328.8h0M301.6 330.5h0M301.1 329.1h0M303.1 342.2h0M318.2 327.1h0M318.8 323.2h0M300.7 334.5h0M308.8 324.7h0M303.5 325.9h0M301.5 344h0M306.5 325.5h0M314.3 323.1h0M312.5 332.4h0M296.1 343.9h0M314.4 329.3h0M302 334.2h0M295.5 329.8h0M300.7 331.7h0M312 324.9h0M298.3 328.4h0M291.5 331.5h0M312.7 329.4h0M298.5 339.2h0M301 329.8h0M313.7 326h0M307.5 335.5h0M297.8 331.7h0M310.2 335.6h0M308.9 335.1h0M304 325.9h0M312.7 322.6h0M300.9 334.6h0M309.5 333.4h0M302.7 330.9h0M315.8 328.3h0M305.6 338.2h0M296.3 332.3h0M311.7 331h0M306.8 325.4h0M301.8 329.9h0M296.6 328h0M306.8 338.8h0M306.6 341h0M300.8 325.7h0M306.8 324.3h0M298.6 335.9h0M309.8 337.4h0M311.5 331.8h0M310 341.8h0M301 339.2h0M312.7 328.5h0M310 330.8h0M303.1 325.1h0M302.7 328.9h0M313.8 329.7h0M302.3 326.8h0M312.1 335.8h0M320.6 323h0M305.9 341.6h0M304.6 322.7h0M313.1 316.8h0M313.7 325.4h0M306.7 325.6h0M308.3 335.8h0M311 327.4h0M296.6 333.3h0M316.3 327.1h0M313.1 327h0M294.8 331.1h0M302.7 336.8h0M304.7 336.3h0M308.7 336.8h0M315.1 329h0M306.1 340.3h0M299.2 334.1h0M306 337.6h0M303.8 337.8h0M314.2 333.7h0M309.9 321.2h0M305.8 326.4h0M301.6 337.4h0M311.1 332.4h0M306.2 325.8h0M303.7 336.4h0M309.4 331.5h0M304.6 319.3h0M305.5 335.4h0M307.1 340.3h0M295.2 333.4h0M308.3 333.4h0M312.3 327.4h0M303.1 336.2h0M312.7 332.6h0M313.8 317.3h0M306.9 336.8h0M303.2 338.7h0M303.7 340.6h0M303.8 335.7h0M307.6 324.3h0M312.2 336.6h0M301.3 338.3h0M299.7 341.7h0M302.3 329.3h0M305.5 339.8h0M305.3 325h0M306.7 324.9h0M304.4 336h0M308.6 324.3h0M302.3 341.1h0M306.1 322.9h0M308 335h0M308.7 325.8h0M301.9 337.4h0M310.2 317.4h0M303.4 329h0M307.2 319.8h0M311.1 327.7h0M302.1 334.6h0M311.6 334.8h0M310.9 332.5h0M310.7 326.1h0M316.5 326.1h0M308.1 324.7h0M307.5 334.3h0M301.6 328.8h0M301.9 339.5h0M310.8 328.6h0M307.6 319.8h0M299.8 340.2h0M307.1 324.8h0M301.9 331.5h0M308.2 326.8h0M299.3 333.3h0M301.8 334.5h0M315.6 322.2h0M315 333h0M293.8 336.3h0M312.8 326.9h0M299.8 330.4h0M298.6 333h0M301.7 333.8h0M305.2 336.1h0M302.9 336.6h0M296.2 347.6h0M309 345.5h0M299.7 336.1h0M296.2 342.8h0M302.1 335.7h0M311.1 332.5h0M302.3 328.6h0M305.1 316.6h0M298.4 336h0M312.5 325.9h0M308.8 322.9h0M297.2 331.7h0M304.2 336.9h0M311.2 336.2h0M300.9 330.8h0M301 324.1h0M301 339.6h0M309.4 333.5h0M302.2 331.7h0M303.5 339h0M306.3 325.2h0M299.3 331.9h0M300.8 332.4h0M307.7 322.1h0M298.2 332.8h0M301.1 336.1h0M296.4 333.3h0M304.9 336.3h0M297.8 329.4h0M299.6 336h0M308.5 319.2h0M318.3 320.1h0M312.2 327.7h0M295.3 344.9h0M309.3 325.3h0M302.9 336.9h0M293.3 347.5h0M309 326.8h0M316.8 327.2h0M296.2 339.1h0M298.6 336.2h0M311.2 331.1h0M300.5 335.5h0M307.3 335.7h0M314.9 324.1h0M310.5 334.7h0M316.1 326.7h0M313.8 323.2h0M296.4 340.8h0M315.1 323h0M313.1 329.4h0M310.1 322.7h0M311.5 324h0M303.2 345.4h0M310.7 332.8h0M303.7 338h0M310.4 340.6h0M311.7 323.4h0M296.7 343.4h0M305.4 337.1h0M300.4 332.5h0M322.1 325.2h0M307.7 326.2h0M306.5 325.6h0M295.8 331.7h0M301.5 332.5h0M311.2 326.8h0M302.2 333.8h0M309.4 334h0M300.5 339.3h0M308.8 332.6h0M303.2 329.7h0M312.5 329.8h0M306.2 337.6h0M314.5 317.1h0M300.9 321.7h0M304.2 327.8h0M310.6 332.4h0M312.6 328.6h0M303.1 335.3h0M304.8 339.4h0M308.9 338.4h0M311.2 325.2h0M301.7 337.6h0M299.3 342h0M311.7 335.5h0M317.7 316.4h0M308.6 326.9h0M301.8 334.4h0M297.4 343.9h0M294.5 343.5h0M311.4 335.7h0M304.8 327.8h0M296 338.7h0M309.7 330.2h0M293.3 337.6h0M298.1 332.7h0M304.9 326.4h0M304.9 340.4h0M295.9 335.3h0M310.3 325.6h0M301.8 333.9h0M307.4 336.1h0M300.7 328.7h0M301.7 339h0M295.3 335.1h0M297.6 331h0M312.3 335.2h0M313.3 322.3h0M311.6 324.7h0M309.9 332.2h0M299 336.3h0M305.7 341.1h0M304.4 338.5h0M296.3 333h0M306.2 338.1h0M305.6 336.7h0M300 334.4h0M300.8 324.9h0M299.6 334.7h0M299.5 339.3h0M306.5 326.3h0M300.5 342.2h0M312.2 325.6h0M314.8 326.6h0M316.8 321.4h0M307.9 336.4h0M301.3 334.3h0M313.8 327h0M306.7 336h0M302.2 322.3h0M307.8 334.3h0M303.4 327.8h0M307.1 326.1h0M309.8 328h0M307.7 324.1h0M312.2 321.4h0M313.2 329.8h0M304.3 337.6h0M304.4 324.7h0M312.3 333h0M300.3 331h0M297.4 342.1h0M305.3 324.4h0M310.4 336.1h0M309.7 322.3h0M299.7 341h0M304.2 337.7h0M299 333h0M302 335.7h0M301.7 328.9h0M311.1 332.5h0M300.8 340.8h0M294.4 328.9h0M302.8 327.9h0M302.3 331.5h0M291.8 343.2h0M311.1 329.1h0M302.5 339.9h0M312.4 331.7h0M318.5 325.4h0M313 326.6h0M302.2 328.3h0M308.4 334h0M307.3 325.3h0M294.3 340.4h0M299.5 340.6h0M296.8 336.2h0M308.8 332.5h0M310.9 333.1h0M304.2 336.4h0M318.3 317.7h0M317.3 328.4h0M301.7 331.6h0M313.7 328.7h0M308.9 333h0M309.1 335.8h0M305.8 325.3h0M308 324.7h0M296.1 339.8h0M312.1 332.7h0M312.3 328.4h0M304.1 327.6h0M302.6 336.2h0M301.6 331.4h0M296.2 332.6h0M310.2 321.2h0M295.9 328.9h0M304.6 327.5h0M307.5 342.2h0M313.2 325.1h0M313.1 330.8h0M309.3 327.1h0M304.3 338.7h0M301.3 328h0M314.1 332.2h0M311 327h0M313.9 324.4h0M302.5 336.9h0M298.8 332.6h0M314.2 325.3h0M306.7 338.7h0M303.4 329h0M304.8 336.7h0M312.3 327.8h0M297 327.3h0M302.7 338.1h0M297.9 333.5h0M294.6 332.5h0M304.9 319.2h0M302.8 338.1h0M311.4 330.7h0M302.2 335.7h0M310.7 320h0M305.1 327.6h0M296.5 337.5h0M304.5 338.2h0M315.9 332.2h0M300.8 334.9h0M306.1 327.3h0M301.5 335.7h0M307.5 324.9h0M310.9 321.1h0M312.5 328.2h0M307.2 321.7h0M309.8 325.1h0M312.9 329.4h0M305.6 327.6h0M302.8 328.2h0M303.3 346.2h0M295.2 329.5h0M301.6 325.4h0M312.3 333h0M314.3 326.7h0M301.7 330.9h0M293.6 339.3h0M302.4 331.1h0M311.4 321.9h0M307.7 335.2h0M306.4 336.3h0M305.5 326.7h0M308.2 326.5h0M306 335.3h0M314.4 329.8h0M305.4 321.5h0M313.8 323.8h0M314.8 337.6h0M317.3 329h0M308.3 335.8h0M297.8 338.3h0M306.1 339.7h0M303.6 325.7h0M311 326.9h0M318 335.7h0M302 342.5h0M312.7 331.8h0M311.5 328.3h0M295.2 342.2h0M305.9 336.4h0M302.6 330.8h0M301.4 333.5h0M314.8 330.6h0M305.5 326.9h0M306.2 336.2h0M316.9 326.8h0M302.6 336.6h0M304.4 328h0M301.9 334.9h0M303 329.1h0M304.7 340.1h0M306.8 322h0M300.9 331.2h0M301.2 343.7h0M306.6 335.9h0M300.6 330.9h0M307.4 326.3h0M304.6 324h0M316.6 328h0M296.7 329.6h0M297.2 340.5h0M296.5 340.4h0M302.3 335.6h0M304 335.7h0M308.5 337.5h0M304.4 337.7h0M301.7 330.8h0M295.6 339h0M309.8 328.9h0M305.5 324h0M301.7 341.9h0M311.1 322.8h0M308.9 326.3h0M295.5 332.2h0M312.3 330.4h0M307.5 336.2h0M306.8 325.6h0M311.8 328.8h0M302.1 333.6h0M304.7 328h0M301.7 337.9h0M315.2 321.6h0M302.1 332.7h0M309 321.9h0M300.3 334.4h0M312.3 326h0M297.6 339.8h0M298.1 333.5h0M301.5 331.5h0M310.5 323.9h0M302.3 339.4h0M303.9 335.8h0M293.5 335.4h0M295.8 337.4h0M303.2 344.6h0M309.6 322h0M316.6 324.5h0M300.7 335.2h0M304.5 325.7h0M305 325.5h0M316.4 330.8h0M310.4 332.8h0M302.2 336.3h0M315.3 326.6h0M299.6 336.2h0M310.3 330.4h0M301.6 328.4h0M305 336h0M307.7 325h0M311.8 332.8h0M298.5 333.3h0M308.8 334.4h0M301.1 338.7h0M297.7 341.9h0M308.4 337h0M304.2 324.4h0M318.2 329.2h0M301.9 333.6h0M309.2 344h0M313.5 328.4h0M301.5 332.7h0M304.6 322.6h0M299.8 324.3h0M302.2 340.3h0M301.1 333.5h0M305.4 322.5h0M315 325.4h0M314.7 318.9h0M296 338.3h0M300 338.2h0M310.4 329.1h0M302.1 327.3h0M307.3 322.7h0M307.5 334h0M318.8 332.2h0M298.7 340.7h0M300.4 327.2h0M310.5 328.3h0M304.7 338h0M300.8 335.3h0M309.5 316.4h0M299 345.4h0M318.7 335.1h0M319.3 320.2h0M298.6 336.5h0M312.2 337h0M305.9 335.2h0M303.8 341.1h0M319.7 314.9h0M302.7 329.1h0M304.9 329.3h0M307.5 342.8h0M309.3 331.7h0M310.7 328.2h0M307.4 329.1h0M307.7 323.4h0M303.3 336.3h0M302.6 324.8h0M300.9 331.6h0M313.1 334.7h0M304.4 338.9h0M315 320.1h0M307.4 323.3h0M302.3 345.3h0M316.1 334.5h0M305.5 328.3h0M321.2 328.9h0M311.6 321.3h0M313 329.8h0M304.2 333.6h0M318.5 321.6h0M309.7 326.8h0M309.9 327.6h0M311.9 330.2h0M305.1 336.1h0M305.4 334.9h0M299.8 340.4h0M308.5 334.5h0M300.8 327.9h0M295.9 320h0M308.8 338.7h0M302 334.4h0M304.6 337.9h0M307 337.7h0M305.4 323.1h0M313.2 313.7h0M310.1 333.9h0M295.6 343.9h0M315.4 327.4h0M306.6 333h0M310.7 315.8h0M311 340.1h0M311.5 330.3h0M303.1 331.6h0M307.1 342.9h0M303.6 325h0M309.8 323.5h0M309 317.5h0M303.8 333.7h0M301.6 343h0M312 323h0M295.1 333.1h0M311.2 325h0M305.8 334.4h0M303.9 322.5h0M312.7 321.7h0M307.9 329.4h0M314.4 331.7h0M301.4 336.9h0M300.4 336.5h0M307.1 330h0M308.4 328.2h0M316.9 320.5h0M318.2 318.1h0M307.5 338.8h0M312.3 318.7h0M306.8 327h0M306 337.3h0M314.3 331.6h0M308.5 336.4h0M316.1 321.8h0M308.2 335h0M309.5 319.3h0M318.1 334.4h0M308.3 327.9h0M311.7 327.8h0M313.4 317.4h0M299.8 337.9h0M314.8 320.7h0M313.3 325.5h0M314.7 333.6h0M313.5 335.5h0M320 320h0M313 328.1h0M308.4 329.1h0M318.2 324.7h0M309 329.3h0M318 326.7h0M312.9 338.5h0M310 334.3h0M307.5 330h0M310.2 325h0M300.4 325.2h0M308.5 321h0M316 325.6h0M318.1 329.8h0M312.5 325.5h0M301.1 329.3h0M309.2 318.3h0M309.9 321.1h0M304.1 344.8h0M310.9 329.2h0M315.7 338.4h0M307.8 335.8h0M319.1 329.1h0M311.6 331.6h0M300.7 328h0M313.4 337.8h0M302.2 330.7h0M313.8 318.3h0M310.7 328.4h0M301.9 328h0M322.6 322.5h0M312.8 328.1h0M312.8 336h0M295.8 329.3h0M310 330.7h0M312.6 329.8h0M308.9 323h0M305.6 338.8h0M310 326.1h0M308.1 334.7h0M318.7 335.1h0M315.3 326.2h0M311.8 313.5h0M303.4 329.1h0M300.8 340.5h0M321.3 313.9h0M292.7 338h0M305.5 338.5h0M309.5 316.2h0M307.2 322h0M316.9 322.8h0M305.1 325.5h0M296.5 337h0M313.4 334h0M311.8 310.8h0M309.4 328.4h0M298.6 334.4h0M307.5 317h0M303.7 337.4h0M321.9 321.8h0M301.1 323.7h0M308.7 335h0M309.9 339h0M309.2 329.8h0M305.7 336.9h0M301.1 335.9h0M312 325.7h0M317.3 307.6h0M301.5 331.1h0M311.6 345h0M297.8 345.7h0M305.6 331.1h0M304 336.6h0M307.9 333.5h0M305.7 336.2h0M316 335.4h0M310.6 335.7h0M312.8 328.2h0M310.4 327.3h0M305 331.8h0M297.8 339.7h0M298.5 336.4h0M294.5 345.6h0M305.9 335.9h0M313.6 340.5h0M300.8 327h0M299.9 331.1h0M314.8 339.3h0M309 320.2h0M317 317h0M323.6 326h0M296.9 329.6h0M307.9 331.4h0M310.9 337.7h0M310.9 329h0M312.5 323.1h0M304.5 330.7h0M318.5 331.4h0M314.5 333h0M305.4 336.5h0M307.4 311.7h0M302.8 333.2h0M320.6 320.7h0M317.4 309.1h0M319.9 320.7h0M314.7 328.1h0M303.8 322.8h0M315.5 308.1h0M310.8 304.7h0M317.8 302.2h0M314.5 305.3h0M311 304.1h0M308.5 303.6h0M308.9 305.7h0M318 302.4h0M309.1 307.3h0M317.1 304.2h0M313.9 301.8h0M318.2 306.3h0M318.6 308.8h0M315.4 301.4h0M314.4 304.7h0M314.1 299h0M313.3 307.6h0M318.5 305.6h0M318.1 304.6h0M308.7 305.2h0M310.7 298.3h0M309.8 300.7h0M317 306h0M308.1 299.7h0M313 310.3h0M306.7 304h0M311.9 307h0M315.7 301.8h0M310.5 302.6h0M314.4 302.6h0M319.9 305.9h0M312.5 304.5h0M320.2 302.3h0M310.8 304.8h0M312.5 300.4h0M315.4 301.9h0M314.3 298.3h0M312.1 302.6h0M315.3 306.3h0M305.8 304.5h0M317.2 306.7h0M315 302.7h0M308.9 307.6h0M313.3 305.2h0M313.1 305.8h0M316.4 303.4h0M314.5 303.8h0M311 308.6h0M316.1 306.5h0M313 305.3h0M310.6 311.8h0M312.4 305.5h0M312 303.1h0M307.6 307.3h0M314.3 306h0M311.4 307.7h0M310.2 305.6h0M317.2 301.4h0M313.9 300.7h0M311.3 307.6h0M310.8 306.5h0M313.3 302.7h0M312.3 306h0M314.7 307.4h0M315 303.4h0M310.7 303h0M314.3 304.9h0M311.8 308.8h0M314.9 305.8h0M314.5 307.6h0M318.7 306h0M308.2 307.9h0M315 298.3h0M319.2 307.2h0M310.2 306.3h0M313.5 304.5h0M312.1 309.7h0M319.1 304.6h0M313.1 305h0M316.1 305.5h0M309 300.8h0M313.4 304.3h0M310.3 303.4h0M310.9 306.2h0M315.3 301.5h0M315.4 304.3h0M312.6 306.3h0M314 306.5h0M311.6 303.4h0M314.4 301.3h0M315.6 306.7h0M315.4 300.8h0M321.4 304.8h0M307 308.8h0M309.2 303.3h0M312.9 306.5h0M313 302.4h0M309.4 306.7h0M314.7 304h0M313.7 299.3h0M314.8 305.6h0M319 299.9h0M308.9 302.5h0M317.2 305.1h0M315.1 304.3h0M312.2 305.9h0M313.3 305.2h0M314 303.3h0M315.5 304.2h0M310.6 305.4h0M313 306.1h0M323.3 304.2h0M312 304.2h0M316 304.3h0M310.9 303.7h0M324.4 302.9h0M330.1 300.8h0M330.5 300h0M333.4 302.2h0M322.4 301.6h0M334.1 294.8h0M319.8 301.1h0M300.6 305.4h0M320.5 300.4h0M331.6 305.3h0M313.2 302.1h0M312.6 300.8h0M316.2 299.6h0M330.4 299.7h0M314.6 305.3h0M309.6 307.8h0M328.9 302.3h0M333.6 297.8h0M331 299.6h0M326.8 299h0M322 305.9h0M323.9 298.3h0M318.2 298.3h0M323.9 299.8h0M337.1 300.2h0M327.5 297.5h0M321.5 300.2h0M319.2 302.3h0M326.3 302.9h0M324.3 299.5h0M321.2 299.2h0M315.2 299h0M320.5 301.1h0M310.1 305.3h0M328.4 303.5h0M326.8 298h0M328.5 300.7h0M318.1 298.1h0M318.7 300.2h0M315.4 304.8h0M318.1 299h0M322 301.3h0M326.6 302.8h0M320.8 302.4h0M328.5 297.9h0M324.2 302.5h0M328.4 298.4h0M330.5 299.4h0M316.3 299.3h0M325.4 303.1h0M319.7 302.8h0M326.7 301h0M330.5 302.7h0M317.1 304.7h0M337.3 299.3h0M318.4 303.9h0M322.3 296.4h0M329.7 299.4h0M311 303.3h0M327.5 303.9h0M328.8 297.6h0M325.4 302.5h0M318.9 299h0M322.8 298.9h0M320.1 303.8h0M316.9 299.3h0M322.4 297.2h0M323.4 299.5h0M314.8 302.1h0M311.3 305.3h0M319.2 299.2h0M317.5 300.5h0M327.1 299.7h0M324.6 301h0M325.5 301.8h0M332 299.8h0M327.8 305.1h0M318.2 300.9h0M309.3 305.9h0M332 298.3h0M330.3 296.5h0M338.7 293.5h0M318.1 300.8h0M320.6 302.7h0M320.8 296.5h0M322.6 298.1h0M317.9 304h0M320.3 300.1h0M330.4 294h0M326.8 301.9h0M310.8 303.9h0M328.2 296.7h0M322 306.2h0M323.6 299.5h0M331.4 297.9h0M318 299.3h0M304 305.1h0M322.1 297.5h0M329.8 304.9h0M333.8 293.7h0M330.3 302.6h0M331.3 299.1h0M331.2 297.3h0M318.2 298.4h0M308.6 303.2h0M311.6 298.6h0M323.3 301.7h0M324.2 299.7h0M326.6 302.6h0M323.2 299.6h0M321.3 304.2h0M329.2 298.5h0M327.1 302.4h0M324 302.7h0M328.4 298.9h0M324.1 300.4h0M319 301.3h0M324.2 296.2h0M307.9 301.2h0M316.4 301h0M314.8 298.4h0M324.7 294.4h0M325.1 301.3h0M321.9 301.3h0M310.4 303.2h0M322.8 299.7h0M313.5 315.2h0M313.1 315.1h0M310.5 322.6h0M311 318.6h0M313.8 322.8h0M310.7 313.8h0M313.5 318h0M312.2 335.7h0M310.8 313.6h0M311.9 316.9h0M312.7 318.2h0M308 324.3h0M308.6 314.9h0M312.5 309.9h0M315.2 321.3h0M315.1 320.5h0M308 320.6h0M307.9 315.8h0M312.4 323.3h0M311.1 319.4h0M307.8 308.8h0M311.8 314h0M307.7 311.5h0M309.6 316.6h0M310.6 316.9h0M307.9 314.2h0M312.9 327h0M314.7 313.2h0M313.4 319.7h0M309.4 318h0M307.5 305h0M312.2 327.6h0M309.6 310.7h0M315.6 315.3h0M308.4 328.4h0M309.2 321.2h0M312.5 304.7h0M316.4 314.4h0M310.4 321.6h0M314.4 325.1h0M308.2 316.9h0M308.9 316.8h0M309.3 311.5h0M314.9 313.3h0M308.6 313.4h0M311.3 323.7h0M311.1 320.1h0M309.5 330.1h0M310.4 323h0M312.4 321.1h0M310.3 316.3h0M315.4 322.8h0M308 315.6h0M310.3 322.5h0M311.8 320.5h0M309.6 313.9h0M307.3 332.3h0M311.3 321.4h0M312.4 306.8h0M311.9 320.5h0M311.7 319.1h0M311.2 325.5h0M313.5 306.3h0M331.4 309.8h0M319.7 314.2h0M330.6 303.6h0M319.3 307.9h0M325.8 307.1h0M319.1 303.6h0M327.6 309.6h0M330.8 317.9h0M322.5 307.9h0M330 307h0M338.6 311.8h0M330.6 308.4h0M328.1 299.8h0M341.8 308h0M331.2 310.5h0M325.9 311.8h0M335 308.8h0M326 312.3h0M335.4 314.6h0M326 305.6h0M325.8 313.6h0M329.4 315.7h0M316.5 310.9h0M330.5 307.8h0M328.4 314h0M322.3 304.9h0M319.9 306.3h0M323.3 309.1h0M317 307.8h0M335.8 310.4h0M329.8 308.6h0M325.4 315.8h0M335.9 306.9h0M318.9 309.8h0M317.1 307.9h0M333.5 317h0M327.9 305.5h0M321.7 295.2h0M320.8 303.5h0M324.6 305.4h0M325 312.2h0M314.9 309h0M318.1 327.7h0M309 332.1h0M316 336.4h0M330.2 323.5h0M323.7 328.6h0M327.3 326.9h0M310 329.6h0M326.3 323.2h0M306 341.3h0M314.3 331.2h0M319.9 335.3h0M312 323.5h0M327.8 334.8h0M327 325h0M322.8 332.2h0M322.1 331.5h0M310.2 325.3h0M327.6 331.6h0M329.4 323.8h0M341 324.3h0M312.2 325.8h0M325.7 328.3h0M324.8 330.5h0M325.6 338.4h0M311.5 339.1h0M310.2 331.3h0M334.5 341h0M325.2 322.3h0M325.6 336.8h0M312.8 331h0M306.8 332.1h0M329.6 337.2h0M310.6 321.5h0M322.4 330.7h0M317.3 330.3h0M338 326h0M309.7 320h0M325.9 319.3h0M332.8 333.6h0M314.9 334.4h0M314.5 327.2h0M312.7 329.6h0M324.2 323.3h0M314.8 335.6h0M314.1 333.5h0M324.7 331.1h0M328.1 339.3h0M321.6 326h0M320.7 330.5h0M339.3 314.3h0M315.9 339.3h0M317.7 336.9h0M332.6 321h0M318.9 326.2h0M322.2 331.8h0M326 329.2h0M316.4 334.5h0M317.1 329.3h0M335.8 332.5h0M326.6 328.7h0M309.8 323.9h0M322.8 324.2h0M320.6 322.7h0M325.4 322h0M335.2 331.7h0M316.7 323.6h0M320 335.1h0M330.1 331.3h0M328.3 328.8h0M334.2 328h0M326.2 336.4h0M318.4 323.6h0M315.8 324.4h0M314.2 332.8h0M319.4 336.1h0M300.9 336.6h0M331.5 322.2h0M325.3 333.8h0M320.3 326.2h0M321.3 315.9h0M321.8 326.3h0M326 329.6h0M326.5 316.5h0M316.2 332.3h0M329.8 320.9h0M326.9 325.4h0M314.5 325.3h0M311.9 333.6h0M309.8 337.1h0M311.9 335.5h0M329.5 319.3h0M326.4 337.4h0M314.8 338.1h0M333.8 312.1h0M328.5 325.7h0M319.7 335.6h0M311.9 315.5h0M317 327.5h0M324.8 324.8h0M322.6 328.6h0M322.3 324.5h0M319.5 326.1h0M316.1 329h0M325 335.5h0M325.4 329.2h0M321.4 335.2h0M326.5 330.5h0M323.3 333.6h0M323.1 326.6h0M330.2 330.3h0" fill="none" stroke="#4040dc" stroke-opacity="0.5" stroke-width="0.5" stroke-linecap="square"/>
<ellipse cx="306" cy="331.2" rx="10.45" ry="6.08" fill="#3540e0" fill-opacity="0.42" filter="url(#b2)" transform="rotate(-52 306 331.2)"/>
<ellipse cx="306" cy="331.2" rx="8.17" ry="4.75" fill="#3048e4" fill-opacity="0.6" filter="url(#b1)" transform="rotate(-52 306 331.2)"/>
<ellipse cx="306" cy="331.2" rx="6.46" ry="3.7" fill="#2c7ee8" fill-opacity="0.85" filter="url(#b1)" transform="rotate(-52 306 331.2)"/>
<ellipse cx="306" cy="331.2" rx="5.32" ry="3.04" fill="#25c2d6" fill-opacity="0.95" filter="url(#b0)" transform="rotate(-52 306 331.2)"/>
<ellipse cx="306" cy="331.2" rx="4.37" ry="2.47" fill="#35d04a" fill-opacity="1" filter="url(#b0)" transform="rotate(-52 306 331.2)"/>
<ellipse cx="306" cy="331.2" rx="2.75" ry="1.57" fill="#d8e028" fill-opacity="1" filter="url(#b0)" transform="rotate(-52 306 331.2)"/>
<ellipse cx="306" cy="331.2" rx="1.42" ry="0.85" fill="#f0541a" fill-opacity="1" filter="url(#b0)" transform="rotate(-52 306 331.2)"/>
</g>
<line x1="312.3" y1="282.6" x2="312.3" y2="351.5" stroke="#555" stroke-width="0.5"/>
<line x1="288.8" y1="321.7" x2="349.6" y2="321.7" stroke="#555" stroke-width="0.5"/>
<rect x="288.8" y="282.6" width="60.8" height="68.9" fill="none" stroke="#222" stroke-width="0.6"/>
<text x="290.2" y="285.6" font-size="2.3" font-family='"Liberation Sans", sans-serif' fill="#444">Q1</text>
<text x="290.2" y="290.2" font-size="2.3" font-family='"Liberation Sans", sans-serif' fill="#444">2.87%</text>
<text x="348.2" y="285.6" font-size="2.3" text-anchor="end" font-family='"Liberation Sans", sans-serif' fill="#444" dx="-2.5">Q2</text>
<text x="348.2" y="290.2" font-size="2.3" text-anchor="end" font-family='"Liberation Sans", sans-serif' fill="#444">5.24%</text>
<text x="290.2" y="345.3" font-size="2.3" font-family='"Liberation Sans", sans-serif' fill="#444">Q4</text>
<text x="290.2" y="350.1" font-size="2.3" font-family='"Liberation Sans", sans-serif' fill="#444">86.1%</text>
<text x="348.2" y="345.3" font-size="2.3" text-anchor="end" font-family='"Liberation Sans", sans-serif' fill="#444" dx="-2.5">Q3</text>
<text x="348.2" y="350.1" font-size="2.3" text-anchor="end" font-family='"Liberation Sans", sans-serif' fill="#444">6.02%</text>
<line x1="292" y1="351.5" x2="292" y2="352.5" stroke="#222" stroke-width="0.45"/>
<line x1="287.8" y1="350.1" x2="288.8" y2="350.1" stroke="#222" stroke-width="0.45"/>
<text x="292" y="358.1" font-size="3.2" text-anchor="middle" fill="#111" stroke="#111" stroke-width="0.14" font-family='"Liberation Sans", sans-serif'>10<tspan dy="-1.5" font-size="2.2">0</tspan></text>
<text x="287" y="351.5" font-size="3.2" text-anchor="end" fill="#111" stroke="#111" stroke-width="0.14" font-family='"Liberation Sans", sans-serif'>10<tspan dy="-1.5" font-size="2.2">0</tspan></text>
<line x1="306.05" y1="351.5" x2="306.05" y2="352.5" stroke="#222" stroke-width="0.45"/>
<line x1="287.8" y1="334.03" x2="288.8" y2="334.03" stroke="#222" stroke-width="0.45"/>
<text x="306.05" y="358.1" font-size="3.2" text-anchor="middle" fill="#111" stroke="#111" stroke-width="0.14" font-family='"Liberation Sans", sans-serif'>10<tspan dy="-1.5" font-size="2.2">1</tspan></text>
<text x="287" y="335.43" font-size="3.2" text-anchor="end" fill="#111" stroke="#111" stroke-width="0.14" font-family='"Liberation Sans", sans-serif'>10<tspan dy="-1.5" font-size="2.2">1</tspan></text>
<line x1="320.1" y1="351.5" x2="320.1" y2="352.5" stroke="#222" stroke-width="0.45"/>
<line x1="287.8" y1="317.95" x2="288.8" y2="317.95" stroke="#222" stroke-width="0.45"/>
<text x="320.1" y="358.1" font-size="3.2" text-anchor="middle" fill="#111" stroke="#111" stroke-width="0.14" font-family='"Liberation Sans", sans-serif'>10<tspan dy="-1.5" font-size="2.2">2</tspan></text>
<text x="287" y="319.35" font-size="3.2" text-anchor="end" fill="#111" stroke="#111" stroke-width="0.14" font-family='"Liberation Sans", sans-serif'>10<tspan dy="-1.5" font-size="2.2">2</tspan></text>
<line x1="334.15" y1="351.5" x2="334.15" y2="352.5" stroke="#222" stroke-width="0.45"/>
<line x1="287.8" y1="301.88" x2="288.8" y2="301.88" stroke="#222" stroke-width="0.45"/>
<text x="334.15" y="358.1" font-size="3.2" text-anchor="middle" fill="#111" stroke="#111" stroke-width="0.14" font-family='"Liberation Sans", sans-serif'>10<tspan dy="-1.5" font-size="2.2">3</tspan></text>
<text x="287" y="303.28" font-size="3.2" text-anchor="end" fill="#111" stroke="#111" stroke-width="0.14" font-family='"Liberation Sans", sans-serif'>10<tspan dy="-1.5" font-size="2.2">3</tspan></text>
<line x1="348.2" y1="351.5" x2="348.2" y2="352.5" stroke="#222" stroke-width="0.45"/>
<line x1="287.8" y1="285.8" x2="288.8" y2="285.8" stroke="#222" stroke-width="0.45"/>
<text x="348.2" y="358.1" font-size="3.2" text-anchor="middle" fill="#111" stroke="#111" stroke-width="0.14" font-family='"Liberation Sans", sans-serif'>10<tspan dy="-1.5" font-size="2.2">4</tspan></text>
<text x="287" y="287.2" font-size="3.2" text-anchor="end" fill="#111" stroke="#111" stroke-width="0.14" font-family='"Liberation Sans", sans-serif'>10<tspan dy="-1.5" font-size="2.2">4</tspan></text>
<text x="276.6" y="320.05" font-size="2.1" text-anchor="middle" font-family='"Liberation Sans", sans-serif' fill="#222" transform="rotate(-90 276.6 320.05)">FL3-H::PI</text>
<text x="321.6" y="369" font-size="7.6" text-anchor="middle" font-weight="bold">KD-NC</text>
<clipPath id="sc12"><rect x="368.8" y="283.3" width="59.6" height="67.9"/></clipPath>
<rect x="368.4" y="282.9" width="60.4" height="68.7" fill="#fff"/>
<g clip-path="url(#sc12)">
<path d="M400.8 329h0M379.3 331.9h0M386.9 327.7h0M393.3 338.4h0M387.6 341.3h0M394.2 326.3h0M396.3 337.8h0M383.3 336.6h0M399.1 332.1h0M396.9 330.6h0M396.6 326.5h0M397.1 326.4h0M380.1 335h0M383.5 334.8h0M393.8 325h0M396.6 333.1h0M398.6 335.4h0M384.6 339.2h0M385.6 335.8h0M386.6 336.9h0M394.9 318.8h0M386.4 329.4h0M400.3 325h0M395.9 325.9h0M390.9 338.4h0M394.7 327.3h0M385.5 332.7h0M394.4 334.9h0M396.7 328.3h0M398.2 325h0M395.8 341h0M393 327.3h0M395.7 335.8h0M394.3 327h0M389.5 328.3h0M384 335.8h0M398.2 322.4h0M381.7 340.2h0M390.5 336.9h0M397.2 325h0M390 328.3h0M395.9 323.9h0M398.5 338.7h0M387.7 336.3h0M398.3 334h0M386.8 338.4h0M388.6 341.3h0M394.3 334.8h0M384 332h0M389.8 343.9h0M385.2 331.6h0M397.7 328h0M394.4 335.6h0M398.9 320.6h0M400.6 326.9h0M396.3 324.7h0M403.5 327.5h0M382.4 347.2h0M394.9 321.3h0M390.7 328h0M397.2 330.9h0M384.8 341h0M385.6 337.4h0M395 343.1h0M396.1 336.2h0M403.1 320.5h0M396.8 320.6h0M389.2 337.7h0M390.4 343.8h0M399.4 322h0M381 327h0M381.3 339.4h0M383.6 343.3h0M398.1 328.5h0M381.4 336.3h0M386.9 340h0M396.5 326.2h0M393.1 325.5h0M389.2 338.3h0M403.6 327.1h0M384.4 330.6h0M382.6 332h0M387.6 327.5h0M389.4 340h0M389.1 339.1h0M384.1 340.1h0M391 337.7h0M391.8 327.3h0M398.7 332.6h0M402.7 330h0M396.1 339.8h0M383.5 337.9h0M384.9 338.5h0M388.2 345.4h0M400.5 332.8h0M398.4 326.7h0M379.1 336.6h0M392.6 336.3h0M385.4 338.5h0M391.1 336.5h0M392.9 324.9h0M390.2 341.3h0M397.3 326.6h0M396.4 327.9h0M399.4 334.2h0M402.9 328.8h0M395.3 334h0M389.7 327.5h0M388.2 325.3h0M402.7 326.7h0M382.3 337.9h0M389.7 338.4h0M402.9 329.9h0M381.2 333.5h0M401.5 327.4h0M399.3 328.8h0M399.1 337.1h0M398.3 329.7h0M387.3 336.7h0M400.5 327.1h0M396.1 326.8h0M394.1 326.5h0M394 335.7h0M399.8 322.7h0M397.5 328.6h0M382.5 339.3h0M399.2 319.3h0M396.4 326.1h0M390.9 341.2h0M377.5 339.5h0M381.6 327.8h0M404.4 331.4h0M383 337.3h0M396.1 335.7h0M400.5 324.3h0M387.4 331.5h0M395 324.4h0M401.4 337.3h0M398.1 336.2h0M392.5 326.2h0M379.3 342.7h0M403.8 324.4h0M385.2 340h0M376.6 333.1h0M400.3 318.7h0M380.3 341.6h0M395.9 327.1h0M389.1 336.2h0M392.1 337.6h0M396.4 325.9h0M382.7 344.4h0M389.8 337.1h0M388.4 330.2h0M384.9 337.4h0M388.1 325.7h0M380.1 343.8h0M401 318.8h0M387.5 329.4h0M389.6 342.2h0M384.1 340h0M389.8 336.9h0M400.6 324.7h0M393.5 336.5h0M385.1 327.1h0M397.5 323.6h0M399.5 337.6h0M397.8 328.2h0M398.2 320.9h0M380 335.8h0M394.6 341.6h0M396.8 328.3h0M412.1 323.3h0M386.1 343.1h0M391.5 338.2h0M390.5 325.4h0M398 329.4h0M385.2 327h0M389.9 328.4h0M399 339.6h0M390.6 319.1h0M385.6 343.1h0M383.4 330.3h0M382.4 339.3h0M387.7 335.3h0M387.4 331h0M400.2 333.1h0M387 335.1h0M399.5 318.5h0M387.6 338.6h0M396.6 327.2h0M397.7 325.8h0M401.6 327.1h0M400.1 323.4h0M386.1 333.3h0M390.9 325.9h0M388.4 342.4h0M394 340.5h0M386.5 328.6h0M383.5 334.6h0M400.4 313.2h0M377 339.7h0M398.6 338.4h0M394.6 323.7h0M403.8 328.3h0M390.2 336.6h0M398.5 329.6h0M384.7 340.4h0M393.3 334.9h0M393.4 337h0M398.9 330.5h0M391.3 324.3h0M394.8 335.4h0M398.4 329.2h0M379.7 332.3h0M393.4 335h0M394.8 336.7h0M396.8 333.3h0M386.1 330.4h0M393.7 335.6h0M385.2 335.6h0M397.8 330h0M396.8 332.1h0M399 326.5h0M389.9 322.5h0M390.8 327.5h0M387.4 329.3h0M388.7 328.7h0M396.6 325.7h0M389.1 337.1h0M385.2 331.1h0M396.4 340.5h0M398.3 327.4h0M400.8 336.8h0M400.6 325h0M380.6 336.6h0M386.2 329.7h0M387.7 336.1h0M397.4 324.8h0M387.1 330h0M397.6 335.5h0M396.6 333.5h0M390.1 337.9h0M397.1 321.9h0M388.8 336.2h0M394.8 334.2h0M376.9 342.1h0M388.7 338.8h0M391.5 324.4h0M376.4 349.3h0M380.2 343.5h0M388 338.5h0M388.5 330.1h0M398.8 321.9h0M397.4 326.3h0M389.1 321.8h0M380.5 334.9h0M387.7 341.3h0M398.3 326.3h0M388.6 328.5h0M407.3 326.5h0M391.3 327.8h0M382.8 333.8h0M385.5 333.7h0M391.6 326.6h0M401 331.2h0M407 323.7h0M403.6 315.2h0M396.1 335h0M404 326h0M395.8 332.2h0M390.9 320.2h0M393.9 335.9h0M390.7 326.4h0M392.8 342.1h0M391.7 327.1h0M395.9 333.5h0M382.8 339.5h0M396.5 325.1h0M395.5 333h0M394.4 335.5h0M392.2 338.4h0M397.7 334.7h0M396.8 322.3h0M398.5 328.7h0M385.7 338.5h0M376.2 347.5h0M386.3 331.3h0M387.2 338.4h0M395.6 336.3h0M381.2 335.1h0M391.5 327.4h0M397.8 325h0M397.1 333.3h0M385 335.9h0M389.1 339h0M381.6 338.2h0M391.3 337.3h0M400.6 324.3h0M403.6 325h0M384.7 337.2h0M389.1 338.6h0M387 334.9h0M385.7 336.9h0M398.6 324.3h0M399.8 325.4h0M389.1 343.1h0M390.3 326.9h0M393.2 325.1h0M400.1 331.2h0M393.7 323.5h0M393.3 336.5h0M406.9 323.9h0M387.5 329.1h0M384.6 330.1h0M385.5 337.6h0M383.3 335.2h0M384.1 322.1h0M385.4 326.9h0M388.3 329.3h0M385.3 334.4h0M392.9 337.5h0M399.7 320.4h0M388.3 326.7h0M389.5 328.8h0M399.4 326.8h0M396 333.9h0M385.7 321.5h0M404.4 329.4h0M395.8 334.7h0M390.2 324.9h0M387.9 343.3h0M401 332.6h0M401.2 322.2h0M397.5 330.2h0M397.2 329.8h0M383.6 341.6h0M387.5 331.4h0M386.9 337.1h0M380 329.1h0M393.5 335.1h0M398.9 327.1h0M387.2 330.6h0M406.2 327h0M395.2 322.4h0M384.1 338.4h0M394.8 333.3h0M388.9 338.2h0M393.8 335h0M389.8 323.7h0M395.3 335.7h0M399.9 329.2h0M392.5 324.5h0M395.3 327.5h0M400.9 331.4h0M379.5 346.3h0M394 334.9h0M395.7 315.6h0M385 337.1h0M383.6 338.7h0M398.2 319.1h0M385.3 334.9h0M393.1 323.7h0M386 326.7h0M391.1 345.2h0M389.5 328.5h0M387.7 328.1h0M395.9 327.5h0M391.2 336.5h0M387.7 337.7h0M396.6 333h0M399.9 326.9h0M392 327.1h0M381.2 345.7h0M392.2 323.9h0M376.5 338.5h0M385.4 338.7h0M393.6 326.4h0M386.8 339.7h0M385.8 328.5h0M389.6 336.1h0M388.3 325.8h0M398.9 328.2h0M397.4 320.4h0M388.7 328.5h0M394.7 320.4h0M392.8 337.2h0M402.8 316.7h0M401.5 334.9h0M391.8 340.8h0M396.5 327.3h0M400.4 326.2h0M382.5 339.6h0M387 338.5h0M402.5 333.5h0M398.1 326.7h0M395.8 325h0M393.3 324.1h0M381.8 336.3h0M376.8 329h0M396.3 332.9h0M385.6 330.5h0M396.3 336h0M387.3 327.3h0M390.2 323.5h0M396.2 327.7h0M388.3 329.3h0M380.5 346.1h0M389.8 339.8h0M394.4 321.8h0M392 336.9h0M389.2 327h0M383.7 345h0M395.9 336.7h0M390.5 339h0M386.3 324.7h0M390.7 326.3h0M382.9 335.5h0M385.7 324.3h0M397.9 324.1h0M396.7 329.9h0M396.5 331.1h0M400.5 330.8h0M397.6 331.4h0M397.6 328.3h0M394.9 335.8h0M389.8 344.3h0M392.8 339.7h0M386.4 327.8h0M386.4 336.8h0M400.3 326.6h0M386.5 332.1h0M381.8 335h0M389.1 328.6h0M394.8 336.9h0M398.7 329.8h0M402.3 325h0M388.6 320.3h0M402.8 328.6h0M384.4 335.4h0M396.3 332.4h0M402 327.5h0M391.3 337.3h0M393.3 335.3h0M385 340h0M388.2 336h0M391 323h0M400.1 329.6h0M415.3 320.8h0M398.8 329.5h0M384.8 328.9h0M385.2 327.7h0M396.3 335h0M394.5 334.5h0M395.9 332.6h0M387.4 342.1h0M383.6 333h0M397.4 331.8h0M398.3 335.5h0M386 331.6h0M382.2 338.2h0M386.2 331.7h0M385.6 335.1h0M381.7 333h0M386.5 322.5h0M405.8 328.1h0M389.9 338h0M387.3 337.6h0M384.9 330.8h0M396.5 333.7h0M392.6 325.8h0M388.3 336h0M389 337.1h0M398 333.1h0M401.6 323.8h0M388.4 337h0M394 322.5h0M395.9 335.9h0M393.7 335.2h0M398.8 329.3h0M381.2 329.4h0M393.4 322.6h0M390.7 327.1h0M393.3 341.3h0M399.3 323.6h0M396.5 332.1h0M394.9 325.9h0M386.1 336.3h0M386.5 335.1h0M394.1 335.9h0M401.9 330.1h0M393.8 327h0M388.2 326.5h0M393.6 319.9h0M388.7 338.3h0M396.7 329.1h0M401.1 328.7h0M394.2 337.1h0M387.7 330.2h0M385.3 338.8h0M383.6 336.4h0M381.1 338.1h0M393.3 325.2h0M401.8 333.5h0M391.9 336.4h0M399.3 329.9h0M383 335.1h0M388 338.1h0M398.7 324h0M401.9 328.4h0M382.8 342.6h0M397.9 331.1h0M400.1 322.7h0M392.4 320.4h0M393.6 323.6h0M401.3 326.3h0M404.5 330h0M389.6 319.9h0M400.6 338.7h0M385.5 333.3h0M386.2 336.9h0M391.5 326.7h0M397.7 333.4h0M386.1 325.4h0M379.9 338.7h0M395.4 323.6h0M389.7 327.4h0M397.8 330.3h0M395.9 333.6h0M405.4 315.2h0M401.4 332.3h0M393.1 336h0M394.7 323.3h0M386.3 340.2h0M384.9 331.6h0M394.5 337.1h0M385.6 333.9h0M398.4 329.1h0M383.4 336.3h0M387.3 332.5h0M383.1 335.4h0M394.1 339.9h0M408.2 331.1h0M406.7 313h0M397.3 327.1h0M401.2 328.1h0M382.4 335.5h0M393.9 318.6h0M387.2 332.8h0M396.8 324.9h0M395.4 323.9h0M397.8 325.5h0M394 341.5h0M396.2 331h0M385.2 334.8h0M396.4 330.9h0M393.4 324h0M400.3 321.9h0M382.5 345.6h0M387.6 336.1h0M396.6 323.7h0M394.8 320.2h0M385.2 331h0M397.9 335.6h0M391.1 326.5h0M396.3 328.3h0M383.3 334.7h0M387.6 331.6h0M394.1 338.5h0M388.2 337.7h0M381.8 331.3h0M395.8 327h0M394 337h0M387.9 336.1h0M381.5 331.9h0M392.5 336.3h0M377.6 338.7h0M389.3 336h0M389 338.7h0M389.5 336.3h0M399 336.2h0M401.4 332.9h0M386.8 334.4h0M390.5 328.4h0M381.6 339.8h0M386 333.8h0M382.6 329.6h0M386 336.5h0M389.5 326.3h0M389.7 321.1h0M397.3 325.6h0M384.6 336.5h0M396.9 315.5h0M400.7 330.2h0M404.6 326.8h0M396.8 325.9h0M387 336.1h0M386.8 334.5h0M398.7 331.6h0M390.2 323.5h0M389.2 324.2h0M393.6 324.8h0M402.3 324.5h0M384.6 339.2h0M390.1 328.5h0M399.5 322.7h0M386.8 332.2h0M390.1 325h0M403.9 325.7h0M387.3 332.5h0M386 333h0M394 336.5h0M386 331.6h0M389.6 342.5h0M382.1 334h0M383.7 337.4h0M400.1 323.7h0M394 337.1h0M380.5 334.1h0M392.6 319.3h0M382.2 327.9h0M390.9 327.1h0M383.4 334.1h0M387 328.5h0M397.9 332.9h0M390.6 327.5h0M399.4 320.2h0M398.4 324.3h0M392.3 338.1h0M390.4 323.6h0M385.6 328.3h0M398.2 330.5h0M397.4 333.7h0M384.2 342h0M397.5 330.9h0M381.7 335.3h0M393.7 334.5h0M386.5 336.4h0M388.3 345.3h0M392.1 336.9h0M404.1 329.9h0M388.1 320.6h0M398.5 330.7h0M396.6 331.1h0M388 329.2h0M398 326.3h0M394.8 333.7h0M393.1 333h0M392.5 337.7h0M401.9 325.2h0M396.7 331.2h0M394.7 334.8h0M398.4 321.3h0M398.2 325.1h0M403.1 323.8h0M388.7 333.5h0M395.7 330.1h0M384 330.3h0M406.2 323h0M397.2 324h0M408.8 314.3h0M395.2 325.5h0M402.1 326.1h0M411.4 324.4h0M387.4 335.5h0M393.2 331.9h0M393.6 321.1h0M400.9 327.2h0M398.6 313.9h0M399.9 319.4h0M384.2 348.6h0M391.1 337.6h0M409.9 324.2h0M386.4 344.6h0M395.2 324.6h0M385.2 335.8h0M402 329.7h0M396.6 340.1h0M394.9 333.8h0M404.5 312.1h0M395.4 326.1h0M396.1 331.7h0M395.2 342.4h0M392 326.6h0M398.4 315.4h0M397.6 328.8h0M403.9 318.3h0M398.5 325.5h0M392.9 320.6h0M383.6 338.4h0M399.9 326.8h0M379.8 337.7h0M398.7 330.1h0M391.5 327h0M394.8 318.8h0M399 333.2h0M399.2 328.1h0M400.1 335.5h0M405.7 320.4h0M406.3 330.4h0M378.8 336.9h0M406.3 318.1h0M381 333h0M390.4 337h0M381.7 340.6h0M393.8 338.1h0M393.8 331.5h0M391.1 330h0M393.2 328.6h0M394.3 329.5h0M398.8 329.2h0M388.9 327.8h0M404.2 332.8h0M400.2 331h0M387.9 331.4h0M384.2 334.6h0M396 326.4h0M389.6 337.6h0M399.1 323.2h0M399.1 326.3h0M408.6 328.9h0M396.5 318.3h0M394.4 336h0M397.8 339.6h0M386.6 347.3h0M402.7 327h0M393.4 323.6h0M394.3 331.1h0M383.7 338.2h0M389.9 336.8h0M377.5 345.1h0M415.8 324.3h0M407.7 334.4h0M393.6 337h0M402.2 320.6h0M407.4 326.1h0M396.9 330.2h0M395.2 334.6h0M397 319.7h0M402.1 323.5h0M400.9 320.7h0M398.4 327.8h0M397.4 316.2h0M398.1 327.2h0M392.7 324.4h0M395.7 331.3h0M386 333.8h0M389.6 332.3h0M404.8 319.8h0M400.3 326.4h0M395.8 330.6h0M382.5 338h0M391.1 337.2h0M387.7 346.7h0M394.5 337.8h0M388.4 329.5h0M397.6 323.1h0M391.9 328.8h0M396.3 339.2h0M403.7 317.3h0M405.1 323.3h0M393.7 333.7h0M382.2 334.8h0M389 335.8h0M389.6 332.4h0M397.8 338.1h0M394.2 325h0M391.4 326.8h0M397.5 333.6h0M384.5 345.7h0M387.8 336.4h0M399.5 326.3h0M406 323.8h0M399.7 322.5h0M394.5 322.6h0M385 340.5h0M392.1 335.3h0M392.6 330.7h0M382.4 341.9h0M404.7 323.4h0M395.8 333.7h0M396.7 324.4h0M386.9 331.7h0M386.2 331.3h0M396.2 330h0M396.4 325.6h0M386.3 332h0M396.6 325.4h0M390.5 318.7h0M398.6 322.6h0M383.5 334.6h0M396.2 329.7h0M410.2 324h0M389.5 331h0M396.4 336.2h0M384.8 324.8h0M399.3 330.1h0M399.7 324.8h0M403.7 326.6h0M390.4 338.8h0M395 334.4h0M385.9 321.8h0M390.7 333.9h0M382.1 330.4h0M401.8 322.2h0M390.3 324.3h0M403.4 323h0M402.8 326.4h0M391.2 335.6h0M384.2 328.3h0M397.2 343.8h0M389.1 336.1h0M385.8 328.7h0M390.1 334.6h0M400.3 338.9h0M383.6 329.6h0M392.2 322.6h0M397.2 331.6h0M375.9 343.5h0M386.2 336.9h0M392.2 326.4h0M395.7 335.9h0M399.9 330.8h0M390.3 332.7h0M393.9 336.4h0M386 334.9h0M380.7 331.1h0M394.3 336.3h0M400.5 322.6h0M404.9 321.9h0M392.4 331.7h0M393.7 330.9h0M397.2 319.8h0M388.1 332h0M401.3 326h0M383.4 338.7h0M384.4 332h0M407.3 319.7h0M398.5 306.1h0M398.2 305.9h0M397.9 305.2h0M393.8 302.5h0M398.4 303.9h0M396.5 304.3h0M400.6 303.2h0M399.2 304.5h0M399.2 304.5h0M396.8 306.8h0M398.8 299.6h0M397.2 303.2h0M402.3 302h0M394.2 301.1h0M398.7 301.5h0M400.4 306.6h0M399.2 302.6h0M399 300.6h0M400.1 303.1h0M399.5 304.3h0M404 308.7h0M404.1 302.7h0M393.3 301.7h0M400.6 300.1h0M401.3 301.5h0M392.7 306.7h0M397.2 302.8h0M396.5 305.8h0M400.8 301.8h0M402.3 300.2h0M401.3 302.9h0M396.4 303.9h0M393.6 299.9h0M393.9 300.3h0M400.1 299.3h0M403.9 299.1h0M397.8 307.4h0M399.7 301.1h0M394.6 302.9h0M403.2 301.8h0M403.2 307.1h0M403.7 302.2h0M403.5 302.1h0M400 302.7h0M400.3 300.5h0M406.2 302.5h0M396.5 303.6h0M400.1 300.9h0M399.3 299.4h0M397.9 304.8h0M399.3 301.6h0M397 305h0M403.9 306.9h0M406.4 303.7h0M401.2 306.7h0M399.1 301.4h0M397.3 303.1h0M401.4 302.2h0M399.1 304.3h0M402.8 301.3h0M399.6 308.9h0M398.8 304.1h0M400.8 299.5h0M400 301.7h0M393.4 304h0M404 304.8h0M400.6 303.9h0M399.1 302.6h0M399.8 299.6h0M396.8 306.1h0M395.8 306.8h0M399.2 303.8h0M398.1 301.9h0M396.7 300.7h0M399.5 303.8h0M401.3 301.4h0M397.3 305.7h0M403.3 304.6h0M399.4 303.8h0M402.9 301.5h0M404.1 303.5h0M396.6 303h0M397.4 301h0M403 297.4h0M400.8 306.6h0M399.3 304.1h0M394.9 300.7h0M397.8 299.9h0M397.3 300.1h0M398 302.1h0M397.3 299.3h0M399.4 308.8h0M392.1 305.6h0M394.7 307.4h0M397 303.5h0M400 306.6h0M400.5 299.7h0M401.6 304.2h0M403.2 299.4h0M403.9 305.7h0M400.7 304.4h0M401.2 298.9h0M399.7 304.5h0M398.8 305.9h0M406 301.7h0M396.9 304.5h0M394.7 308.1h0M405.2 299.1h0M394.9 307.1h0M401.5 301.6h0M395.9 303h0M400.5 304.9h0M390.6 303.7h0M396.9 303.9h0M402 299.1h0M397.4 300.4h0M396.5 303.1h0M402.4 302.3h0M398.6 310h0M403.1 298.5h0M397.2 303.2h0M401.4 305.4h0M396.3 302.2h0M397.8 309.9h0M402.3 303.5h0M400.3 299.5h0M402.4 297.4h0M397.5 301.3h0M397 299.3h0M399.2 298.1h0M402.4 300h0M397 301.6h0M396.1 307.4h0M393.5 301.9h0M397.1 305.3h0M400.6 305.6h0M398 299.7h0M393.9 304h0M399.9 300.1h0M399.3 303.7h0M400.7 303.7h0M394.3 305h0M402.3 300.7h0M399.8 308.5h0M399.9 300.4h0M397.5 303.3h0M394.4 306.5h0M401.8 301.8h0M404.2 297.1h0M403.5 302.2h0M396.5 295.6h0M402.8 294.5h0M396.9 302.2h0M397.8 303.5h0M402.5 301.9h0M398.2 311.4h0M399.8 302.4h0M398.8 306.7h0M397.9 304.2h0M400.5 304.1h0M398 299.9h0M402.2 297.5h0M401.6 304.4h0M404.5 301.3h0M395.1 303.6h0M401.1 302.2h0M406.7 300.4h0M406.8 293.2h0M410.9 293.9h0M408.4 297.1h0M401.5 301.3h0M397 303.6h0M413.6 295.6h0M405.7 297.6h0M406 303.6h0M408.4 297.8h0M413.2 292.6h0M400.2 301.9h0M411.9 299.9h0M403.3 298.5h0M415.1 297.2h0M404.6 302.2h0M417 298.1h0M395.3 300.2h0M411.4 297.3h0M410.2 298.8h0M411.7 294h0M402.7 301.2h0M413.6 293.2h0M407 298.9h0M414.1 297.1h0M405.3 297.4h0M394.7 300.1h0M405.6 303.5h0M402.9 297.2h0M413.2 298.8h0M401.2 303.9h0M420.6 295.1h0M405.6 298.9h0M410.1 295.1h0M399.8 298.1h0M418 294.8h0M408.9 301.6h0M414.3 298.1h0M398.6 300.5h0M404.7 302.5h0M419.4 292.5h0M414.9 299.1h0M406.1 294.8h0M423.1 295.7h0M398.4 302.5h0M407.4 301.9h0M405.2 298.7h0M406.4 295.4h0M411.3 293.2h0M405.1 302.5h0M402.7 301.1h0M410.9 299h0M407.8 299.5h0M397.1 299.6h0M412.8 294.5h0M405.6 299.1h0M399.6 299.8h0M400.3 301.3h0M419.1 293.8h0M397.5 300.1h0M411.2 295.9h0M412.7 294.6h0M404.2 298.9h0M400.2 300.7h0M413.2 296.8h0M415.4 293.2h0M413.1 295.2h0M409.1 301.4h0M406.4 298.5h0M410.7 296.2h0M408.9 302.3h0M402.5 302.1h0M415.8 298h0M413.7 300.7h0M402.7 299.2h0M411.5 295.3h0M412.6 299.2h0M403.9 290.6h0M407.8 292.8h0M395.2 305.7h0M405.6 304.3h0M416.6 296h0M416.5 300.7h0M411.5 300.4h0M398 308.8h0M394.4 303.5h0M402.9 302.7h0M405.1 293.2h0M418.6 296.9h0M408.1 301.6h0M398.7 304h0M419.9 291.4h0M396.6 304.9h0M428.1 289.8h0M415.7 296h0M403.4 305.4h0M419.6 292.8h0M402.7 306.8h0M415.4 297.5h0M402 300h0M397.6 304.5h0M407.9 300.8h0M404.6 302.8h0M401.4 300h0M416.2 294.5h0M405.9 299.3h0M405 298.1h0M403.1 305.7h0M411.4 299.9h0M408 299.3h0M409.2 296.4h0M400.8 304.4h0M408.5 302.6h0M410.9 296.8h0M412 296.5h0M419 296.2h0M406.4 297h0M396.9 303.1h0M410.6 297.6h0M395.8 303.3h0M402.1 306.1h0M414.1 296.6h0M402.6 297.2h0M410.2 295.9h0M396.9 303.9h0M415.2 296.9h0M410.3 293.3h0M417.8 290.7h0M403.5 298.1h0M399.8 300.7h0M405.6 301h0M420.7 298.5h0M414.8 302.2h0M405.6 299.7h0M406.7 300.4h0M403.6 299.8h0M409.3 301.3h0M415.6 298.7h0M407.7 297.8h0M422.8 293.5h0M405.8 299.1h0M409.9 297.4h0M414.7 298.4h0M408.7 291.1h0M409.3 294.7h0M411.7 297.6h0M409.4 297.6h0M416.1 291.7h0M422.8 295.2h0M411.6 299.1h0M407.5 302.3h0M411.9 301.7h0M406.8 298.2h0M410.8 299.5h0M412.4 301.2h0M416.9 293.2h0M414.7 297.1h0M406.8 302.1h0M407.4 295.4h0M414.2 298.5h0M403.9 295h0M405.1 294.6h0M420.1 297.7h0M405.4 301.7h0M410.1 294h0M409.5 295.8h0M395.3 304.8h0M406.2 297h0M412.2 298.7h0M405.8 298.2h0M409.9 298.2h0M413.5 291.4h0M405.1 301.3h0M397.3 306.8h0M402.8 304.8h0M399.8 301.7h0M404 297h0M416 292.8h0M412.2 293.9h0M395.2 306.6h0M394.9 315.7h0M394.7 314.7h0M397.6 313h0M398 332.5h0M394.2 302.3h0M396.6 312.2h0M400.6 310.4h0M394.3 325.4h0M399.7 327.6h0M392.2 315.7h0M402.5 311.5h0M395.7 322.7h0M398 316.5h0M396.9 325.5h0M391.2 310.6h0M394.7 314.9h0M392.4 314.6h0M395.8 319.5h0M395.8 304.9h0M397.8 308.1h0M395.4 324.3h0M395.9 309.1h0M396.3 331.4h0M394.2 321.1h0M396.6 314.2h0M396.8 311.3h0M398.9 309.9h0M400.7 319.1h0M400.7 322.9h0M398.3 316.5h0M401 323.3h0M400.2 306.6h0M399.7 320.1h0M400.9 310.2h0M394 312h0M393.1 319.4h0M398.9 326.3h0M391 317h0M394.3 321h0M401.9 314.4h0M398.8 317h0M401.8 322h0M391.4 311.4h0M400.1 315.1h0M394.6 317.7h0M396.5 316.3h0M399 315.4h0M393 321.2h0M397.5 317.6h0M399.3 312.8h0M398.5 317.6h0M394.4 315h0M401.9 314.9h0M396.9 311.4h0M400.3 309.2h0M397.9 327.7h0M395.5 320.3h0M397.7 313.1h0M391.4 312.3h0M391.8 321.8h0M395.9 304.9h0M393.5 311.7h0M401.4 312.1h0M392 315.3h0M397.1 314.1h0M397.2 316h0M399.5 310.5h0M396.5 320.6h0M393.8 319.8h0M395.6 321.4h0M394.7 320.7h0M395.7 314.8h0M399.6 316.3h0M399.2 311.8h0M400.5 326.6h0M394.5 317h0M398 315.6h0M402.2 328.7h0M398.6 317h0M401.7 307.8h0M394.7 307.1h0M397.4 310h0M396.5 315.3h0M398.5 311.5h0M390.7 311.6h0M396.1 316h0M397.5 312h0M399.1 313.1h0M394.2 318.5h0M420.4 310.1h0M408.7 305.6h0M408.9 309h0M416.5 309.2h0M410.7 301.8h0M415.4 302.3h0M404.4 305.4h0M414.3 318.2h0M407.5 294.6h0M409.6 304.5h0M419.2 315h0M412.9 305.8h0M411.2 299.7h0M414.4 307.4h0M404.5 294.5h0M400.3 304h0M410.7 312.8h0M402.4 298.1h0M407.3 298.3h0M416.1 309.9h0M411.7 305.9h0M403.2 315h0M427.8 306.4h0M403.6 301.6h0M426.7 304.9h0M405.9 300.6h0M405.7 303.9h0M403.1 303.2h0M412.7 314.4h0M412.1 310.4h0M417.9 307.2h0M419 303.7h0M416.1 308.8h0M412.1 309.3h0M408 310h0M419.7 302.2h0M410.6 297.5h0M402.5 314.6h0M397.8 311.1h0M414.2 314h0M411.5 302.4h0M406.2 307.6h0M393 306.6h0M410.4 307h0M413.6 304h0M414.9 307h0M419.8 303.6h0M395.9 300.5h0M400.3 301.4h0M395.1 307.2h0M413.3 308.2h0M407.2 306.5h0M398.6 309h0M422.1 302.5h0M418.2 304.2h0M406.9 305.8h0M404.7 306.8h0M418.9 304.5h0M411.2 299.4h0M401.2 336.6h0M406.2 334.1h0M409.5 341.6h0M413.4 334.4h0M408.4 327.7h0M405.4 330.9h0M396.7 341.9h0M408.6 328.3h0M407.9 328.6h0M419.5 327.8h0M398.6 337.3h0M396.9 334.1h0M395.4 327.4h0M408.3 332.4h0M405.6 324.1h0M400.5 334.2h0M411.6 328.2h0M405.8 325.3h0M395.1 327.5h0M398.5 324.8h0M404.7 324.4h0M427.6 328.5h0M409.5 316.5h0M403.9 335.6h0M390.1 326.5h0M411.5 328.3h0M397.7 334.6h0M406.3 320.2h0M409.2 317.7h0M415.1 321.2h0M399.6 335.6h0M410.2 328.6h0M406.6 325h0M422.1 326.8h0M409.7 331.3h0M421 329.2h0M400 335.8h0M402.5 330.7h0M404.4 326.6h0M406.1 326.2h0M423.9 331.2h0M398.7 326.2h0M404.9 329h0M404.9 326.6h0M404.1 334.6h0M409.3 326.1h0M407.1 318.8h0M403.6 339h0M407.4 324.4h0M400.6 328.1h0M412.4 323.8h0M417.9 332.4h0M418.5 323.7h0M409.4 318h0M409.7 339.6h0M404.7 325.6h0M402 331.4h0M404.3 327.2h0M401.8 330.7h0M419.5 336.2h0M391.2 329.3h0M418.8 324.6h0M405.8 330.4h0M412.9 324.4h0M413 332.8h0M404.3 325.8h0M409.4 328.5h0M401.8 330.1h0M398.2 322.9h0M404.1 333.6h0M410.8 325.8h0M386.3 337.3h0M412 329.5h0M401.1 336.6h0M413.8 329.8h0M401.6 335.7h0M424.9 323.7h0M407.1 337.9h0M390.4 327.1h0M402.8 336.6h0M413 329h0M408.9 326.7h0M403.5 331.7h0M408.8 333.4h0M405.6 334.7h0M411.9 327.8h0M383.3 337.8h0M411.1 330.5h0M411.3 330.7h0M418.1 322.1h0M410.7 329.4h0M406.7 330.8h0M396.5 334.5h0M398.9 331.7h0M404.9 331.3h0M408.6 332.3h0M396.2 326.2h0M401.9 331.3h0M405.3 333.6h0M403.9 338.2h0M395.9 326.6h0M399.8 337.3h0M398.3 332.7h0M410.3 324.5h0M412.3 322.6h0M391.8 340.2h0M413.2 323h0M411.2 329.4h0M413.7 321.3h0M410.5 328.7h0" fill="none" stroke="#4040dc" stroke-opacity="0.5" stroke-width="0.5" stroke-linecap="square"/>
<ellipse cx="391.8" cy="331.6" rx="11.55" ry="6.72" fill="#3540e0" fill-opacity="0.42" filter="url(#b2)" transform="rotate(-42 391.8 331.6)"/>
<ellipse cx="391.8" cy="331.6" rx="9.03" ry="5.25" fill="#3048e4" fill-opacity="0.6" filter="url(#b1)" transform="rotate(-42 391.8 331.6)"/>
<ellipse cx="391.8" cy="331.6" rx="7.14" ry="4.09" fill="#2c7ee8" fill-opacity="0.85" filter="url(#b1)" transform="rotate(-42 391.8 331.6)"/>
<ellipse cx="391.8" cy="331.6" rx="5.88" ry="3.36" fill="#25c2d6" fill-opacity="0.95" filter="url(#b0)" transform="rotate(-42 391.8 331.6)"/>
<ellipse cx="391.8" cy="331.6" rx="4.83" ry="2.73" fill="#35d04a" fill-opacity="1" filter="url(#b0)" transform="rotate(-42 391.8 331.6)"/>
<ellipse cx="391.8" cy="331.6" rx="3.04" ry="1.73" fill="#d8e028" fill-opacity="1" filter="url(#b0)" transform="rotate(-42 391.8 331.6)"/>
<ellipse cx="391.8" cy="331.6" rx="1.58" ry="0.95" fill="#f0541a" fill-opacity="1" filter="url(#b0)" transform="rotate(-42 391.8 331.6)"/>
</g>
<line x1="398.7" y1="282.9" x2="398.7" y2="351.6" stroke="#555" stroke-width="0.5"/>
<line x1="368.4" y1="316.6" x2="428.8" y2="316.6" stroke="#555" stroke-width="0.5"/>
<rect x="368.4" y="282.9" width="60.4" height="68.7" fill="none" stroke="#222" stroke-width="0.6"/>
<text x="369.8" y="285.9" font-size="2.3" font-family='"Liberation Sans", sans-serif' fill="#444">Q1</text>
<text x="369.8" y="290.5" font-size="2.3" font-family='"Liberation Sans", sans-serif' fill="#444">4.52%</text>
<text x="427.4" y="285.9" font-size="2.3" text-anchor="end" font-family='"Liberation Sans", sans-serif' fill="#444" dx="-2.5">Q2</text>
<text x="427.4" y="290.5" font-size="2.3" text-anchor="end" font-family='"Liberation Sans", sans-serif' fill="#444">5.74%</text>
<text x="369.8" y="345.4" font-size="2.3" font-family='"Liberation Sans", sans-serif' fill="#444">Q4</text>
<text x="369.8" y="350.2" font-size="2.3" font-family='"Liberation Sans", sans-serif' fill="#444">82.7%</text>
<text x="427.4" y="345.4" font-size="2.3" text-anchor="end" font-family='"Liberation Sans", sans-serif' fill="#444" dx="-2.5">Q3</text>
<text x="427.4" y="350.2" font-size="2.3" text-anchor="end" font-family='"Liberation Sans", sans-serif' fill="#444">7.03%</text>
<line x1="371.6" y1="351.6" x2="371.6" y2="352.6" stroke="#222" stroke-width="0.45"/>
<line x1="367.4" y1="350.2" x2="368.4" y2="350.2" stroke="#222" stroke-width="0.45"/>
<text x="371.6" y="358.2" font-size="3.2" text-anchor="middle" fill="#111" stroke="#111" stroke-width="0.14" font-family='"Liberation Sans", sans-serif'>10<tspan dy="-1.5" font-size="2.2">0</tspan></text>
<text x="366.6" y="351.6" font-size="3.2" text-anchor="end" fill="#111" stroke="#111" stroke-width="0.14" font-family='"Liberation Sans", sans-serif'>10<tspan dy="-1.5" font-size="2.2">0</tspan></text>
<line x1="385.55" y1="351.6" x2="385.55" y2="352.6" stroke="#222" stroke-width="0.45"/>
<line x1="367.4" y1="334.18" x2="368.4" y2="334.18" stroke="#222" stroke-width="0.45"/>
<text x="385.55" y="358.2" font-size="3.2" text-anchor="middle" fill="#111" stroke="#111" stroke-width="0.14" font-family='"Liberation Sans", sans-serif'>10<tspan dy="-1.5" font-size="2.2">1</tspan></text>
<text x="366.6" y="335.57" font-size="3.2" text-anchor="end" fill="#111" stroke="#111" stroke-width="0.14" font-family='"Liberation Sans", sans-serif'>10<tspan dy="-1.5" font-size="2.2">1</tspan></text>
<line x1="399.5" y1="351.6" x2="399.5" y2="352.6" stroke="#222" stroke-width="0.45"/>
<line x1="367.4" y1="318.15" x2="368.4" y2="318.15" stroke="#222" stroke-width="0.45"/>
<text x="399.5" y="358.2" font-size="3.2" text-anchor="middle" fill="#111" stroke="#111" stroke-width="0.14" font-family='"Liberation Sans", sans-serif'>10<tspan dy="-1.5" font-size="2.2">2</tspan></text>
<text x="366.6" y="319.55" font-size="3.2" text-anchor="end" fill="#111" stroke="#111" stroke-width="0.14" font-family='"Liberation Sans", sans-serif'>10<tspan dy="-1.5" font-size="2.2">2</tspan></text>
<line x1="413.45" y1="351.6" x2="413.45" y2="352.6" stroke="#222" stroke-width="0.45"/>
<line x1="367.4" y1="302.12" x2="368.4" y2="302.12" stroke="#222" stroke-width="0.45"/>
<text x="413.45" y="358.2" font-size="3.2" text-anchor="middle" fill="#111" stroke="#111" stroke-width="0.14" font-family='"Liberation Sans", sans-serif'>10<tspan dy="-1.5" font-size="2.2">3</tspan></text>
<text x="366.6" y="303.52" font-size="3.2" text-anchor="end" fill="#111" stroke="#111" stroke-width="0.14" font-family='"Liberation Sans", sans-serif'>10<tspan dy="-1.5" font-size="2.2">3</tspan></text>
<line x1="427.4" y1="351.6" x2="427.4" y2="352.6" stroke="#222" stroke-width="0.45"/>
<line x1="367.4" y1="286.1" x2="368.4" y2="286.1" stroke="#222" stroke-width="0.45"/>
<text x="427.4" y="358.2" font-size="3.2" text-anchor="middle" fill="#111" stroke="#111" stroke-width="0.14" font-family='"Liberation Sans", sans-serif'>10<tspan dy="-1.5" font-size="2.2">4</tspan></text>
<text x="366.6" y="287.5" font-size="3.2" text-anchor="end" fill="#111" stroke="#111" stroke-width="0.14" font-family='"Liberation Sans", sans-serif'>10<tspan dy="-1.5" font-size="2.2">4</tspan></text>
<text x="356.2" y="320.25" font-size="2.1" text-anchor="middle" font-family='"Liberation Sans", sans-serif' fill="#222" transform="rotate(-90 356.2 320.25)">FL3-H::PI</text>
<text x="395.8" y="369" font-size="7.6" text-anchor="middle" font-weight="bold">KD-SLCO3A1</text>
<rect x="205.6" y="288.1" width="19.6" height="68.2" fill="#000"/>
<line x1="215.4" y1="287.5" x2="215.4" y2="288.1" stroke="#000" stroke-width="0.5"/>
<line x1="212.8" y1="287.5" x2="218" y2="287.5" stroke="#000" stroke-width="0.5"/>
<rect x="229" y="294.9" width="19.9" height="61.4" fill="#b94fdc"/>
<line x1="238.95" y1="293.1" x2="238.95" y2="294.9" stroke="#b94fdc" stroke-width="0.5"/>
<line x1="236.35" y1="293.1" x2="241.55" y2="293.1" stroke="#b94fdc" stroke-width="0.5"/>
<line x1="201.8" y1="276.85" x2="201.8" y2="356.85" stroke="#000" stroke-width="1.1"/>
<line x1="199" y1="277.4" x2="201.8" y2="277.4" stroke="#000" stroke-width="1.1"/>
<text x="198.2" y="279.39" font-size="5.7" text-anchor="end" font-weight="bold" font-family='"Liberation Sans", sans-serif' stroke="#000" stroke-width="0.15">20</text>
<line x1="199" y1="297.2" x2="201.8" y2="297.2" stroke="#000" stroke-width="1.1"/>
<text x="198.2" y="299.19" font-size="5.7" text-anchor="end" font-weight="bold" font-family='"Liberation Sans", sans-serif' stroke="#000" stroke-width="0.15">15</text>
<line x1="199" y1="317" x2="201.8" y2="317" stroke="#000" stroke-width="1.1"/>
<text x="198.2" y="319" font-size="5.7" text-anchor="end" font-weight="bold" font-family='"Liberation Sans", sans-serif' stroke="#000" stroke-width="0.15">10</text>
<line x1="199" y1="336.7" x2="201.8" y2="336.7" stroke="#000" stroke-width="1.1"/>
<text x="198.2" y="338.69" font-size="5.7" text-anchor="end" font-weight="bold" font-family='"Liberation Sans", sans-serif' stroke="#000" stroke-width="0.15">5</text>
<line x1="199" y1="356.3" x2="201.8" y2="356.3" stroke="#000" stroke-width="1.1"/>
<text x="198.2" y="358.3" font-size="5.7" text-anchor="end" font-weight="bold" font-family='"Liberation Sans", sans-serif' stroke="#000" stroke-width="0.15">0</text>
<line x1="201.3" y1="356.3" x2="258.8" y2="356.3" stroke="#000" stroke-width="1"/>
<line x1="215.4" y1="356.3" x2="215.4" y2="359.3" stroke="#000" stroke-width="0.9"/>
<line x1="238.95" y1="356.3" x2="238.95" y2="359.3" stroke="#000" stroke-width="0.9"/>
<text x="226.5" y="282.2" font-size="10.4" text-anchor="middle" font-weight="bold" font-family='"Liberation Sans", sans-serif'>**</text>
<line x1="214.8" y1="282.4" x2="238.4" y2="282.4" stroke="#000" stroke-width="1.1"/>
<text x="187.6" y="316.6" font-size="6.7" text-anchor="middle" font-weight="bold" transform="rotate(-90 187.6 316.6)" textLength="64" lengthAdjust="spacingAndGlyphs">Cell apoptosis rate(%)</text>
<text font-size="6.5" text-anchor="end" transform="translate(219.4 363.2) scale(1.04 1) rotate(-45)" font-weight="bold" stroke="#000" stroke-width="0.15">OE-NC</text>
<text font-size="6.5" text-anchor="end" transform="translate(243 363.2) scale(1.04 1) rotate(-45)" font-weight="bold" stroke="#000" stroke-width="0.15">OE-SLCO3A1</text>
<rect x="463.1" y="299" width="19.6" height="54.7" fill="#1a1aff"/>
<line x1="472.9" y1="297.6" x2="472.9" y2="299" stroke="#1a1aff" stroke-width="0.5"/>
<line x1="470.3" y1="297.6" x2="475.5" y2="297.6" stroke="#1a1aff" stroke-width="0.5"/>
<rect x="486.7" y="291.1" width="19.6" height="62.6" fill="#ff7f0e"/>
<line x1="496.5" y1="289.9" x2="496.5" y2="291.1" stroke="#ff7f0e" stroke-width="0.5"/>
<line x1="493.9" y1="289.9" x2="499.1" y2="289.9" stroke="#ff7f0e" stroke-width="0.5"/>
<line x1="459.1" y1="277.35" x2="459.1" y2="354.25" stroke="#000" stroke-width="1.1"/>
<line x1="456.3" y1="277.9" x2="459.1" y2="277.9" stroke="#000" stroke-width="1.1"/>
<text x="455.5" y="279.89" font-size="5.7" text-anchor="end" font-weight="bold" font-family='"Liberation Sans", sans-serif' stroke="#000" stroke-width="0.15">15</text>
<line x1="456.3" y1="303.1" x2="459.1" y2="303.1" stroke="#000" stroke-width="1.1"/>
<text x="455.5" y="305.1" font-size="5.7" text-anchor="end" font-weight="bold" font-family='"Liberation Sans", sans-serif' stroke="#000" stroke-width="0.15">10</text>
<line x1="456.3" y1="328.4" x2="459.1" y2="328.4" stroke="#000" stroke-width="1.1"/>
<text x="455.5" y="330.39" font-size="5.7" text-anchor="end" font-weight="bold" font-family='"Liberation Sans", sans-serif' stroke="#000" stroke-width="0.15">5</text>
<line x1="456.3" y1="353.7" x2="459.1" y2="353.7" stroke="#000" stroke-width="1.1"/>
<text x="455.5" y="355.69" font-size="5.7" text-anchor="end" font-weight="bold" font-family='"Liberation Sans", sans-serif' stroke="#000" stroke-width="0.15">0</text>
<line x1="458.6" y1="353.7" x2="515.7" y2="353.7" stroke="#000" stroke-width="1"/>
<line x1="472.9" y1="353.7" x2="472.9" y2="356.7" stroke="#000" stroke-width="0.9"/>
<line x1="496.5" y1="353.7" x2="496.5" y2="356.7" stroke="#000" stroke-width="0.9"/>
<text x="485.4" y="284.2" font-size="10.4" text-anchor="middle" font-weight="bold" font-family='"Liberation Sans", sans-serif'>**</text>
<line x1="473.5" y1="284.4" x2="497.1" y2="284.4" stroke="#000" stroke-width="1.1"/>
<text x="444.2" y="316" font-size="6.7" text-anchor="middle" font-weight="bold" transform="rotate(-90 444.2 316)" textLength="64" lengthAdjust="spacingAndGlyphs">Cell apoptosis rate(%)</text>
<text font-size="6.5" text-anchor="end" transform="translate(475.8 361.4) scale(1.04 1) rotate(-45)" font-weight="bold" stroke="#000" stroke-width="0.15">KD-NC</text>
<text font-size="6.5" text-anchor="end" transform="translate(500.2 361.4) scale(1.04 1) rotate(-45)" font-weight="bold" stroke="#000" stroke-width="0.15">KD-SLCO3A1</text>
<text font-size="18.4" font-weight="bold" stroke="#000" stroke-width="0.45" transform="translate(10.1 390.8) scale(0.9 1)">I</text>
<text font-size="18.4" font-weight="bold" stroke="#000" stroke-width="0.45" transform="translate(151.3 390.6) scale(0.9 1)">J</text>
<text font-size="18.4" font-weight="bold" stroke="#000" stroke-width="0.45" transform="translate(263.1 390.8) scale(0.9 1)">K</text>
<text font-size="18.4" font-weight="bold" stroke="#000" stroke-width="0.45" transform="translate(422.1 391.2) scale(0.9 1)">L</text>
<rect x="36.9" y="438.6" width="5.9" height="54.6" fill="#000"/>
<line x1="39.85" y1="435.6" x2="39.85" y2="438.6" stroke="#000" stroke-width="0.5"/>
<line x1="38.25" y1="435.6" x2="41.45" y2="435.6" stroke="#000" stroke-width="0.5"/>
<rect x="44.2" y="461.26" width="5.9" height="31.94" fill="#b94fdc"/>
<line x1="47.15" y1="459.62" x2="47.15" y2="461.26" stroke="#b94fdc" stroke-width="0.5"/>
<line x1="45.55" y1="459.62" x2="48.75" y2="459.62" stroke="#b94fdc" stroke-width="0.5"/>
<text x="43.3" y="431.4" font-size="9.6" text-anchor="middle" font-weight="bold" font-family='"Liberation Sans", sans-serif' letter-spacing="0.6">***</text>
<line x1="39.3" y1="432.3" x2="46.8" y2="432.3" stroke="#000" stroke-width="1.3"/>
<line x1="43.5" y1="493.2" x2="43.5" y2="496.2" stroke="#000" stroke-width="0.9"/>
<text font-size="5.9" text-anchor="end" transform="translate(45.8 504.3) scale(1.15 1) rotate(-45)" font-weight="bold" stroke="#000" stroke-width="0.2">P53</text>
<rect x="54.27" y="438.6" width="5.9" height="54.6" fill="#000"/>
<line x1="57.22" y1="435.32" x2="57.22" y2="438.6" stroke="#000" stroke-width="0.5"/>
<line x1="55.62" y1="435.32" x2="58.82" y2="435.32" stroke="#000" stroke-width="0.5"/>
<rect x="61.57" y="481.9" width="5.9" height="11.3" fill="#b94fdc"/>
<line x1="64.52" y1="481.08" x2="64.52" y2="481.9" stroke="#b94fdc" stroke-width="0.5"/>
<line x1="62.92" y1="481.08" x2="66.12" y2="481.08" stroke="#b94fdc" stroke-width="0.5"/>
<text x="60.67" y="431.4" font-size="9.6" text-anchor="middle" font-weight="bold" font-family='"Liberation Sans", sans-serif' letter-spacing="0.6">***</text>
<line x1="56.67" y1="432.3" x2="64.17" y2="432.3" stroke="#000" stroke-width="1.3"/>
<line x1="60.87" y1="493.2" x2="60.87" y2="496.2" stroke="#000" stroke-width="0.9"/>
<text font-size="5.9" text-anchor="end" transform="translate(63.17 504.3) scale(1.15 1) rotate(-45)" font-weight="bold" stroke="#000" stroke-width="0.2">BAD</text>
<rect x="71.64" y="438.6" width="5.9" height="54.6" fill="#000"/>
<line x1="74.59" y1="433.69" x2="74.59" y2="438.6" stroke="#000" stroke-width="0.5"/>
<line x1="72.99" y1="433.69" x2="76.19" y2="433.69" stroke="#000" stroke-width="0.5"/>
<rect x="78.94" y="466.45" width="5.9" height="26.75" fill="#b94fdc"/>
<line x1="81.89" y1="462.62" x2="81.89" y2="466.45" stroke="#b94fdc" stroke-width="0.5"/>
<line x1="80.29" y1="462.62" x2="83.49" y2="462.62" stroke="#b94fdc" stroke-width="0.5"/>
<text x="78.04" y="430.9" font-size="9.6" text-anchor="middle" font-weight="bold" font-family='"Liberation Sans", sans-serif' letter-spacing="0.6">**</text>
<line x1="74.04" y1="431.8" x2="81.54" y2="431.8" stroke="#000" stroke-width="1.3"/>
<line x1="78.24" y1="493.2" x2="78.24" y2="496.2" stroke="#000" stroke-width="0.9"/>
<text font-size="5.9" text-anchor="end" transform="translate(80.54 504.3) scale(1.15 1) rotate(-45)" font-weight="bold" stroke="#000" stroke-width="0.2">BID</text>
<rect x="89.01" y="438.6" width="5.9" height="54.6" fill="#000"/>
<line x1="91.96" y1="436.42" x2="91.96" y2="438.6" stroke="#000" stroke-width="0.5"/>
<line x1="90.36" y1="436.42" x2="93.56" y2="436.42" stroke="#000" stroke-width="0.5"/>
<rect x="96.31" y="455.8" width="5.9" height="37.4" fill="#b94fdc"/>
<line x1="99.26" y1="453.61" x2="99.26" y2="455.8" stroke="#b94fdc" stroke-width="0.5"/>
<line x1="97.66" y1="453.61" x2="100.86" y2="453.61" stroke="#b94fdc" stroke-width="0.5"/>
<text x="95.41" y="431.4" font-size="9.6" text-anchor="middle" font-weight="bold" font-family='"Liberation Sans", sans-serif' letter-spacing="0.6">***</text>
<line x1="91.41" y1="432.3" x2="98.91" y2="432.3" stroke="#000" stroke-width="1.3"/>
<line x1="95.61" y1="493.2" x2="95.61" y2="496.2" stroke="#000" stroke-width="0.9"/>
<text font-size="5.9" text-anchor="end" transform="translate(97.91 504.3) scale(1.15 1) rotate(-45)" font-weight="bold" stroke="#000" stroke-width="0.2">CASP3</text>
<rect x="106.38" y="438.6" width="5.9" height="54.6" fill="#000"/>
<line x1="109.33" y1="436.96" x2="109.33" y2="438.6" stroke="#000" stroke-width="0.5"/>
<line x1="107.73" y1="436.96" x2="110.93" y2="436.96" stroke="#000" stroke-width="0.5"/>
<rect x="113.68" y="463.17" width="5.9" height="30.03" fill="#b94fdc"/>
<line x1="116.63" y1="461.26" x2="116.63" y2="463.17" stroke="#b94fdc" stroke-width="0.5"/>
<line x1="115.03" y1="461.26" x2="118.23" y2="461.26" stroke="#b94fdc" stroke-width="0.5"/>
<text x="112.78" y="431.1" font-size="9.6" text-anchor="middle" font-weight="bold" font-family='"Liberation Sans", sans-serif' letter-spacing="0.6">***</text>
<line x1="108.78" y1="432" x2="116.28" y2="432" stroke="#000" stroke-width="1.3"/>
<line x1="112.98" y1="493.2" x2="112.98" y2="496.2" stroke="#000" stroke-width="0.9"/>
<text font-size="5.9" text-anchor="end" transform="translate(115.28 504.3) scale(1.15 1) rotate(-45)" font-weight="bold" stroke="#000" stroke-width="0.2">CASP7</text>
<rect x="123.75" y="438.6" width="5.9" height="54.6" fill="#000"/>
<line x1="126.7" y1="435.87" x2="126.7" y2="438.6" stroke="#000" stroke-width="0.5"/>
<line x1="125.1" y1="435.87" x2="128.3" y2="435.87" stroke="#000" stroke-width="0.5"/>
<rect x="131.05" y="464.48" width="5.9" height="28.72" fill="#b94fdc"/>
<line x1="134" y1="462.3" x2="134" y2="464.48" stroke="#b94fdc" stroke-width="0.5"/>
<line x1="132.4" y1="462.3" x2="135.6" y2="462.3" stroke="#b94fdc" stroke-width="0.5"/>
<text x="130.15" y="430.4" font-size="9.6" text-anchor="middle" font-weight="bold" font-family='"Liberation Sans", sans-serif' letter-spacing="0.6">***</text>
<line x1="126.15" y1="431.3" x2="133.65" y2="431.3" stroke="#000" stroke-width="1.3"/>
<line x1="130.35" y1="493.2" x2="130.35" y2="496.2" stroke="#000" stroke-width="0.9"/>
<text font-size="5.9" text-anchor="end" transform="translate(132.65 504.3) scale(1.15 1) rotate(-45)" font-weight="bold" stroke="#000" stroke-width="0.2">CASP8</text>
<rect x="141.12" y="438.6" width="5.9" height="54.6" fill="#000"/>
<line x1="144.07" y1="436.69" x2="144.07" y2="438.6" stroke="#000" stroke-width="0.5"/>
<line x1="142.47" y1="436.69" x2="145.67" y2="436.69" stroke="#000" stroke-width="0.5"/>
<rect x="148.42" y="470" width="5.9" height="23.2" fill="#b94fdc"/>
<line x1="151.37" y1="468.36" x2="151.37" y2="470" stroke="#b94fdc" stroke-width="0.5"/>
<line x1="149.77" y1="468.36" x2="152.97" y2="468.36" stroke="#b94fdc" stroke-width="0.5"/>
<text x="147.52" y="431.7" font-size="9.6" text-anchor="middle" font-weight="bold" font-family='"Liberation Sans", sans-serif' letter-spacing="0.6">***</text>
<line x1="143.52" y1="432.6" x2="151.02" y2="432.6" stroke="#000" stroke-width="1.3"/>
<line x1="147.72" y1="493.2" x2="147.72" y2="496.2" stroke="#000" stroke-width="0.9"/>
<text font-size="5.9" text-anchor="end" transform="translate(150.02 504.3) scale(1.15 1) rotate(-45)" font-weight="bold" stroke="#000" stroke-width="0.2">CASP9</text>
<line x1="34" y1="410.65" x2="34" y2="493.75" stroke="#000" stroke-width="1.1"/>
<line x1="31.2" y1="411.2" x2="34" y2="411.2" stroke="#000" stroke-width="1.1"/>
<text x="30.4" y="413.26" font-size="5.9" text-anchor="end" font-weight="bold" stroke="#000" stroke-width="0.25">1.5</text>
<line x1="31.2" y1="438.6" x2="34" y2="438.6" stroke="#000" stroke-width="1.1"/>
<text x="30.4" y="440.67" font-size="5.9" text-anchor="end" font-weight="bold" stroke="#000" stroke-width="0.25">1.0</text>
<line x1="31.2" y1="465.9" x2="34" y2="465.9" stroke="#000" stroke-width="1.1"/>
<text x="30.4" y="467.96" font-size="5.9" text-anchor="end" font-weight="bold" stroke="#000" stroke-width="0.25">0.5</text>
<line x1="31.2" y1="493.2" x2="34" y2="493.2" stroke="#000" stroke-width="1.1"/>
<text x="30.4" y="495.26" font-size="5.9" text-anchor="end" font-weight="bold" stroke="#000" stroke-width="0.25">0.0</text>
<line x1="33.5" y1="493.2" x2="155.6" y2="493.2" stroke="#000" stroke-width="1"/>
<rect x="45.5" y="402.6" width="8.7" height="3.4" fill="#000"/>
<rect x="97" y="402.6" width="8.7" height="3.4" fill="#b94fdc"/>
<text x="58.8" y="406.6" font-size="6.8" stroke="#000" stroke-width="0.12">OE-NC</text>
<text x="110.4" y="406.6" font-size="6.8" stroke="#000" stroke-width="0.12">OE-SLCO3A1</text>
<text x="20" y="452" font-size="5.6" text-anchor="middle" font-weight="bold" transform="rotate(-90 20 452)" textLength="61" lengthAdjust="spacingAndGlyphs">Relative mRNA levels</text>
<clipPath id="bc13"><rect x="189.4" y="445.9" width="57.4" height="17"/></clipPath>
<rect x="189.4" y="445.9" width="57.4" height="17" fill="#f0f0f0"/>
<g clip-path="url(#bc13)">
<ellipse cx="204.8" cy="455.2" rx="12.7" ry="5.5" fill="#333" fill-opacity="0.35" filter="url(#b2)"/>
<ellipse cx="204.8" cy="455.2" rx="11.4" ry="4.1" fill="#000" fill-opacity="1" filter="url(#b1)"/>
<ellipse cx="204.8" cy="455.2" rx="9.8" ry="2.95" fill="#000" fill-opacity="1" filter="url(#b0)"/>
<ellipse cx="233.8" cy="455.9" rx="10.5" ry="2.9" fill="#333" fill-opacity="0.12" filter="url(#b2)"/>
<ellipse cx="233.8" cy="455.9" rx="9.2" ry="1.5" fill="#2a2a2a" fill-opacity="0.75" filter="url(#b1)"/>
<ellipse cx="233.8" cy="455.9" rx="7.91" ry="1.08" fill="#2a2a2a" fill-opacity="0.75" filter="url(#b0)"/>
</g>
<rect x="189.4" y="445.9" width="57.4" height="17" fill="none" stroke="#0a0a0a" stroke-width="1.1"/>
<clipPath id="bc14"><rect x="189.4" y="465.5" width="57.4" height="16.8"/></clipPath>
<rect x="189.4" y="465.5" width="57.4" height="16.8" fill="#f0f0f0"/>
<g clip-path="url(#bc14)">
<ellipse cx="204.6" cy="473.8" rx="11.7" ry="4.2" fill="#333" fill-opacity="0.3" filter="url(#b2)"/>
<ellipse cx="204.6" cy="473.8" rx="10.4" ry="2.8" fill="#000" fill-opacity="1" filter="url(#b1)"/>
<ellipse cx="204.6" cy="473.8" rx="8.94" ry="2.02" fill="#000" fill-opacity="1" filter="url(#b0)"/>
<ellipse cx="230.6" cy="472.9" rx="9.9" ry="3.3" fill="#333" fill-opacity="0.15" filter="url(#b2)"/>
<ellipse cx="230.6" cy="472.9" rx="8.6" ry="1.9" fill="#0a0a0a" fill-opacity="0.95" filter="url(#b1)"/>
<ellipse cx="230.6" cy="472.9" rx="7.4" ry="1.37" fill="#0a0a0a" fill-opacity="0.95" filter="url(#b0)"/>
</g>
<rect x="189.4" y="465.5" width="57.4" height="16.8" fill="none" stroke="#0a0a0a" stroke-width="1.1"/>
<clipPath id="bc15"><rect x="189.4" y="485.1" width="57.4" height="16.7"/></clipPath>
<rect x="189.4" y="485.1" width="57.4" height="16.7" fill="#efefef"/>
<g clip-path="url(#bc15)">
<ellipse cx="204.8" cy="492.8" rx="11.7" ry="4.1" fill="#333" fill-opacity="0.3" filter="url(#b2)"/>
<ellipse cx="204.8" cy="492.8" rx="10.4" ry="2.7" fill="#000" fill-opacity="1" filter="url(#b1)"/>
<ellipse cx="204.8" cy="492.8" rx="8.94" ry="1.94" fill="#000" fill-opacity="1" filter="url(#b0)"/>
<ellipse cx="233.2" cy="492.8" rx="10.5" ry="3.5" fill="#333" fill-opacity="0.18" filter="url(#b2)"/>
<ellipse cx="233.2" cy="492.8" rx="9.2" ry="2.1" fill="#050505" fill-opacity="1" filter="url(#b1)"/>
<ellipse cx="233.2" cy="492.8" rx="7.91" ry="1.51" fill="#050505" fill-opacity="1" filter="url(#b0)"/>
</g>
<rect x="189.4" y="485.1" width="57.4" height="16.7" fill="none" stroke="#0a0a0a" stroke-width="1.1"/>
<text x="186.6" y="457.7" font-size="7.7" text-anchor="end" font-weight="bold" stroke="#000" stroke-width="0.15">CASP3</text>
<text x="249.2" y="457.7" font-size="7.7" font-weight="bold" stroke="#000" stroke-width="0.15">37 kDa</text>
<text x="186.6" y="477.4" font-size="7.7" text-anchor="end" font-weight="bold" stroke="#000" stroke-width="0.15">CASP8</text>
<text x="249.2" y="477.4" font-size="7.7" font-weight="bold" stroke="#000" stroke-width="0.15">55 kDa</text>
<text x="186.6" y="496" font-size="7.7" text-anchor="end" font-weight="bold" stroke="#000" stroke-width="0.15">GAPDH</text>
<text x="249.2" y="496" font-size="7.7" font-weight="bold" stroke="#000" stroke-width="0.15">37 kDa</text>
<text font-size="7.8" text-anchor="start" transform="translate(184.2 427.6) scale(1 1) rotate(32)" font-weight="bold" font-style="italic" stroke="#000" stroke-width="0.2">OE-NC</text>
<text font-size="7.8" text-anchor="start" transform="translate(192.8 414.6) scale(1 1) rotate(32)" font-weight="bold" font-style="italic" stroke="#000" stroke-width="0.2">OE-SLCO3A1</text>
<clipPath id="bc16"><rect x="459.4" y="445.9" width="57.4" height="16.3"/></clipPath>
<rect x="459.4" y="445.9" width="57.4" height="16.3" fill="#eeeeee"/>
<g clip-path="url(#bc16)">
<ellipse cx="472.5" cy="458.5" rx="10" ry="2.5" fill="#999" fill-opacity="0.4" filter="url(#b2)"/>
<ellipse cx="472.4" cy="453.9" rx="11.1" ry="2.9" fill="#333" fill-opacity="0.15" filter="url(#b2)"/>
<ellipse cx="472.4" cy="453.9" rx="9.8" ry="1.5" fill="#0a0a0a" fill-opacity="0.95" filter="url(#b1)"/>
<ellipse cx="472.4" cy="453.9" rx="8.43" ry="1.08" fill="#0a0a0a" fill-opacity="0.95" filter="url(#b0)"/>
<ellipse cx="465.6" cy="453.3" rx="4.5" ry="3.4" fill="#333" fill-opacity="0.1" filter="url(#b2)"/>
<ellipse cx="465.6" cy="453.3" rx="3.2" ry="2" fill="#000" fill-opacity="1" filter="url(#b1)"/>
<ellipse cx="465.6" cy="453.3" rx="2.75" ry="1.44" fill="#000" fill-opacity="1" filter="url(#b0)"/>
<ellipse cx="479.6" cy="454.3" rx="4.5" ry="3.4" fill="#333" fill-opacity="0.1" filter="url(#b2)"/>
<ellipse cx="479.6" cy="454.3" rx="3.2" ry="2" fill="#000" fill-opacity="1" filter="url(#b1)"/>
<ellipse cx="479.6" cy="454.3" rx="2.75" ry="1.44" fill="#000" fill-opacity="1" filter="url(#b0)"/>
<ellipse cx="503.8" cy="453.6" rx="11.3" ry="4" fill="#333" fill-opacity="0.25" filter="url(#b2)"/>
<ellipse cx="503.8" cy="453.6" rx="10" ry="2.6" fill="#000" fill-opacity="1" filter="url(#b1)"/>
<ellipse cx="503.8" cy="453.6" rx="8.6" ry="1.87" fill="#000" fill-opacity="1" filter="url(#b0)"/>
</g>
<rect x="459.4" y="445.9" width="57.4" height="16.3" fill="none" stroke="#0a0a0a" stroke-width="1.1"/>
<clipPath id="bc17"><rect x="459.4" y="465.2" width="57.4" height="17.1"/></clipPath>
<rect x="459.4" y="465.2" width="57.4" height="17.1" fill="#bdbdbd"/>
<g clip-path="url(#bc17)">
<ellipse cx="488" cy="474" rx="36" ry="7" fill="#666" fill-opacity="0.45" filter="url(#b2)"/>
<ellipse cx="473.8" cy="474.2" rx="13.1" ry="5.6" fill="#333" fill-opacity="0.45" filter="url(#b2)"/>
<ellipse cx="473.8" cy="474.2" rx="11.8" ry="4.2" fill="#000" fill-opacity="1" filter="url(#b1)"/>
<ellipse cx="473.8" cy="474.2" rx="10.15" ry="3.02" fill="#000" fill-opacity="1" filter="url(#b0)"/>
<ellipse cx="500.4" cy="474" rx="13.1" ry="5.9" fill="#333" fill-opacity="0.45" filter="url(#b2)"/>
<ellipse cx="500.4" cy="474" rx="11.8" ry="4.5" fill="#000" fill-opacity="1" filter="url(#b1)"/>
<ellipse cx="500.4" cy="474" rx="10.15" ry="3.24" fill="#000" fill-opacity="1" filter="url(#b0)"/>
</g>
<rect x="459.4" y="465.2" width="57.4" height="17.1" fill="none" stroke="#0a0a0a" stroke-width="1.1"/>
<clipPath id="bc18"><rect x="459.4" y="485.1" width="57.4" height="16.7"/></clipPath>
<rect x="459.4" y="485.1" width="57.4" height="16.7" fill="#eeeeee"/>
<g clip-path="url(#bc18)">
<ellipse cx="473.2" cy="494.2" rx="12.1" ry="4.1" fill="#333" fill-opacity="0.3" filter="url(#b2)"/>
<ellipse cx="473.2" cy="494.2" rx="10.8" ry="2.7" fill="#000" fill-opacity="1" filter="url(#b1)"/>
<ellipse cx="473.2" cy="494.2" rx="9.29" ry="1.94" fill="#000" fill-opacity="1" filter="url(#b0)"/>
<ellipse cx="499.2" cy="494.6" rx="11.5" ry="3.7" fill="#333" fill-opacity="0.2" filter="url(#b2)"/>
<ellipse cx="499.2" cy="494.6" rx="10.2" ry="2.3" fill="#000" fill-opacity="1" filter="url(#b1)"/>
<ellipse cx="499.2" cy="494.6" rx="8.77" ry="1.66" fill="#000" fill-opacity="1" filter="url(#b0)"/>
</g>
<rect x="459.4" y="485.1" width="57.4" height="16.7" fill="none" stroke="#0a0a0a" stroke-width="1.1"/>
<text x="456.6" y="457.7" font-size="7.7" text-anchor="end" font-weight="bold" stroke="#000" stroke-width="0.15">CASP3</text>
<text x="519.8" y="457.7" font-size="7.7" font-weight="bold" stroke="#000" stroke-width="0.15">37 kDa</text>
<text x="456.6" y="477.4" font-size="7.7" text-anchor="end" font-weight="bold" stroke="#000" stroke-width="0.15">CASP8</text>
<text x="519.8" y="477.4" font-size="7.7" font-weight="bold" stroke="#000" stroke-width="0.15">55 kDa</text>
<text x="456.6" y="496" font-size="7.7" text-anchor="end" font-weight="bold" stroke="#000" stroke-width="0.15">GAPDH</text>
<text x="519.8" y="496" font-size="7.7" font-weight="bold" stroke="#000" stroke-width="0.15">37 kDa</text>
<text font-size="7.8" text-anchor="start" transform="translate(449.4 430.2) scale(1 1) rotate(32)" font-weight="bold" font-style="italic" stroke="#000" stroke-width="0.2">KD-NC</text>
<text font-size="7.8" text-anchor="start" transform="translate(459.8 417.2) scale(1 1) rotate(32)" font-weight="bold" font-style="italic" stroke="#000" stroke-width="0.2">KD-SLCO3A1</text>
<rect x="302.6" y="482.87" width="6" height="12.13" fill="#1a1aff"/>
<line x1="305.6" y1="476.82" x2="305.6" y2="482.87" stroke="#1a1aff" stroke-width="0.5"/>
<line x1="304" y1="476.82" x2="307.2" y2="476.82" stroke="#1a1aff" stroke-width="0.5"/>
<rect x="310.1" y="436.01" width="6.2" height="16.79" fill="#ff7f0e"/>
<rect x="310.1" y="458.6" width="6.2" height="36.4" fill="#ff7f0e"/>
<line x1="313.2" y1="427.06" x2="313.2" y2="436.01" stroke="#ff7f0e" stroke-width="0.5"/>
<line x1="311.6" y1="427.06" x2="314.8" y2="427.06" stroke="#ff7f0e" stroke-width="0.5"/>
<text x="311.4" y="422.5" font-size="9.6" text-anchor="middle" font-weight="bold" font-family='"Liberation Sans", sans-serif' letter-spacing="0.6">***</text>
<line x1="307.6" y1="423.4" x2="315.2" y2="423.4" stroke="#000" stroke-width="1.3"/>
<line x1="309.4" y1="495" x2="309.4" y2="498" stroke="#000" stroke-width="0.9"/>
<text font-size="5.9" text-anchor="end" transform="translate(311.7 504.3) scale(1.15 1) rotate(-45)" font-weight="bold" stroke="#000" stroke-width="0.2">P53</text>
<rect x="320.58" y="482.87" width="6" height="12.13" fill="#1a1aff"/>
<line x1="323.58" y1="482.38" x2="323.58" y2="482.87" stroke="#1a1aff" stroke-width="0.5"/>
<line x1="321.98" y1="482.38" x2="325.18" y2="482.38" stroke="#1a1aff" stroke-width="0.5"/>
<rect x="328.08" y="471.95" width="6.2" height="23.05" fill="#ff7f0e"/>
<line x1="331.18" y1="468.55" x2="331.18" y2="471.95" stroke="#ff7f0e" stroke-width="0.5"/>
<line x1="329.58" y1="468.55" x2="332.78" y2="468.55" stroke="#ff7f0e" stroke-width="0.5"/>
<text x="329.38" y="463.7" font-size="9.6" text-anchor="middle" font-weight="bold" font-family='"Liberation Sans", sans-serif' letter-spacing="0.6">**</text>
<line x1="325.58" y1="464.6" x2="333.18" y2="464.6" stroke="#000" stroke-width="1.3"/>
<line x1="327.38" y1="495" x2="327.38" y2="498" stroke="#000" stroke-width="0.9"/>
<text font-size="5.9" text-anchor="end" transform="translate(329.68 504.3) scale(1.15 1) rotate(-45)" font-weight="bold" stroke="#000" stroke-width="0.2">BAD</text>
<rect x="338.56" y="482.87" width="6" height="12.13" fill="#1a1aff"/>
<line x1="341.56" y1="482.38" x2="341.56" y2="482.87" stroke="#1a1aff" stroke-width="0.5"/>
<line x1="339.96" y1="482.38" x2="343.16" y2="482.38" stroke="#1a1aff" stroke-width="0.5"/>
<rect x="346.06" y="462.24" width="6.2" height="32.76" fill="#ff7f0e"/>
<line x1="349.16" y1="460.06" x2="349.16" y2="462.24" stroke="#ff7f0e" stroke-width="0.5"/>
<line x1="347.56" y1="460.06" x2="350.76" y2="460.06" stroke="#ff7f0e" stroke-width="0.5"/>
<text x="347.36" y="455.8" font-size="9.6" text-anchor="middle" font-weight="bold" font-family='"Liberation Sans", sans-serif' letter-spacing="0.6">***</text>
<line x1="343.56" y1="456.7" x2="351.16" y2="456.7" stroke="#000" stroke-width="1.3"/>
<line x1="345.36" y1="495" x2="345.36" y2="498" stroke="#000" stroke-width="0.9"/>
<text font-size="5.9" text-anchor="end" transform="translate(347.66 504.3) scale(1.15 1) rotate(-45)" font-weight="bold" stroke="#000" stroke-width="0.2">BID</text>
<rect x="356.54" y="482.87" width="6" height="12.13" fill="#1a1aff"/>
<line x1="359.54" y1="482.26" x2="359.54" y2="482.87" stroke="#1a1aff" stroke-width="0.5"/>
<line x1="357.94" y1="482.26" x2="361.14" y2="482.26" stroke="#1a1aff" stroke-width="0.5"/>
<rect x="364.04" y="474.98" width="6.2" height="20.02" fill="#ff7f0e"/>
<line x1="367.14" y1="474.37" x2="367.14" y2="474.98" stroke="#ff7f0e" stroke-width="0.5"/>
<line x1="365.54" y1="474.37" x2="368.74" y2="474.37" stroke="#ff7f0e" stroke-width="0.5"/>
<text x="365.34" y="468.1" font-size="9.6" text-anchor="middle" font-weight="bold" font-family='"Liberation Sans", sans-serif' letter-spacing="0.6">***</text>
<line x1="361.54" y1="469" x2="369.14" y2="469" stroke="#000" stroke-width="1.3"/>
<line x1="363.34" y1="495" x2="363.34" y2="498" stroke="#000" stroke-width="0.9"/>
<text font-size="5.9" text-anchor="end" transform="translate(365.64 504.3) scale(1.15 1) rotate(-45)" font-weight="bold" stroke="#000" stroke-width="0.2">CASP3</text>
<rect x="374.52" y="482.87" width="6" height="12.13" fill="#1a1aff"/>
<line x1="377.52" y1="482.5" x2="377.52" y2="482.87" stroke="#1a1aff" stroke-width="0.5"/>
<line x1="375.92" y1="482.5" x2="379.12" y2="482.5" stroke="#1a1aff" stroke-width="0.5"/>
<rect x="382.02" y="466.49" width="6.2" height="28.51" fill="#ff7f0e"/>
<line x1="385.12" y1="466" x2="385.12" y2="466.49" stroke="#ff7f0e" stroke-width="0.5"/>
<line x1="383.52" y1="466" x2="386.72" y2="466" stroke="#ff7f0e" stroke-width="0.5"/>
<text x="383.32" y="461.3" font-size="9.6" text-anchor="middle" font-weight="bold" font-family='"Liberation Sans", sans-serif' letter-spacing="0.6">**</text>
<line x1="379.52" y1="462.2" x2="387.12" y2="462.2" stroke="#000" stroke-width="1.3"/>
<line x1="381.32" y1="495" x2="381.32" y2="498" stroke="#000" stroke-width="0.9"/>
<text font-size="5.9" text-anchor="end" transform="translate(383.62 504.3) scale(1.15 1) rotate(-45)" font-weight="bold" stroke="#000" stroke-width="0.2">CASP7</text>
<rect x="392.5" y="482.87" width="6" height="12.13" fill="#1a1aff"/>
<line x1="395.5" y1="482.5" x2="395.5" y2="482.87" stroke="#1a1aff" stroke-width="0.5"/>
<line x1="393.9" y1="482.5" x2="397.1" y2="482.5" stroke="#1a1aff" stroke-width="0.5"/>
<rect x="400" y="476.19" width="6.2" height="18.81" fill="#ff7f0e"/>
<line x1="403.1" y1="475.59" x2="403.1" y2="476.19" stroke="#ff7f0e" stroke-width="0.5"/>
<line x1="401.5" y1="475.59" x2="404.7" y2="475.59" stroke="#ff7f0e" stroke-width="0.5"/>
<text x="401.3" y="471.1" font-size="9.6" text-anchor="middle" font-weight="bold" font-family='"Liberation Sans", sans-serif' letter-spacing="0.6">***</text>
<line x1="397.5" y1="472" x2="405.1" y2="472" stroke="#000" stroke-width="1.3"/>
<line x1="399.3" y1="495" x2="399.3" y2="498" stroke="#000" stroke-width="0.9"/>
<text font-size="5.9" text-anchor="end" transform="translate(401.6 504.3) scale(1.15 1) rotate(-45)" font-weight="bold" stroke="#000" stroke-width="0.2">CASP8</text>
<rect x="410.48" y="482.87" width="6" height="12.13" fill="#1a1aff"/>
<line x1="413.48" y1="481.66" x2="413.48" y2="482.87" stroke="#1a1aff" stroke-width="0.5"/>
<line x1="411.88" y1="481.66" x2="415.08" y2="481.66" stroke="#1a1aff" stroke-width="0.5"/>
<rect x="417.98" y="473.16" width="6.2" height="21.84" fill="#ff7f0e"/>
<line x1="421.08" y1="472.55" x2="421.08" y2="473.16" stroke="#ff7f0e" stroke-width="0.5"/>
<line x1="419.48" y1="472.55" x2="422.68" y2="472.55" stroke="#ff7f0e" stroke-width="0.5"/>
<text x="419.28" y="467.7" font-size="9.6" text-anchor="middle" font-weight="bold" font-family='"Liberation Sans", sans-serif' letter-spacing="0.6">***</text>
<line x1="415.48" y1="468.6" x2="423.08" y2="468.6" stroke="#000" stroke-width="1.3"/>
<line x1="417.28" y1="495" x2="417.28" y2="498" stroke="#000" stroke-width="0.9"/>
<text font-size="5.9" text-anchor="end" transform="translate(419.58 504.3) scale(1.15 1) rotate(-45)" font-weight="bold" stroke="#000" stroke-width="0.2">CASP9</text>
<line x1="300" y1="415" x2="300" y2="453.4" stroke="#000" stroke-width="1"/>
<line x1="300" y1="458" x2="300" y2="495.5" stroke="#000" stroke-width="1"/>
<line x1="297.6" y1="454.2" x2="302.4" y2="452.6" stroke="#000" stroke-width="0.8"/>
<line x1="297.6" y1="458.8" x2="302.4" y2="457.2" stroke="#000" stroke-width="0.8"/>
<line x1="299.5" y1="495" x2="425.6" y2="495" stroke="#000" stroke-width="1"/>
<line x1="297.2" y1="415.5" x2="300" y2="415.5" stroke="#000" stroke-width="1"/>
<text x="296.4" y="417.4" font-size="5.9" text-anchor="end" font-weight="bold" stroke="#000" stroke-width="0.25">20</text>
<line x1="297.2" y1="434.2" x2="300" y2="434.2" stroke="#000" stroke-width="1"/>
<text x="296.4" y="436.1" font-size="5.9" text-anchor="end" font-weight="bold" stroke="#000" stroke-width="0.25">15</text>
<line x1="297.2" y1="452.8" x2="300" y2="452.8" stroke="#000" stroke-width="1"/>
<text x="296.4" y="454.7" font-size="5.9" text-anchor="end" font-weight="bold" stroke="#000" stroke-width="0.25">10</text>
<line x1="297.2" y1="458.6" x2="300" y2="458.6" stroke="#000" stroke-width="1"/>
<text x="296.4" y="460.5" font-size="5.9" text-anchor="end" font-weight="bold" stroke="#000" stroke-width="0.25">3</text>
<line x1="297.2" y1="470.7" x2="300" y2="470.7" stroke="#000" stroke-width="1"/>
<text x="296.4" y="472.6" font-size="5.9" text-anchor="end" font-weight="bold" stroke="#000" stroke-width="0.25">2</text>
<line x1="297.2" y1="482.9" x2="300" y2="482.9" stroke="#000" stroke-width="1"/>
<text x="296.4" y="484.8" font-size="5.9" text-anchor="end" font-weight="bold" stroke="#000" stroke-width="0.25">1</text>
<line x1="297.2" y1="495" x2="300" y2="495" stroke="#000" stroke-width="1"/>
<text x="296.4" y="496.9" font-size="5.9" text-anchor="end" font-weight="bold" stroke="#000" stroke-width="0.25">0</text>
<rect x="309.3" y="402.6" width="8.3" height="3.4" fill="#1a1aff"/>
<rect x="362.5" y="402.6" width="8.3" height="3.4" fill="#ff7f0e"/>
<text x="322.2" y="406.6" font-size="6.6" stroke="#000" stroke-width="0.12">KD-NC</text>
<text x="376" y="406.6" font-size="6.6" stroke="#000" stroke-width="0.12">KD-SLCO3A1</text>
<text x="286" y="455.6" font-size="5.6" text-anchor="middle" font-weight="bold" transform="rotate(-90 286 455.6)" textLength="59.8" lengthAdjust="spacingAndGlyphs">Relative mRNA levels</text>
</svg>
</body>
</html>
